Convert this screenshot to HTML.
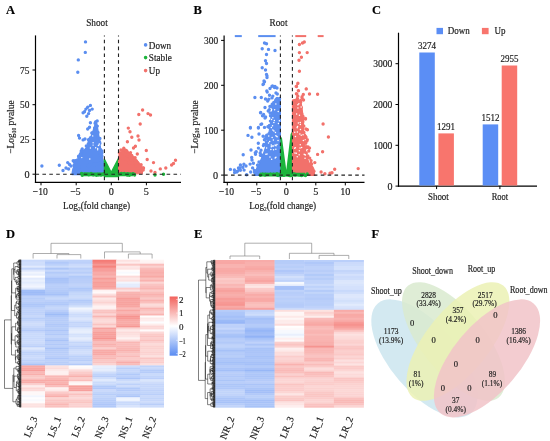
<!DOCTYPE html>
<html><head><meta charset="utf-8"><style>
html,body{margin:0;padding:0;background:#fff;width:550px;height:441px;overflow:hidden}
svg{display:block;font-family:"Liberation Serif",serif;will-change:transform}
text{stroke:#222;stroke-width:0.18px}
</style></head><body>
<svg width="550" height="441" viewBox="0 0 550 441">
<rect width="550" height="441" fill="#fff"/>
<text x="6" y="14" font-size="12.5" font-weight="bold" fill="#000">A</text>
<text x="193.5" y="14" font-size="12.5" font-weight="bold" fill="#000">B</text>
<text x="372" y="14" font-size="12.5" font-weight="bold" fill="#000">C</text>
<text x="6" y="237.8" font-size="12.5" font-weight="bold" fill="#000">D</text>
<text x="194" y="237.8" font-size="12.5" font-weight="bold" fill="#000">E</text>
<text x="371.5" y="237.8" font-size="12.5" font-weight="bold" fill="#000">F</text>
<line x1="35.5" y1="35.4" x2="35.5" y2="182.9" stroke="#000" stroke-width="1.2"/>
<line x1="34.9" y1="182.3" x2="181" y2="182.3" stroke="#000" stroke-width="1.2"/>
<line x1="32.5" y1="174.2" x2="35.5" y2="174.2" stroke="#000" stroke-width="1"/>
<text x="29.5" y="177.7" font-size="10.2" text-anchor="end" fill="#1a1a1a">0</text>
<line x1="32.5" y1="139.4" x2="35.5" y2="139.4" stroke="#000" stroke-width="1"/>
<text x="29.5" y="142.9" font-size="10.2" text-anchor="end" textLength="9.4" lengthAdjust="spacingAndGlyphs" fill="#1a1a1a">25</text>
<line x1="32.5" y1="104.7" x2="35.5" y2="104.7" stroke="#000" stroke-width="1"/>
<text x="29.5" y="108.2" font-size="10.2" text-anchor="end" textLength="9.4" lengthAdjust="spacingAndGlyphs" fill="#1a1a1a">50</text>
<line x1="32.5" y1="70" x2="35.5" y2="70" stroke="#000" stroke-width="1"/>
<text x="29.5" y="73.5" font-size="10.2" text-anchor="end" textLength="9.4" lengthAdjust="spacingAndGlyphs" fill="#1a1a1a">75</text>
<line x1="41" y1="182.3" x2="41" y2="185.3" stroke="#000" stroke-width="1"/>
<text x="40.3" y="195.3" font-size="10.2" text-anchor="middle" textLength="15" lengthAdjust="spacingAndGlyphs" fill="#1a1a1a">−10</text>
<line x1="76.2" y1="182.3" x2="76.2" y2="185.3" stroke="#000" stroke-width="1"/>
<text x="75.5" y="195.3" font-size="10.2" text-anchor="middle" textLength="10.2" lengthAdjust="spacingAndGlyphs" fill="#1a1a1a">−5</text>
<line x1="111.3" y1="182.3" x2="111.3" y2="185.3" stroke="#000" stroke-width="1"/>
<text x="111.3" y="195.3" font-size="10.2" text-anchor="middle" fill="#1a1a1a">0</text>
<line x1="146.4" y1="182.3" x2="146.4" y2="185.3" stroke="#000" stroke-width="1"/>
<text x="146.4" y="195.3" font-size="10.2" text-anchor="middle" fill="#1a1a1a">5</text>
<text x="86.2" y="26.1" font-size="10.5" textLength="21.6" lengthAdjust="spacingAndGlyphs" fill="#1a1a1a">Shoot</text>
<text x="96.6" y="208.7" font-size="9.6" text-anchor="middle" textLength="67" lengthAdjust="spacingAndGlyphs" fill="#1a1a1a">Log<tspan font-size="5.5" dy="1.8">2</tspan><tspan dy="-1.8">(fold change)</tspan></text>
<text transform="translate(13.9,127.1) rotate(-90)" font-size="9.6" text-anchor="middle" textLength="53.5" lengthAdjust="spacingAndGlyphs" fill="#1a1a1a">−Log<tspan font-size="5.5" dy="1.8">10</tspan><tspan dy="-1.8"> pvalue</tspan></text>
<path d="M72 174.5L73 169L76 161.7L82.2 152.6L86.8 147.2L92.5 133L96.3 121L98.3 133L100.6 149.7L103 160.8L104.4 163L104.4 174.5Z" fill="#5b8ef0" stroke="#5b8ef0" stroke-width="1.5" stroke-linejoin="round"/>
<path d="M90.1 133a1.7 1.7 0 1 0 3.4 0a1.7 1.7 0 1 0 -3.4 0M75.2 160.2a1.7 1.7 0 1 0 3.4 0a1.7 1.7 0 1 0 -3.4 0M74.2 161a1.7 1.7 0 1 0 3.4 0a1.7 1.7 0 1 0 -3.4 0M93.9 122a1.7 1.7 0 1 0 3.4 0a1.7 1.7 0 1 0 -3.4 0M95.5 120.9a1.7 1.7 0 1 0 3.4 0a1.7 1.7 0 1 0 -3.4 0M86.4 145.7a1.7 1.7 0 1 0 3.4 0a1.7 1.7 0 1 0 -3.4 0M97.5 142.4a1.7 1.7 0 1 0 3.4 0a1.7 1.7 0 1 0 -3.4 0M74.4 162.9a1.7 1.7 0 1 0 3.4 0a1.7 1.7 0 1 0 -3.4 0M79.4 152.4a1.7 1.7 0 1 0 3.4 0a1.7 1.7 0 1 0 -3.4 0M93.8 164.7a1.7 1.7 0 1 0 3.4 0a1.7 1.7 0 1 0 -3.4 0M98.5 149.2a1.7 1.7 0 1 0 3.4 0a1.7 1.7 0 1 0 -3.4 0M73.4 160.8a1.7 1.7 0 1 0 3.4 0a1.7 1.7 0 1 0 -3.4 0M99.7 153.9a1.7 1.7 0 1 0 3.4 0a1.7 1.7 0 1 0 -3.4 0M97.8 141.8a1.7 1.7 0 1 0 3.4 0a1.7 1.7 0 1 0 -3.4 0M97.8 163.4a1.7 1.7 0 1 0 3.4 0a1.7 1.7 0 1 0 -3.4 0M97.7 141.8a1.7 1.7 0 1 0 3.4 0a1.7 1.7 0 1 0 -3.4 0M100.7 161.7a1.7 1.7 0 1 0 3.4 0a1.7 1.7 0 1 0 -3.4 0M78.2 156.3a1.7 1.7 0 1 0 3.4 0a1.7 1.7 0 1 0 -3.4 0M80.9 151a1.7 1.7 0 1 0 3.4 0a1.7 1.7 0 1 0 -3.4 0M100.2 153a1.7 1.7 0 1 0 3.4 0a1.7 1.7 0 1 0 -3.4 0M86.6 166.5a1.7 1.7 0 1 0 3.4 0a1.7 1.7 0 1 0 -3.4 0M98.2 143.3a1.7 1.7 0 1 0 3.4 0a1.7 1.7 0 1 0 -3.4 0M92.6 165.1a1.7 1.7 0 1 0 3.4 0a1.7 1.7 0 1 0 -3.4 0M98.4 152.8a1.7 1.7 0 1 0 3.4 0a1.7 1.7 0 1 0 -3.4 0M100.2 150.9a1.7 1.7 0 1 0 3.4 0a1.7 1.7 0 1 0 -3.4 0M88.8 137.7a1.7 1.7 0 1 0 3.4 0a1.7 1.7 0 1 0 -3.4 0M72.3 165.5a1.7 1.7 0 1 0 3.4 0a1.7 1.7 0 1 0 -3.4 0M77.3 156.4a1.7 1.7 0 1 0 3.4 0a1.7 1.7 0 1 0 -3.4 0M78.6 154.2a1.7 1.7 0 1 0 3.4 0a1.7 1.7 0 1 0 -3.4 0M86.6 165.8a1.7 1.7 0 1 0 3.4 0a1.7 1.7 0 1 0 -3.4 0M98.2 138.5a1.7 1.7 0 1 0 3.4 0a1.7 1.7 0 1 0 -3.4 0M88 165.5a1.7 1.7 0 1 0 3.4 0a1.7 1.7 0 1 0 -3.4 0M93.2 129.4a1.7 1.7 0 1 0 3.4 0a1.7 1.7 0 1 0 -3.4 0M80.1 151.5a1.7 1.7 0 1 0 3.4 0a1.7 1.7 0 1 0 -3.4 0M86.6 143.6a1.7 1.7 0 1 0 3.4 0a1.7 1.7 0 1 0 -3.4 0M86.8 139.7a1.7 1.7 0 1 0 3.4 0a1.7 1.7 0 1 0 -3.4 0M92.9 128.1a1.7 1.7 0 1 0 3.4 0a1.7 1.7 0 1 0 -3.4 0M100.2 155.9a1.7 1.7 0 1 0 3.4 0a1.7 1.7 0 1 0 -3.4 0M98.7 154.8a1.7 1.7 0 1 0 3.4 0a1.7 1.7 0 1 0 -3.4 0M100 164.4a1.7 1.7 0 1 0 3.4 0a1.7 1.7 0 1 0 -3.4 0M93.4 123.2a1.7 1.7 0 1 0 3.4 0a1.7 1.7 0 1 0 -3.4 0M97.7 147.5a1.7 1.7 0 1 0 3.4 0a1.7 1.7 0 1 0 -3.4 0M84.6 146a1.7 1.7 0 1 0 3.4 0a1.7 1.7 0 1 0 -3.4 0M72.7 161.9a1.7 1.7 0 1 0 3.4 0a1.7 1.7 0 1 0 -3.4 0M76.9 156.3a1.7 1.7 0 1 0 3.4 0a1.7 1.7 0 1 0 -3.4 0M87.5 165.1a1.7 1.7 0 1 0 3.4 0a1.7 1.7 0 1 0 -3.4 0M87.2 140.8a1.7 1.7 0 1 0 3.4 0a1.7 1.7 0 1 0 -3.4 0M79.6 156.3a1.7 1.7 0 1 0 3.4 0a1.7 1.7 0 1 0 -3.4 0M95.6 126.1a1.7 1.7 0 1 0 3.4 0a1.7 1.7 0 1 0 -3.4 0M76.9 156.8a1.7 1.7 0 1 0 3.4 0a1.7 1.7 0 1 0 -3.4 0M92.1 163.7a1.7 1.7 0 1 0 3.4 0a1.7 1.7 0 1 0 -3.4 0M77.6 167a1.7 1.7 0 1 0 3.4 0a1.7 1.7 0 1 0 -3.4 0M96 137a1.7 1.7 0 1 0 3.4 0a1.7 1.7 0 1 0 -3.4 0M74.9 169a1.7 1.7 0 1 0 3.4 0a1.7 1.7 0 1 0 -3.4 0M87.6 139.3a1.7 1.7 0 1 0 3.4 0a1.7 1.7 0 1 0 -3.4 0M100.2 164.2a1.7 1.7 0 1 0 3.4 0a1.7 1.7 0 1 0 -3.4 0M90.5 132.6a1.7 1.7 0 1 0 3.4 0a1.7 1.7 0 1 0 -3.4 0M74.1 169.4a1.7 1.7 0 1 0 3.4 0a1.7 1.7 0 1 0 -3.4 0M94.9 164a1.7 1.7 0 1 0 3.4 0a1.7 1.7 0 1 0 -3.4 0M96.3 132.5a1.7 1.7 0 1 0 3.4 0a1.7 1.7 0 1 0 -3.4 0" fill="#5b8ef0"/>
<path d="M83.8 41.9a1.7 1.7 0 1 0 3.4 0a1.7 1.7 0 1 0 -3.4 0M83.6 52.4a1.7 1.7 0 1 0 3.4 0a1.7 1.7 0 1 0 -3.4 0M76.6 59.9a1.7 1.7 0 1 0 3.4 0a1.7 1.7 0 1 0 -3.4 0M76.1 72.3a1.7 1.7 0 1 0 3.4 0a1.7 1.7 0 1 0 -3.4 0M81.4 112.7a1.7 1.7 0 1 0 3.4 0a1.7 1.7 0 1 0 -3.4 0M84.2 109.1a1.7 1.7 0 1 0 3.4 0a1.7 1.7 0 1 0 -3.4 0M86 107.2a1.7 1.7 0 1 0 3.4 0a1.7 1.7 0 1 0 -3.4 0M88.7 105.4a1.7 1.7 0 1 0 3.4 0a1.7 1.7 0 1 0 -3.4 0M90.5 109.1a1.7 1.7 0 1 0 3.4 0a1.7 1.7 0 1 0 -3.4 0M85.1 116.3a1.7 1.7 0 1 0 3.4 0a1.7 1.7 0 1 0 -3.4 0M86.9 113.6a1.7 1.7 0 1 0 3.4 0a1.7 1.7 0 1 0 -3.4 0M82.8 111.8a1.7 1.7 0 1 0 3.4 0a1.7 1.7 0 1 0 -3.4 0M87.8 110.5a1.7 1.7 0 1 0 3.4 0a1.7 1.7 0 1 0 -3.4 0M76.9 135.4a1.7 1.7 0 1 0 3.4 0a1.7 1.7 0 1 0 -3.4 0M77.8 138.1a1.7 1.7 0 1 0 3.4 0a1.7 1.7 0 1 0 -3.4 0M81.4 139.9a1.7 1.7 0 1 0 3.4 0a1.7 1.7 0 1 0 -3.4 0M83.3 139a1.7 1.7 0 1 0 3.4 0a1.7 1.7 0 1 0 -3.4 0M86 129a1.7 1.7 0 1 0 3.4 0a1.7 1.7 0 1 0 -3.4 0M87.8 127.2a1.7 1.7 0 1 0 3.4 0a1.7 1.7 0 1 0 -3.4 0M88.7 122.7a1.7 1.7 0 1 0 3.4 0a1.7 1.7 0 1 0 -3.4 0M80.5 149a1.7 1.7 0 1 0 3.4 0a1.7 1.7 0 1 0 -3.4 0M79.6 150.8a1.7 1.7 0 1 0 3.4 0a1.7 1.7 0 1 0 -3.4 0M66 162.6a1.7 1.7 0 1 0 3.4 0a1.7 1.7 0 1 0 -3.4 0M67.8 164.4a1.7 1.7 0 1 0 3.4 0a1.7 1.7 0 1 0 -3.4 0M66.9 169a1.7 1.7 0 1 0 3.4 0a1.7 1.7 0 1 0 -3.4 0M71.5 160.8a1.7 1.7 0 1 0 3.4 0a1.7 1.7 0 1 0 -3.4 0M73.3 163.5a1.7 1.7 0 1 0 3.4 0a1.7 1.7 0 1 0 -3.4 0M40.2 166a1.7 1.7 0 1 0 3.4 0a1.7 1.7 0 1 0 -3.4 0M57.6 165.3a1.7 1.7 0 1 0 3.4 0a1.7 1.7 0 1 0 -3.4 0M64.3 168a1.7 1.7 0 1 0 3.4 0a1.7 1.7 0 1 0 -3.4 0M61.3 170.5a1.7 1.7 0 1 0 3.4 0a1.7 1.7 0 1 0 -3.4 0M69.3 166a1.7 1.7 0 1 0 3.4 0a1.7 1.7 0 1 0 -3.4 0" fill="#5b8ef0"/>
<path d="M95 147.7a0.7 0.7 0 1 0 1.4 0a0.7 0.7 0 1 0 -1.4 0M92.4 142.7a0.7 0.7 0 1 0 1.4 0a0.7 0.7 0 1 0 -1.4 0M97 148.5a0.7 0.7 0 1 0 1.4 0a0.7 0.7 0 1 0 -1.4 0M98.2 144.9a0.7 0.7 0 1 0 1.4 0a0.7 0.7 0 1 0 -1.4 0M97 149.7a0.7 0.7 0 1 0 1.4 0a0.7 0.7 0 1 0 -1.4 0M89.1 159a0.7 0.7 0 1 0 1.4 0a0.7 0.7 0 1 0 -1.4 0M97.7 145.5a0.7 0.7 0 1 0 1.4 0a0.7 0.7 0 1 0 -1.4 0M98.6 143.9a0.7 0.7 0 1 0 1.4 0a0.7 0.7 0 1 0 -1.4 0M92 135.9a0.7 0.7 0 1 0 1.4 0a0.7 0.7 0 1 0 -1.4 0M81.1 157.6a0.7 0.7 0 1 0 1.4 0a0.7 0.7 0 1 0 -1.4 0M92.4 145.1a0.7 0.7 0 1 0 1.4 0a0.7 0.7 0 1 0 -1.4 0M89.7 148a0.7 0.7 0 1 0 1.4 0a0.7 0.7 0 1 0 -1.4 0" fill="#fff"/>
<path d="M104.5 159.5L111.2 172.6L118.5 158.5L118.5 176.5L104.5 176.5Z" fill="#1db43c" stroke="#1db43c" stroke-width="1.5" stroke-linejoin="round"/>
<path d="M118.5 160.5L119 155L121.5 151L124.7 148.3L127 150.5L131 154L136 158.5L139.5 163L142.5 170L142.5 173.8L118.5 173.8Z" fill="#f2716b" stroke="#f2716b" stroke-width="1.0" stroke-linejoin="round"/>
<path d="M117.7 152.9a1.7 1.7 0 1 0 3.4 0a1.7 1.7 0 1 0 -3.4 0M135.3 165.7a1.7 1.7 0 1 0 3.4 0a1.7 1.7 0 1 0 -3.4 0M121.9 158.3a1.7 1.7 0 1 0 3.4 0a1.7 1.7 0 1 0 -3.4 0M133.4 157.6a1.7 1.7 0 1 0 3.4 0a1.7 1.7 0 1 0 -3.4 0M125.2 151.3a1.7 1.7 0 1 0 3.4 0a1.7 1.7 0 1 0 -3.4 0M123.6 158.5a1.7 1.7 0 1 0 3.4 0a1.7 1.7 0 1 0 -3.4 0M137.1 166.2a1.7 1.7 0 1 0 3.4 0a1.7 1.7 0 1 0 -3.4 0M137 167.6a1.7 1.7 0 1 0 3.4 0a1.7 1.7 0 1 0 -3.4 0M131 163a1.7 1.7 0 1 0 3.4 0a1.7 1.7 0 1 0 -3.4 0M128.5 163.1a1.7 1.7 0 1 0 3.4 0a1.7 1.7 0 1 0 -3.4 0M118.6 155.8a1.7 1.7 0 1 0 3.4 0a1.7 1.7 0 1 0 -3.4 0M120.8 156.1a1.7 1.7 0 1 0 3.4 0a1.7 1.7 0 1 0 -3.4 0M121.7 149.7a1.7 1.7 0 1 0 3.4 0a1.7 1.7 0 1 0 -3.4 0M127.1 162.6a1.7 1.7 0 1 0 3.4 0a1.7 1.7 0 1 0 -3.4 0M118.8 155.3a1.7 1.7 0 1 0 3.4 0a1.7 1.7 0 1 0 -3.4 0M139.3 167.4a1.7 1.7 0 1 0 3.4 0a1.7 1.7 0 1 0 -3.4 0M119.3 156.1a1.7 1.7 0 1 0 3.4 0a1.7 1.7 0 1 0 -3.4 0M120.8 158.2a1.7 1.7 0 1 0 3.4 0a1.7 1.7 0 1 0 -3.4 0M126.2 160.5a1.7 1.7 0 1 0 3.4 0a1.7 1.7 0 1 0 -3.4 0M130 155.4a1.7 1.7 0 1 0 3.4 0a1.7 1.7 0 1 0 -3.4 0M128.8 152.8a1.7 1.7 0 1 0 3.4 0a1.7 1.7 0 1 0 -3.4 0M121.9 158.1a1.7 1.7 0 1 0 3.4 0a1.7 1.7 0 1 0 -3.4 0M141.2 169.5a1.7 1.7 0 1 0 3.4 0a1.7 1.7 0 1 0 -3.4 0M121.8 158a1.7 1.7 0 1 0 3.4 0a1.7 1.7 0 1 0 -3.4 0M138.4 166.9a1.7 1.7 0 1 0 3.4 0a1.7 1.7 0 1 0 -3.4 0M124 151.1a1.7 1.7 0 1 0 3.4 0a1.7 1.7 0 1 0 -3.4 0M124.6 150.5a1.7 1.7 0 1 0 3.4 0a1.7 1.7 0 1 0 -3.4 0M140 169a1.7 1.7 0 1 0 3.4 0a1.7 1.7 0 1 0 -3.4 0M141 168a1.7 1.7 0 1 0 3.4 0a1.7 1.7 0 1 0 -3.4 0M139.9 168.7a1.7 1.7 0 1 0 3.4 0a1.7 1.7 0 1 0 -3.4 0M129.9 163.2a1.7 1.7 0 1 0 3.4 0a1.7 1.7 0 1 0 -3.4 0M131.5 163.3a1.7 1.7 0 1 0 3.4 0a1.7 1.7 0 1 0 -3.4 0M138.6 168.6a1.7 1.7 0 1 0 3.4 0a1.7 1.7 0 1 0 -3.4 0M134.1 165.9a1.7 1.7 0 1 0 3.4 0a1.7 1.7 0 1 0 -3.4 0M139.4 164.8a1.7 1.7 0 1 0 3.4 0a1.7 1.7 0 1 0 -3.4 0M125.2 158.8a1.7 1.7 0 1 0 3.4 0a1.7 1.7 0 1 0 -3.4 0M141.5 170a1.7 1.7 0 1 0 3.4 0a1.7 1.7 0 1 0 -3.4 0M122.1 148.2a1.7 1.7 0 1 0 3.4 0a1.7 1.7 0 1 0 -3.4 0M119.2 150a1.7 1.7 0 1 0 3.4 0a1.7 1.7 0 1 0 -3.4 0M136.2 167.6a1.7 1.7 0 1 0 3.4 0a1.7 1.7 0 1 0 -3.4 0" fill="#f2716b"/>
<path d="M140.9 110a1.7 1.7 0 1 0 3.4 0a1.7 1.7 0 1 0 -3.4 0M137.1 114.5a1.7 1.7 0 1 0 3.4 0a1.7 1.7 0 1 0 -3.4 0M146.3 113.6a1.7 1.7 0 1 0 3.4 0a1.7 1.7 0 1 0 -3.4 0M148.8 115a1.7 1.7 0 1 0 3.4 0a1.7 1.7 0 1 0 -3.4 0M138.5 124a1.7 1.7 0 1 0 3.4 0a1.7 1.7 0 1 0 -3.4 0M126.6 128.1a1.7 1.7 0 1 0 3.4 0a1.7 1.7 0 1 0 -3.4 0M128.3 131.7a1.7 1.7 0 1 0 3.4 0a1.7 1.7 0 1 0 -3.4 0M130.1 137.2a1.7 1.7 0 1 0 3.4 0a1.7 1.7 0 1 0 -3.4 0M136.3 136a1.7 1.7 0 1 0 3.4 0a1.7 1.7 0 1 0 -3.4 0M137.3 140a1.7 1.7 0 1 0 3.4 0a1.7 1.7 0 1 0 -3.4 0M125.7 141.7a1.7 1.7 0 1 0 3.4 0a1.7 1.7 0 1 0 -3.4 0M133.7 146.2a1.7 1.7 0 1 0 3.4 0a1.7 1.7 0 1 0 -3.4 0M131.8 148a1.7 1.7 0 1 0 3.4 0a1.7 1.7 0 1 0 -3.4 0M144.6 150.5a1.7 1.7 0 1 0 3.4 0a1.7 1.7 0 1 0 -3.4 0M126.8 153.6a1.7 1.7 0 1 0 3.4 0a1.7 1.7 0 1 0 -3.4 0M135.6 154a1.7 1.7 0 1 0 3.4 0a1.7 1.7 0 1 0 -3.4 0M145.5 159.5a1.7 1.7 0 1 0 3.4 0a1.7 1.7 0 1 0 -3.4 0M151.8 162.6a1.7 1.7 0 1 0 3.4 0a1.7 1.7 0 1 0 -3.4 0M164.1 168a1.7 1.7 0 1 0 3.4 0a1.7 1.7 0 1 0 -3.4 0M158.6 168.9a1.7 1.7 0 1 0 3.4 0a1.7 1.7 0 1 0 -3.4 0M171.8 163.5a1.7 1.7 0 1 0 3.4 0a1.7 1.7 0 1 0 -3.4 0M173.8 160.3a1.7 1.7 0 1 0 3.4 0a1.7 1.7 0 1 0 -3.4 0M169.9 165a1.7 1.7 0 1 0 3.4 0a1.7 1.7 0 1 0 -3.4 0M153.3 172.5a1.7 1.7 0 1 0 3.4 0a1.7 1.7 0 1 0 -3.4 0M149.3 171a1.7 1.7 0 1 0 3.4 0a1.7 1.7 0 1 0 -3.4 0M141.8 168a1.7 1.7 0 1 0 3.4 0a1.7 1.7 0 1 0 -3.4 0" fill="#f2716b"/>
<path d="M82 172.6L133 172.6L133 176.2L82 176.2Z" fill="#1db43c"/>
<path d="M95.7 174.7a1.7 1.7 0 1 0 3.4 0a1.7 1.7 0 1 0 -3.4 0M94.8 175.3a1.7 1.7 0 1 0 3.4 0a1.7 1.7 0 1 0 -3.4 0M103.4 174.2a1.7 1.7 0 1 0 3.4 0a1.7 1.7 0 1 0 -3.4 0M132.9 175.1a1.7 1.7 0 1 0 3.4 0a1.7 1.7 0 1 0 -3.4 0M95.9 174.4a1.7 1.7 0 1 0 3.4 0a1.7 1.7 0 1 0 -3.4 0M115 174a1.7 1.7 0 1 0 3.4 0a1.7 1.7 0 1 0 -3.4 0M107.9 174.5a1.7 1.7 0 1 0 3.4 0a1.7 1.7 0 1 0 -3.4 0M125.8 174.1a1.7 1.7 0 1 0 3.4 0a1.7 1.7 0 1 0 -3.4 0M119.7 173.5a1.7 1.7 0 1 0 3.4 0a1.7 1.7 0 1 0 -3.4 0M80.5 175.3a1.7 1.7 0 1 0 3.4 0a1.7 1.7 0 1 0 -3.4 0M89.4 173.5a1.7 1.7 0 1 0 3.4 0a1.7 1.7 0 1 0 -3.4 0M102.2 173.7a1.7 1.7 0 1 0 3.4 0a1.7 1.7 0 1 0 -3.4 0M125.6 175a1.7 1.7 0 1 0 3.4 0a1.7 1.7 0 1 0 -3.4 0M106 175.2a1.7 1.7 0 1 0 3.4 0a1.7 1.7 0 1 0 -3.4 0M125.9 173.6a1.7 1.7 0 1 0 3.4 0a1.7 1.7 0 1 0 -3.4 0M85 174.3a1.7 1.7 0 1 0 3.4 0a1.7 1.7 0 1 0 -3.4 0M87.1 174.7a1.7 1.7 0 1 0 3.4 0a1.7 1.7 0 1 0 -3.4 0M99.3 175.1a1.7 1.7 0 1 0 3.4 0a1.7 1.7 0 1 0 -3.4 0M86.4 174.3a1.7 1.7 0 1 0 3.4 0a1.7 1.7 0 1 0 -3.4 0M115.7 175.3a1.7 1.7 0 1 0 3.4 0a1.7 1.7 0 1 0 -3.4 0M107 174.5a1.7 1.7 0 1 0 3.4 0a1.7 1.7 0 1 0 -3.4 0M103.7 173.7a1.7 1.7 0 1 0 3.4 0a1.7 1.7 0 1 0 -3.4 0M83.2 174a1.7 1.7 0 1 0 3.4 0a1.7 1.7 0 1 0 -3.4 0M112.4 174a1.7 1.7 0 1 0 3.4 0a1.7 1.7 0 1 0 -3.4 0M132.6 174.1a1.7 1.7 0 1 0 3.4 0a1.7 1.7 0 1 0 -3.4 0M79.8 173.4a1.7 1.7 0 1 0 3.4 0a1.7 1.7 0 1 0 -3.4 0M107.8 173.8a1.7 1.7 0 1 0 3.4 0a1.7 1.7 0 1 0 -3.4 0M131.4 173.6a1.7 1.7 0 1 0 3.4 0a1.7 1.7 0 1 0 -3.4 0M98.1 174.4a1.7 1.7 0 1 0 3.4 0a1.7 1.7 0 1 0 -3.4 0M96.3 174.4a1.7 1.7 0 1 0 3.4 0a1.7 1.7 0 1 0 -3.4 0M113.6 174.1a1.7 1.7 0 1 0 3.4 0a1.7 1.7 0 1 0 -3.4 0M97.2 174.7a1.7 1.7 0 1 0 3.4 0a1.7 1.7 0 1 0 -3.4 0M122.5 173.5a1.7 1.7 0 1 0 3.4 0a1.7 1.7 0 1 0 -3.4 0M91.7 174.9a1.7 1.7 0 1 0 3.4 0a1.7 1.7 0 1 0 -3.4 0M105.7 173.6a1.7 1.7 0 1 0 3.4 0a1.7 1.7 0 1 0 -3.4 0M96.5 174.7a1.7 1.7 0 1 0 3.4 0a1.7 1.7 0 1 0 -3.4 0M108.8 174a1.7 1.7 0 1 0 3.4 0a1.7 1.7 0 1 0 -3.4 0M128.2 174.3a1.7 1.7 0 1 0 3.4 0a1.7 1.7 0 1 0 -3.4 0M108.2 175.3a1.7 1.7 0 1 0 3.4 0a1.7 1.7 0 1 0 -3.4 0M127.6 175.3a1.7 1.7 0 1 0 3.4 0a1.7 1.7 0 1 0 -3.4 0" fill="#1db43c"/>
<path d="M161.8 174.2a1.7 1.7 0 1 0 3.4 0a1.7 1.7 0 1 0 -3.4 0M153.3 175a1.7 1.7 0 1 0 3.4 0a1.7 1.7 0 1 0 -3.4 0" fill="#1db43c"/>
<path d="M143.8 44.9a1.8 1.8 0 1 0 3.6 0a1.8 1.8 0 1 0 -3.6 0" fill="#5b8ef0"/>
<path d="M143.8 57.6a1.8 1.8 0 1 0 3.6 0a1.8 1.8 0 1 0 -3.6 0" fill="#1db43c"/>
<path d="M143.8 70.6a1.8 1.8 0 1 0 3.6 0a1.8 1.8 0 1 0 -3.6 0" fill="#f2716b"/>
<line x1="104.4" y1="35.5" x2="104.4" y2="182.3" stroke="#222" stroke-width="1.1" stroke-dasharray="3.6 3.25" stroke-dashoffset="2.65"/>
<line x1="118.5" y1="35.5" x2="118.5" y2="182.3" stroke="#222" stroke-width="1.1" stroke-dasharray="3.6 3.25" stroke-dashoffset="2.65"/>
<line x1="35.5" y1="174.2" x2="181" y2="174.2" stroke="#222" stroke-width="1.1" stroke-dasharray="3.6 3.3"/>
<text x="148.8" y="48.5" font-size="9.5" textLength="22.3" lengthAdjust="spacingAndGlyphs" fill="#1a1a1a">Down</text>
<text x="148.8" y="61.2" font-size="9.5" textLength="23" lengthAdjust="spacingAndGlyphs" fill="#1a1a1a">Stable</text>
<text x="148.8" y="73.6" font-size="9.5" textLength="11.2" lengthAdjust="spacingAndGlyphs" fill="#1a1a1a">Up</text>
<line x1="224.1" y1="35.4" x2="224.1" y2="183" stroke="#000" stroke-width="1.2"/>
<line x1="223.5" y1="182.4" x2="364.5" y2="182.4" stroke="#000" stroke-width="1.2"/>
<line x1="221.1" y1="175.1" x2="224.1" y2="175.1" stroke="#000" stroke-width="1"/>
<text x="218.1" y="178.6" font-size="10.2" text-anchor="end" fill="#1a1a1a">0</text>
<line x1="221.1" y1="130.2" x2="224.1" y2="130.2" stroke="#000" stroke-width="1"/>
<text x="218.1" y="133.7" font-size="10.2" text-anchor="end" textLength="14.1" lengthAdjust="spacingAndGlyphs" fill="#1a1a1a">100</text>
<line x1="221.1" y1="85.3" x2="224.1" y2="85.3" stroke="#000" stroke-width="1"/>
<text x="218.1" y="88.8" font-size="10.2" text-anchor="end" textLength="14.1" lengthAdjust="spacingAndGlyphs" fill="#1a1a1a">200</text>
<line x1="221.1" y1="40.4" x2="224.1" y2="40.4" stroke="#000" stroke-width="1"/>
<text x="218.1" y="43.9" font-size="10.2" text-anchor="end" textLength="14.1" lengthAdjust="spacingAndGlyphs" fill="#1a1a1a">300</text>
<line x1="227.3" y1="182.4" x2="227.3" y2="185.4" stroke="#000" stroke-width="1"/>
<text x="226.6" y="195.4" font-size="10.2" text-anchor="middle" textLength="15" lengthAdjust="spacingAndGlyphs" fill="#1a1a1a">−10</text>
<line x1="256.8" y1="182.4" x2="256.8" y2="185.4" stroke="#000" stroke-width="1"/>
<text x="256.1" y="195.4" font-size="10.2" text-anchor="middle" textLength="10.2" lengthAdjust="spacingAndGlyphs" fill="#1a1a1a">−5</text>
<line x1="286.3" y1="182.4" x2="286.3" y2="185.4" stroke="#000" stroke-width="1"/>
<text x="286.3" y="195.4" font-size="10.2" text-anchor="middle" fill="#1a1a1a">0</text>
<line x1="315.8" y1="182.4" x2="315.8" y2="185.4" stroke="#000" stroke-width="1"/>
<text x="315.8" y="195.4" font-size="10.2" text-anchor="middle" fill="#1a1a1a">5</text>
<line x1="345.3" y1="182.4" x2="345.3" y2="185.4" stroke="#000" stroke-width="1"/>
<text x="345.3" y="195.4" font-size="10.2" text-anchor="middle" fill="#1a1a1a">10</text>
<text x="269.5" y="26" font-size="10.5" textLength="18" lengthAdjust="spacingAndGlyphs" fill="#1a1a1a">Root</text>
<text x="282.7" y="208.8" font-size="9.6" text-anchor="middle" textLength="67" lengthAdjust="spacingAndGlyphs" fill="#1a1a1a">Log<tspan font-size="5.5" dy="1.8">2</tspan><tspan dy="-1.8">(fold change)</tspan></text>
<text transform="translate(197.5,127.1) rotate(-90)" font-size="9.6" text-anchor="middle" textLength="53.5" lengthAdjust="spacingAndGlyphs" fill="#1a1a1a">−Log<tspan font-size="5.5" dy="1.8">10</tspan><tspan dy="-1.8"> pvalue</tspan></text>
<path d="M280.4 99L277 98.5L274.5 103L273 109L271.5 117L270 127L268 137L266 146L263 155L259.5 163L256.5 169L255 173.5L254 175.5L280.4 175.5Z" fill="#5b8ef0" stroke="#5b8ef0" stroke-width="1.2" stroke-linejoin="round"/>
<path d="M264.1 144.5a1.7 1.7 0 1 0 3.4 0a1.7 1.7 0 1 0 -3.4 0M260.7 156.3a1.7 1.7 0 1 0 3.4 0a1.7 1.7 0 1 0 -3.4 0M267.9 127.8a1.7 1.7 0 1 0 3.4 0a1.7 1.7 0 1 0 -3.4 0M265 138.4a1.7 1.7 0 1 0 3.4 0a1.7 1.7 0 1 0 -3.4 0M271.4 103.9a1.7 1.7 0 1 0 3.4 0a1.7 1.7 0 1 0 -3.4 0M267.1 133.9a1.7 1.7 0 1 0 3.4 0a1.7 1.7 0 1 0 -3.4 0M264.6 136.5a1.7 1.7 0 1 0 3.4 0a1.7 1.7 0 1 0 -3.4 0M269.7 116.3a1.7 1.7 0 1 0 3.4 0a1.7 1.7 0 1 0 -3.4 0M273.9 101.3a1.7 1.7 0 1 0 3.4 0a1.7 1.7 0 1 0 -3.4 0M258.5 152.9a1.7 1.7 0 1 0 3.4 0a1.7 1.7 0 1 0 -3.4 0M270.8 115.3a1.7 1.7 0 1 0 3.4 0a1.7 1.7 0 1 0 -3.4 0M266.2 126.8a1.7 1.7 0 1 0 3.4 0a1.7 1.7 0 1 0 -3.4 0M254.2 173.8a1.7 1.7 0 1 0 3.4 0a1.7 1.7 0 1 0 -3.4 0M267.8 125.5a1.7 1.7 0 1 0 3.4 0a1.7 1.7 0 1 0 -3.4 0M261.7 145.6a1.7 1.7 0 1 0 3.4 0a1.7 1.7 0 1 0 -3.4 0M272.1 102.5a1.7 1.7 0 1 0 3.4 0a1.7 1.7 0 1 0 -3.4 0M271.1 114.2a1.7 1.7 0 1 0 3.4 0a1.7 1.7 0 1 0 -3.4 0M259.1 154.9a1.7 1.7 0 1 0 3.4 0a1.7 1.7 0 1 0 -3.4 0M252.8 172.3a1.7 1.7 0 1 0 3.4 0a1.7 1.7 0 1 0 -3.4 0M264.2 136.5a1.7 1.7 0 1 0 3.4 0a1.7 1.7 0 1 0 -3.4 0M259.3 150.3a1.7 1.7 0 1 0 3.4 0a1.7 1.7 0 1 0 -3.4 0M265.4 136.3a1.7 1.7 0 1 0 3.4 0a1.7 1.7 0 1 0 -3.4 0M262.7 139.8a1.7 1.7 0 1 0 3.4 0a1.7 1.7 0 1 0 -3.4 0M274.2 101.9a1.7 1.7 0 1 0 3.4 0a1.7 1.7 0 1 0 -3.4 0M254.8 170.7a1.7 1.7 0 1 0 3.4 0a1.7 1.7 0 1 0 -3.4 0M258.7 155.2a1.7 1.7 0 1 0 3.4 0a1.7 1.7 0 1 0 -3.4 0M268.7 121.1a1.7 1.7 0 1 0 3.4 0a1.7 1.7 0 1 0 -3.4 0M264.7 143.7a1.7 1.7 0 1 0 3.4 0a1.7 1.7 0 1 0 -3.4 0M271.2 107.6a1.7 1.7 0 1 0 3.4 0a1.7 1.7 0 1 0 -3.4 0M262.1 144.4a1.7 1.7 0 1 0 3.4 0a1.7 1.7 0 1 0 -3.4 0M253.9 171.2a1.7 1.7 0 1 0 3.4 0a1.7 1.7 0 1 0 -3.4 0M270.8 115.5a1.7 1.7 0 1 0 3.4 0a1.7 1.7 0 1 0 -3.4 0M275.3 100.7a1.7 1.7 0 1 0 3.4 0a1.7 1.7 0 1 0 -3.4 0M256.4 168.3a1.7 1.7 0 1 0 3.4 0a1.7 1.7 0 1 0 -3.4 0M255.8 165.3a1.7 1.7 0 1 0 3.4 0a1.7 1.7 0 1 0 -3.4 0M272.3 106.9a1.7 1.7 0 1 0 3.4 0a1.7 1.7 0 1 0 -3.4 0M269.4 120.7a1.7 1.7 0 1 0 3.4 0a1.7 1.7 0 1 0 -3.4 0M270.3 118.3a1.7 1.7 0 1 0 3.4 0a1.7 1.7 0 1 0 -3.4 0M270.8 114.9a1.7 1.7 0 1 0 3.4 0a1.7 1.7 0 1 0 -3.4 0M270.8 112.8a1.7 1.7 0 1 0 3.4 0a1.7 1.7 0 1 0 -3.4 0M275 98.9a1.7 1.7 0 1 0 3.4 0a1.7 1.7 0 1 0 -3.4 0M263.9 144.1a1.7 1.7 0 1 0 3.4 0a1.7 1.7 0 1 0 -3.4 0M264.9 145.4a1.7 1.7 0 1 0 3.4 0a1.7 1.7 0 1 0 -3.4 0M265 135.2a1.7 1.7 0 1 0 3.4 0a1.7 1.7 0 1 0 -3.4 0M272.5 110.5a1.7 1.7 0 1 0 3.4 0a1.7 1.7 0 1 0 -3.4 0M264.8 142.3a1.7 1.7 0 1 0 3.4 0a1.7 1.7 0 1 0 -3.4 0M275.4 98.4a1.7 1.7 0 1 0 3.4 0a1.7 1.7 0 1 0 -3.4 0M257.3 161.9a1.7 1.7 0 1 0 3.4 0a1.7 1.7 0 1 0 -3.4 0M271.2 113.1a1.7 1.7 0 1 0 3.4 0a1.7 1.7 0 1 0 -3.4 0M271.9 107.7a1.7 1.7 0 1 0 3.4 0a1.7 1.7 0 1 0 -3.4 0M253 171.8a1.7 1.7 0 1 0 3.4 0a1.7 1.7 0 1 0 -3.4 0M274.2 105.8a1.7 1.7 0 1 0 3.4 0a1.7 1.7 0 1 0 -3.4 0M259.9 155a1.7 1.7 0 1 0 3.4 0a1.7 1.7 0 1 0 -3.4 0M255.9 165.3a1.7 1.7 0 1 0 3.4 0a1.7 1.7 0 1 0 -3.4 0M263.4 139.3a1.7 1.7 0 1 0 3.4 0a1.7 1.7 0 1 0 -3.4 0" fill="#5b8ef0"/>
<path d="M235.8 171.1a1.7 1.7 0 1 0 3.4 0a1.7 1.7 0 1 0 -3.4 0M260 124a1.7 1.7 0 1 0 3.4 0a1.7 1.7 0 1 0 -3.4 0M267.4 126.3a1.7 1.7 0 1 0 3.4 0a1.7 1.7 0 1 0 -3.4 0M261.4 136.2a1.7 1.7 0 1 0 3.4 0a1.7 1.7 0 1 0 -3.4 0M249 172a1.7 1.7 0 1 0 3.4 0a1.7 1.7 0 1 0 -3.4 0M265.8 136.4a1.7 1.7 0 1 0 3.4 0a1.7 1.7 0 1 0 -3.4 0M266 101a1.7 1.7 0 1 0 3.4 0a1.7 1.7 0 1 0 -3.4 0M250.2 137.3a1.7 1.7 0 1 0 3.4 0a1.7 1.7 0 1 0 -3.4 0M238.7 165a1.7 1.7 0 1 0 3.4 0a1.7 1.7 0 1 0 -3.4 0M253.6 152.8a1.7 1.7 0 1 0 3.4 0a1.7 1.7 0 1 0 -3.4 0M236.8 167.9a1.7 1.7 0 1 0 3.4 0a1.7 1.7 0 1 0 -3.4 0M271.1 96.1a1.7 1.7 0 1 0 3.4 0a1.7 1.7 0 1 0 -3.4 0M250 157.5a1.7 1.7 0 1 0 3.4 0a1.7 1.7 0 1 0 -3.4 0M268.2 106.4a1.7 1.7 0 1 0 3.4 0a1.7 1.7 0 1 0 -3.4 0M277.8 98.5a1.7 1.7 0 1 0 3.4 0a1.7 1.7 0 1 0 -3.4 0M237.9 169.4a1.7 1.7 0 1 0 3.4 0a1.7 1.7 0 1 0 -3.4 0M248.4 164.1a1.7 1.7 0 1 0 3.4 0a1.7 1.7 0 1 0 -3.4 0M270.5 104.3a1.7 1.7 0 1 0 3.4 0a1.7 1.7 0 1 0 -3.4 0M244.9 174.7a1.7 1.7 0 1 0 3.4 0a1.7 1.7 0 1 0 -3.4 0M276.4 175.6a1.7 1.7 0 1 0 3.4 0a1.7 1.7 0 1 0 -3.4 0M254.5 151.8a1.7 1.7 0 1 0 3.4 0a1.7 1.7 0 1 0 -3.4 0M253.8 154.3a1.7 1.7 0 1 0 3.4 0a1.7 1.7 0 1 0 -3.4 0M251.7 163.3a1.7 1.7 0 1 0 3.4 0a1.7 1.7 0 1 0 -3.4 0M232.9 172.6a1.7 1.7 0 1 0 3.4 0a1.7 1.7 0 1 0 -3.4 0M256.7 148.1a1.7 1.7 0 1 0 3.4 0a1.7 1.7 0 1 0 -3.4 0M256.6 143.3a1.7 1.7 0 1 0 3.4 0a1.7 1.7 0 1 0 -3.4 0M252.7 170.4a1.7 1.7 0 1 0 3.4 0a1.7 1.7 0 1 0 -3.4 0M260.8 115.8a1.7 1.7 0 1 0 3.4 0a1.7 1.7 0 1 0 -3.4 0M241.5 154.7a1.7 1.7 0 1 0 3.4 0a1.7 1.7 0 1 0 -3.4 0M278.6 175.7a1.7 1.7 0 1 0 3.4 0a1.7 1.7 0 1 0 -3.4 0M238.7 170.3a1.7 1.7 0 1 0 3.4 0a1.7 1.7 0 1 0 -3.4 0M268.8 115.7a1.7 1.7 0 1 0 3.4 0a1.7 1.7 0 1 0 -3.4 0M263.3 107.5a1.7 1.7 0 1 0 3.4 0a1.7 1.7 0 1 0 -3.4 0M258.8 112.7a1.7 1.7 0 1 0 3.4 0a1.7 1.7 0 1 0 -3.4 0M250.9 167.9a1.7 1.7 0 1 0 3.4 0a1.7 1.7 0 1 0 -3.4 0M270.3 97.9a1.7 1.7 0 1 0 3.4 0a1.7 1.7 0 1 0 -3.4 0M259 112.5a1.7 1.7 0 1 0 3.4 0a1.7 1.7 0 1 0 -3.4 0M264.6 137.4a1.7 1.7 0 1 0 3.4 0a1.7 1.7 0 1 0 -3.4 0M241.1 167.3a1.7 1.7 0 1 0 3.4 0a1.7 1.7 0 1 0 -3.4 0M232.7 170a1.7 1.7 0 1 0 3.4 0a1.7 1.7 0 1 0 -3.4 0M242.4 170.1a1.7 1.7 0 1 0 3.4 0a1.7 1.7 0 1 0 -3.4 0M268.4 112.9a1.7 1.7 0 1 0 3.4 0a1.7 1.7 0 1 0 -3.4 0M267.1 99.3a1.7 1.7 0 1 0 3.4 0a1.7 1.7 0 1 0 -3.4 0M267.6 109.6a1.7 1.7 0 1 0 3.4 0a1.7 1.7 0 1 0 -3.4 0M242.2 164.3a1.7 1.7 0 1 0 3.4 0a1.7 1.7 0 1 0 -3.4 0M259.2 124.4a1.7 1.7 0 1 0 3.4 0a1.7 1.7 0 1 0 -3.4 0M263.9 117a1.7 1.7 0 1 0 3.4 0a1.7 1.7 0 1 0 -3.4 0M257.3 134a1.7 1.7 0 1 0 3.4 0a1.7 1.7 0 1 0 -3.4 0" fill="#5b8ef0"/>
<path d="M267.8 143a0.75 0.75 0 1 0 1.5 0a0.75 0.75 0 1 0 -1.5 0M272.6 140.1a0.75 0.75 0 1 0 1.5 0a0.75 0.75 0 1 0 -1.5 0M270.8 119.5a0.75 0.75 0 1 0 1.5 0a0.75 0.75 0 1 0 -1.5 0M272.1 117.7a0.75 0.75 0 1 0 1.5 0a0.75 0.75 0 1 0 -1.5 0M277.3 140.5a0.75 0.75 0 1 0 1.5 0a0.75 0.75 0 1 0 -1.5 0M276.4 136.7a0.75 0.75 0 1 0 1.5 0a0.75 0.75 0 1 0 -1.5 0M270.6 127.6a0.75 0.75 0 1 0 1.5 0a0.75 0.75 0 1 0 -1.5 0M266.3 154a0.75 0.75 0 1 0 1.5 0a0.75 0.75 0 1 0 -1.5 0M273.9 109.8a0.75 0.75 0 1 0 1.5 0a0.75 0.75 0 1 0 -1.5 0M274.4 144.9a0.75 0.75 0 1 0 1.5 0a0.75 0.75 0 1 0 -1.5 0M275.1 103.9a0.75 0.75 0 1 0 1.5 0a0.75 0.75 0 1 0 -1.5 0M272.8 146.1a0.75 0.75 0 1 0 1.5 0a0.75 0.75 0 1 0 -1.5 0M265.9 148a0.75 0.75 0 1 0 1.5 0a0.75 0.75 0 1 0 -1.5 0M270.9 159.3a0.75 0.75 0 1 0 1.5 0a0.75 0.75 0 1 0 -1.5 0M269.2 157a0.75 0.75 0 1 0 1.5 0a0.75 0.75 0 1 0 -1.5 0M276.1 136.6a0.75 0.75 0 1 0 1.5 0a0.75 0.75 0 1 0 -1.5 0M272.1 130a0.75 0.75 0 1 0 1.5 0a0.75 0.75 0 1 0 -1.5 0M274.7 132.6a0.75 0.75 0 1 0 1.5 0a0.75 0.75 0 1 0 -1.5 0M276.2 144.5a0.75 0.75 0 1 0 1.5 0a0.75 0.75 0 1 0 -1.5 0M273.2 131a0.75 0.75 0 1 0 1.5 0a0.75 0.75 0 1 0 -1.5 0M265.1 154.2a0.75 0.75 0 1 0 1.5 0a0.75 0.75 0 1 0 -1.5 0M268.9 141.6a0.75 0.75 0 1 0 1.5 0a0.75 0.75 0 1 0 -1.5 0M275.3 145.8a0.75 0.75 0 1 0 1.5 0a0.75 0.75 0 1 0 -1.5 0M275.2 157.2a0.75 0.75 0 1 0 1.5 0a0.75 0.75 0 1 0 -1.5 0M268 136a0.75 0.75 0 1 0 1.5 0a0.75 0.75 0 1 0 -1.5 0M273.1 122.4a0.75 0.75 0 1 0 1.5 0a0.75 0.75 0 1 0 -1.5 0M272.8 149.8a0.75 0.75 0 1 0 1.5 0a0.75 0.75 0 1 0 -1.5 0M278.6 120.7a0.75 0.75 0 1 0 1.5 0a0.75 0.75 0 1 0 -1.5 0M270.5 146.8a0.75 0.75 0 1 0 1.5 0a0.75 0.75 0 1 0 -1.5 0M270.5 145.1a0.75 0.75 0 1 0 1.5 0a0.75 0.75 0 1 0 -1.5 0M277.5 111.6a0.75 0.75 0 1 0 1.5 0a0.75 0.75 0 1 0 -1.5 0M271.6 145.9a0.75 0.75 0 1 0 1.5 0a0.75 0.75 0 1 0 -1.5 0M274.4 157.9a0.75 0.75 0 1 0 1.5 0a0.75 0.75 0 1 0 -1.5 0M277.7 123.5a0.75 0.75 0 1 0 1.5 0a0.75 0.75 0 1 0 -1.5 0M271.4 137.4a0.75 0.75 0 1 0 1.5 0a0.75 0.75 0 1 0 -1.5 0M275.1 135.8a0.75 0.75 0 1 0 1.5 0a0.75 0.75 0 1 0 -1.5 0M273.6 120.5a0.75 0.75 0 1 0 1.5 0a0.75 0.75 0 1 0 -1.5 0M275.1 149.3a0.75 0.75 0 1 0 1.5 0a0.75 0.75 0 1 0 -1.5 0M270.1 149.6a0.75 0.75 0 1 0 1.5 0a0.75 0.75 0 1 0 -1.5 0M271.8 125.8a0.75 0.75 0 1 0 1.5 0a0.75 0.75 0 1 0 -1.5 0" fill="#fff"/>
<path d="M262.8 43a1.7 1.7 0 1 0 3.4 0a1.7 1.7 0 1 0 -3.4 0M264.8 43.8a1.7 1.7 0 1 0 3.4 0a1.7 1.7 0 1 0 -3.4 0M260.5 48.8a1.7 1.7 0 1 0 3.4 0a1.7 1.7 0 1 0 -3.4 0M266.8 49.4a1.7 1.7 0 1 0 3.4 0a1.7 1.7 0 1 0 -3.4 0M273.3 50.5a1.7 1.7 0 1 0 3.4 0a1.7 1.7 0 1 0 -3.4 0M264.8 54.5a1.7 1.7 0 1 0 3.4 0a1.7 1.7 0 1 0 -3.4 0M263.8 60.8a1.7 1.7 0 1 0 3.4 0a1.7 1.7 0 1 0 -3.4 0M264.8 63.5a1.7 1.7 0 1 0 3.4 0a1.7 1.7 0 1 0 -3.4 0M260.5 67.8a1.7 1.7 0 1 0 3.4 0a1.7 1.7 0 1 0 -3.4 0M263.8 70a1.7 1.7 0 1 0 3.4 0a1.7 1.7 0 1 0 -3.4 0M264.8 74.5a1.7 1.7 0 1 0 3.4 0a1.7 1.7 0 1 0 -3.4 0M265.3 77.5a1.7 1.7 0 1 0 3.4 0a1.7 1.7 0 1 0 -3.4 0M262.8 81.7a1.7 1.7 0 1 0 3.4 0a1.7 1.7 0 1 0 -3.4 0M261.8 84a1.7 1.7 0 1 0 3.4 0a1.7 1.7 0 1 0 -3.4 0M270.3 86.2a1.7 1.7 0 1 0 3.4 0a1.7 1.7 0 1 0 -3.4 0M273.3 86.5a1.7 1.7 0 1 0 3.4 0a1.7 1.7 0 1 0 -3.4 0M275.3 88a1.7 1.7 0 1 0 3.4 0a1.7 1.7 0 1 0 -3.4 0M268.3 88.5a1.7 1.7 0 1 0 3.4 0a1.7 1.7 0 1 0 -3.4 0M265.1 91a1.7 1.7 0 1 0 3.4 0a1.7 1.7 0 1 0 -3.4 0M275.6 94a1.7 1.7 0 1 0 3.4 0a1.7 1.7 0 1 0 -3.4 0M267.8 95.3a1.7 1.7 0 1 0 3.4 0a1.7 1.7 0 1 0 -3.4 0M253.2 97.5a1.7 1.7 0 1 0 3.4 0a1.7 1.7 0 1 0 -3.4 0M259.6 97.5a1.7 1.7 0 1 0 3.4 0a1.7 1.7 0 1 0 -3.4 0M263.8 99a1.7 1.7 0 1 0 3.4 0a1.7 1.7 0 1 0 -3.4 0M274.1 100a1.7 1.7 0 1 0 3.4 0a1.7 1.7 0 1 0 -3.4 0M265.3 76a1.7 1.7 0 1 0 3.4 0a1.7 1.7 0 1 0 -3.4 0M262.3 81a1.7 1.7 0 1 0 3.4 0a1.7 1.7 0 1 0 -3.4 0M261.3 84.5a1.7 1.7 0 1 0 3.4 0a1.7 1.7 0 1 0 -3.4 0M270.8 86a1.7 1.7 0 1 0 3.4 0a1.7 1.7 0 1 0 -3.4 0M272.8 87.5a1.7 1.7 0 1 0 3.4 0a1.7 1.7 0 1 0 -3.4 0M265.5 92a1.7 1.7 0 1 0 3.4 0a1.7 1.7 0 1 0 -3.4 0M274.3 93a1.7 1.7 0 1 0 3.4 0a1.7 1.7 0 1 0 -3.4 0M248.7 127.4a1.7 1.7 0 1 0 3.4 0a1.7 1.7 0 1 0 -3.4 0M256.7 127.4a1.7 1.7 0 1 0 3.4 0a1.7 1.7 0 1 0 -3.4 0M248.7 128a1.7 1.7 0 1 0 3.4 0a1.7 1.7 0 1 0 -3.4 0M246.3 135.4a1.7 1.7 0 1 0 3.4 0a1.7 1.7 0 1 0 -3.4 0M256.7 128a1.7 1.7 0 1 0 3.4 0a1.7 1.7 0 1 0 -3.4 0M249.3 150a1.7 1.7 0 1 0 3.4 0a1.7 1.7 0 1 0 -3.4 0M228.7 169.4a1.7 1.7 0 1 0 3.4 0a1.7 1.7 0 1 0 -3.4 0M235.1 172a1.7 1.7 0 1 0 3.4 0a1.7 1.7 0 1 0 -3.4 0M262.8 127.4a1.7 1.7 0 1 0 3.4 0a1.7 1.7 0 1 0 -3.4 0M269.7 106.3a1.7 1.7 0 1 0 3.4 0a1.7 1.7 0 1 0 -3.4 0M266.5 111a1.7 1.7 0 1 0 3.4 0a1.7 1.7 0 1 0 -3.4 0M261.9 114.5a1.7 1.7 0 1 0 3.4 0a1.7 1.7 0 1 0 -3.4 0M263.3 118a1.7 1.7 0 1 0 3.4 0a1.7 1.7 0 1 0 -3.4 0M238.3 168a1.7 1.7 0 1 0 3.4 0a1.7 1.7 0 1 0 -3.4 0M244.3 166a1.7 1.7 0 1 0 3.4 0a1.7 1.7 0 1 0 -3.4 0M250.3 160a1.7 1.7 0 1 0 3.4 0a1.7 1.7 0 1 0 -3.4 0" fill="#5b8ef0"/>
<line x1="234.8" y1="36.1" x2="241.8" y2="36.1" stroke="#5b8ef0" stroke-width="2"/>
<line x1="258.2" y1="36.1" x2="275.6" y2="36.1" stroke="#5b8ef0" stroke-width="2"/>
<path d="M280.3 136L282 138L286.3 170L290.6 134L292.4 131L292.4 176.3L280.3 176.3Z" fill="#1db43c"/>
<path d="M292.5 100L297 99L301 102L302 108L303.5 120L303.5 133.5L304.5 147L307.5 158.6L311 168.2L314 172.5L315 175.5L292.5 175.5Z" fill="#f2716b" stroke="#f2716b" stroke-width="1.2" stroke-linejoin="round"/>
<path d="M307.1 151a1.7 1.7 0 1 0 3.4 0a1.7 1.7 0 1 0 -3.4 0M297 109.9a1.7 1.7 0 1 0 3.4 0a1.7 1.7 0 1 0 -3.4 0M303 149.8a1.7 1.7 0 1 0 3.4 0a1.7 1.7 0 1 0 -3.4 0M295.6 102.9a1.7 1.7 0 1 0 3.4 0a1.7 1.7 0 1 0 -3.4 0M302.6 142.6a1.7 1.7 0 1 0 3.4 0a1.7 1.7 0 1 0 -3.4 0M301.1 121.8a1.7 1.7 0 1 0 3.4 0a1.7 1.7 0 1 0 -3.4 0M298.5 112.4a1.7 1.7 0 1 0 3.4 0a1.7 1.7 0 1 0 -3.4 0M299.6 112.9a1.7 1.7 0 1 0 3.4 0a1.7 1.7 0 1 0 -3.4 0M300.9 117.3a1.7 1.7 0 1 0 3.4 0a1.7 1.7 0 1 0 -3.4 0M302.4 148.5a1.7 1.7 0 1 0 3.4 0a1.7 1.7 0 1 0 -3.4 0M302.2 137.2a1.7 1.7 0 1 0 3.4 0a1.7 1.7 0 1 0 -3.4 0M303.7 136.2a1.7 1.7 0 1 0 3.4 0a1.7 1.7 0 1 0 -3.4 0M311.4 169.6a1.7 1.7 0 1 0 3.4 0a1.7 1.7 0 1 0 -3.4 0M299.6 107.5a1.7 1.7 0 1 0 3.4 0a1.7 1.7 0 1 0 -3.4 0M301.3 116.4a1.7 1.7 0 1 0 3.4 0a1.7 1.7 0 1 0 -3.4 0M299.4 119a1.7 1.7 0 1 0 3.4 0a1.7 1.7 0 1 0 -3.4 0M301.7 134.7a1.7 1.7 0 1 0 3.4 0a1.7 1.7 0 1 0 -3.4 0M297.7 106.7a1.7 1.7 0 1 0 3.4 0a1.7 1.7 0 1 0 -3.4 0M296.9 101.5a1.7 1.7 0 1 0 3.4 0a1.7 1.7 0 1 0 -3.4 0M298.8 114.7a1.7 1.7 0 1 0 3.4 0a1.7 1.7 0 1 0 -3.4 0M295.1 100a1.7 1.7 0 1 0 3.4 0a1.7 1.7 0 1 0 -3.4 0M302.1 126.1a1.7 1.7 0 1 0 3.4 0a1.7 1.7 0 1 0 -3.4 0M301 134.1a1.7 1.7 0 1 0 3.4 0a1.7 1.7 0 1 0 -3.4 0M312.2 171.2a1.7 1.7 0 1 0 3.4 0a1.7 1.7 0 1 0 -3.4 0M305.2 141.1a1.7 1.7 0 1 0 3.4 0a1.7 1.7 0 1 0 -3.4 0M308.6 164.9a1.7 1.7 0 1 0 3.4 0a1.7 1.7 0 1 0 -3.4 0M302.2 132.4a1.7 1.7 0 1 0 3.4 0a1.7 1.7 0 1 0 -3.4 0M307.1 151.1a1.7 1.7 0 1 0 3.4 0a1.7 1.7 0 1 0 -3.4 0M302.2 135.8a1.7 1.7 0 1 0 3.4 0a1.7 1.7 0 1 0 -3.4 0M300.1 114.1a1.7 1.7 0 1 0 3.4 0a1.7 1.7 0 1 0 -3.4 0M309.4 160.6a1.7 1.7 0 1 0 3.4 0a1.7 1.7 0 1 0 -3.4 0M308 158.1a1.7 1.7 0 1 0 3.4 0a1.7 1.7 0 1 0 -3.4 0M309.7 166.7a1.7 1.7 0 1 0 3.4 0a1.7 1.7 0 1 0 -3.4 0M299.3 115.8a1.7 1.7 0 1 0 3.4 0a1.7 1.7 0 1 0 -3.4 0M302.9 135.1a1.7 1.7 0 1 0 3.4 0a1.7 1.7 0 1 0 -3.4 0M301.5 143.9a1.7 1.7 0 1 0 3.4 0a1.7 1.7 0 1 0 -3.4 0M306.4 147a1.7 1.7 0 1 0 3.4 0a1.7 1.7 0 1 0 -3.4 0M307.7 148a1.7 1.7 0 1 0 3.4 0a1.7 1.7 0 1 0 -3.4 0M299 102a1.7 1.7 0 1 0 3.4 0a1.7 1.7 0 1 0 -3.4 0M305.6 147a1.7 1.7 0 1 0 3.4 0a1.7 1.7 0 1 0 -3.4 0M304.3 137.3a1.7 1.7 0 1 0 3.4 0a1.7 1.7 0 1 0 -3.4 0M295.9 104.2a1.7 1.7 0 1 0 3.4 0a1.7 1.7 0 1 0 -3.4 0M301.2 132.7a1.7 1.7 0 1 0 3.4 0a1.7 1.7 0 1 0 -3.4 0M303.4 141.9a1.7 1.7 0 1 0 3.4 0a1.7 1.7 0 1 0 -3.4 0M301.2 125.3a1.7 1.7 0 1 0 3.4 0a1.7 1.7 0 1 0 -3.4 0M307.8 148.1a1.7 1.7 0 1 0 3.4 0a1.7 1.7 0 1 0 -3.4 0M304.7 157.7a1.7 1.7 0 1 0 3.4 0a1.7 1.7 0 1 0 -3.4 0M300.6 117.6a1.7 1.7 0 1 0 3.4 0a1.7 1.7 0 1 0 -3.4 0M306.2 157.5a1.7 1.7 0 1 0 3.4 0a1.7 1.7 0 1 0 -3.4 0M305.6 139.8a1.7 1.7 0 1 0 3.4 0a1.7 1.7 0 1 0 -3.4 0" fill="#f2716b"/>
<path d="M304 143.3a1.7 1.7 0 1 0 3.4 0a1.7 1.7 0 1 0 -3.4 0M301.6 94.4a1.7 1.7 0 1 0 3.4 0a1.7 1.7 0 1 0 -3.4 0M306.1 156a1.7 1.7 0 1 0 3.4 0a1.7 1.7 0 1 0 -3.4 0M304.6 152.9a1.7 1.7 0 1 0 3.4 0a1.7 1.7 0 1 0 -3.4 0M298.9 100.4a1.7 1.7 0 1 0 3.4 0a1.7 1.7 0 1 0 -3.4 0M304.2 129a1.7 1.7 0 1 0 3.4 0a1.7 1.7 0 1 0 -3.4 0M296.1 96.3a1.7 1.7 0 1 0 3.4 0a1.7 1.7 0 1 0 -3.4 0M305.7 129.8a1.7 1.7 0 1 0 3.4 0a1.7 1.7 0 1 0 -3.4 0M311.9 171.6a1.7 1.7 0 1 0 3.4 0a1.7 1.7 0 1 0 -3.4 0M295.8 98.3a1.7 1.7 0 1 0 3.4 0a1.7 1.7 0 1 0 -3.4 0M310.4 169.6a1.7 1.7 0 1 0 3.4 0a1.7 1.7 0 1 0 -3.4 0M302.9 137.7a1.7 1.7 0 1 0 3.4 0a1.7 1.7 0 1 0 -3.4 0M304.2 146.7a1.7 1.7 0 1 0 3.4 0a1.7 1.7 0 1 0 -3.4 0M309.9 164a1.7 1.7 0 1 0 3.4 0a1.7 1.7 0 1 0 -3.4 0M303.8 118.4a1.7 1.7 0 1 0 3.4 0a1.7 1.7 0 1 0 -3.4 0M302.3 135.2a1.7 1.7 0 1 0 3.4 0a1.7 1.7 0 1 0 -3.4 0M303.8 119a1.7 1.7 0 1 0 3.4 0a1.7 1.7 0 1 0 -3.4 0M309.3 163.5a1.7 1.7 0 1 0 3.4 0a1.7 1.7 0 1 0 -3.4 0M301.6 118.6a1.7 1.7 0 1 0 3.4 0a1.7 1.7 0 1 0 -3.4 0M310.6 167.9a1.7 1.7 0 1 0 3.4 0a1.7 1.7 0 1 0 -3.4 0" fill="#f2716b"/>
<path d="M294.6 147.8a0.75 0.75 0 1 0 1.5 0a0.75 0.75 0 1 0 -1.5 0M299.5 122.5a0.75 0.75 0 1 0 1.5 0a0.75 0.75 0 1 0 -1.5 0M296.6 131.9a0.75 0.75 0 1 0 1.5 0a0.75 0.75 0 1 0 -1.5 0M297.1 104.7a0.75 0.75 0 1 0 1.5 0a0.75 0.75 0 1 0 -1.5 0M298.4 154.8a0.75 0.75 0 1 0 1.5 0a0.75 0.75 0 1 0 -1.5 0M296.5 127.7a0.75 0.75 0 1 0 1.5 0a0.75 0.75 0 1 0 -1.5 0M298.7 115.3a0.75 0.75 0 1 0 1.5 0a0.75 0.75 0 1 0 -1.5 0M293.9 148.3a0.75 0.75 0 1 0 1.5 0a0.75 0.75 0 1 0 -1.5 0M296.8 126.5a0.75 0.75 0 1 0 1.5 0a0.75 0.75 0 1 0 -1.5 0M300.5 135.3a0.75 0.75 0 1 0 1.5 0a0.75 0.75 0 1 0 -1.5 0M298.6 150.7a0.75 0.75 0 1 0 1.5 0a0.75 0.75 0 1 0 -1.5 0M297.6 123.1a0.75 0.75 0 1 0 1.5 0a0.75 0.75 0 1 0 -1.5 0M299.1 134a0.75 0.75 0 1 0 1.5 0a0.75 0.75 0 1 0 -1.5 0M294.7 136.4a0.75 0.75 0 1 0 1.5 0a0.75 0.75 0 1 0 -1.5 0M303.4 154.2a0.75 0.75 0 1 0 1.5 0a0.75 0.75 0 1 0 -1.5 0M299.3 147.9a0.75 0.75 0 1 0 1.5 0a0.75 0.75 0 1 0 -1.5 0M302.3 134.8a0.75 0.75 0 1 0 1.5 0a0.75 0.75 0 1 0 -1.5 0M299.5 144.8a0.75 0.75 0 1 0 1.5 0a0.75 0.75 0 1 0 -1.5 0M297.2 107.9a0.75 0.75 0 1 0 1.5 0a0.75 0.75 0 1 0 -1.5 0M304.3 158.3a0.75 0.75 0 1 0 1.5 0a0.75 0.75 0 1 0 -1.5 0M304.1 154.8a0.75 0.75 0 1 0 1.5 0a0.75 0.75 0 1 0 -1.5 0M300.4 106.9a0.75 0.75 0 1 0 1.5 0a0.75 0.75 0 1 0 -1.5 0M300.9 147.4a0.75 0.75 0 1 0 1.5 0a0.75 0.75 0 1 0 -1.5 0M294 132.2a0.75 0.75 0 1 0 1.5 0a0.75 0.75 0 1 0 -1.5 0M302.6 140.4a0.75 0.75 0 1 0 1.5 0a0.75 0.75 0 1 0 -1.5 0M295.9 114a0.75 0.75 0 1 0 1.5 0a0.75 0.75 0 1 0 -1.5 0M294.2 153.1a0.75 0.75 0 1 0 1.5 0a0.75 0.75 0 1 0 -1.5 0M304.7 154.9a0.75 0.75 0 1 0 1.5 0a0.75 0.75 0 1 0 -1.5 0M298.1 103.8a0.75 0.75 0 1 0 1.5 0a0.75 0.75 0 1 0 -1.5 0M299.6 124.5a0.75 0.75 0 1 0 1.5 0a0.75 0.75 0 1 0 -1.5 0M296.5 156.8a0.75 0.75 0 1 0 1.5 0a0.75 0.75 0 1 0 -1.5 0M299.7 129.6a0.75 0.75 0 1 0 1.5 0a0.75 0.75 0 1 0 -1.5 0M295.6 153.2a0.75 0.75 0 1 0 1.5 0a0.75 0.75 0 1 0 -1.5 0M296.4 127.2a0.75 0.75 0 1 0 1.5 0a0.75 0.75 0 1 0 -1.5 0" fill="#fff"/>
<path d="M297.7 44.5a1.7 1.7 0 1 0 3.4 0a1.7 1.7 0 1 0 -3.4 0M300.8 43a1.7 1.7 0 1 0 3.4 0a1.7 1.7 0 1 0 -3.4 0M302.6 42a1.7 1.7 0 1 0 3.4 0a1.7 1.7 0 1 0 -3.4 0M297.7 52.6a1.7 1.7 0 1 0 3.4 0a1.7 1.7 0 1 0 -3.4 0M305.5 52.6a1.7 1.7 0 1 0 3.4 0a1.7 1.7 0 1 0 -3.4 0M299.7 57.2a1.7 1.7 0 1 0 3.4 0a1.7 1.7 0 1 0 -3.4 0M297.3 60.3a1.7 1.7 0 1 0 3.4 0a1.7 1.7 0 1 0 -3.4 0M297.7 71.3a1.7 1.7 0 1 0 3.4 0a1.7 1.7 0 1 0 -3.4 0M296.1 83.5a1.7 1.7 0 1 0 3.4 0a1.7 1.7 0 1 0 -3.4 0M294.8 86.5a1.7 1.7 0 1 0 3.4 0a1.7 1.7 0 1 0 -3.4 0M304.6 88.9a1.7 1.7 0 1 0 3.4 0a1.7 1.7 0 1 0 -3.4 0M296.8 90.8a1.7 1.7 0 1 0 3.4 0a1.7 1.7 0 1 0 -3.4 0M295.1 94a1.7 1.7 0 1 0 3.4 0a1.7 1.7 0 1 0 -3.4 0M307.8 94a1.7 1.7 0 1 0 3.4 0a1.7 1.7 0 1 0 -3.4 0M315.9 94.3a1.7 1.7 0 1 0 3.4 0a1.7 1.7 0 1 0 -3.4 0M300.3 97.5a1.7 1.7 0 1 0 3.4 0a1.7 1.7 0 1 0 -3.4 0M301.8 100a1.7 1.7 0 1 0 3.4 0a1.7 1.7 0 1 0 -3.4 0M296.2 83.2a1.7 1.7 0 1 0 3.4 0a1.7 1.7 0 1 0 -3.4 0M294.5 86.4a1.7 1.7 0 1 0 3.4 0a1.7 1.7 0 1 0 -3.4 0M296.6 90.6a1.7 1.7 0 1 0 3.4 0a1.7 1.7 0 1 0 -3.4 0M294.7 93.8a1.7 1.7 0 1 0 3.4 0a1.7 1.7 0 1 0 -3.4 0M304.5 89a1.7 1.7 0 1 0 3.4 0a1.7 1.7 0 1 0 -3.4 0M300.4 96.8a1.7 1.7 0 1 0 3.4 0a1.7 1.7 0 1 0 -3.4 0M321.4 124a1.7 1.7 0 1 0 3.4 0a1.7 1.7 0 1 0 -3.4 0M326.7 137a1.7 1.7 0 1 0 3.4 0a1.7 1.7 0 1 0 -3.4 0M320.9 151.7a1.7 1.7 0 1 0 3.4 0a1.7 1.7 0 1 0 -3.4 0M315.9 154.4a1.7 1.7 0 1 0 3.4 0a1.7 1.7 0 1 0 -3.4 0M313.1 162.6a1.7 1.7 0 1 0 3.4 0a1.7 1.7 0 1 0 -3.4 0M333 169.3a1.7 1.7 0 1 0 3.4 0a1.7 1.7 0 1 0 -3.4 0M319.4 172a1.7 1.7 0 1 0 3.4 0a1.7 1.7 0 1 0 -3.4 0M323.2 173.7a1.7 1.7 0 1 0 3.4 0a1.7 1.7 0 1 0 -3.4 0M356.5 168.6a1.7 1.7 0 1 0 3.4 0a1.7 1.7 0 1 0 -3.4 0M328.3 173.3a1.7 1.7 0 1 0 3.4 0a1.7 1.7 0 1 0 -3.4 0M330.3 172.7a1.7 1.7 0 1 0 3.4 0a1.7 1.7 0 1 0 -3.4 0M305.1 147.5a1.7 1.7 0 1 0 3.4 0a1.7 1.7 0 1 0 -3.4 0" fill="#f2716b"/>
<path d="M262 172.8L305 172.8L305 176.6L262 176.6Z" fill="#1db43c"/>
<path d="M287.9 175.5a1.7 1.7 0 1 0 3.4 0a1.7 1.7 0 1 0 -3.4 0M280.2 174.9a1.7 1.7 0 1 0 3.4 0a1.7 1.7 0 1 0 -3.4 0M293.2 174.3a1.7 1.7 0 1 0 3.4 0a1.7 1.7 0 1 0 -3.4 0M271.9 174.2a1.7 1.7 0 1 0 3.4 0a1.7 1.7 0 1 0 -3.4 0M291.7 173.8a1.7 1.7 0 1 0 3.4 0a1.7 1.7 0 1 0 -3.4 0M259.2 174.3a1.7 1.7 0 1 0 3.4 0a1.7 1.7 0 1 0 -3.4 0M274.4 174.5a1.7 1.7 0 1 0 3.4 0a1.7 1.7 0 1 0 -3.4 0M261.1 174.3a1.7 1.7 0 1 0 3.4 0a1.7 1.7 0 1 0 -3.4 0M263.6 174.3a1.7 1.7 0 1 0 3.4 0a1.7 1.7 0 1 0 -3.4 0M265.5 174.4a1.7 1.7 0 1 0 3.4 0a1.7 1.7 0 1 0 -3.4 0M275.3 173.7a1.7 1.7 0 1 0 3.4 0a1.7 1.7 0 1 0 -3.4 0M258.8 175.4a1.7 1.7 0 1 0 3.4 0a1.7 1.7 0 1 0 -3.4 0M282 175.4a1.7 1.7 0 1 0 3.4 0a1.7 1.7 0 1 0 -3.4 0M289.1 175.5a1.7 1.7 0 1 0 3.4 0a1.7 1.7 0 1 0 -3.4 0M293.4 175a1.7 1.7 0 1 0 3.4 0a1.7 1.7 0 1 0 -3.4 0M286.9 173.6a1.7 1.7 0 1 0 3.4 0a1.7 1.7 0 1 0 -3.4 0M281.1 174.9a1.7 1.7 0 1 0 3.4 0a1.7 1.7 0 1 0 -3.4 0M260.9 174.1a1.7 1.7 0 1 0 3.4 0a1.7 1.7 0 1 0 -3.4 0M303.8 175.5a1.7 1.7 0 1 0 3.4 0a1.7 1.7 0 1 0 -3.4 0M293.7 174.5a1.7 1.7 0 1 0 3.4 0a1.7 1.7 0 1 0 -3.4 0M305.5 174a1.7 1.7 0 1 0 3.4 0a1.7 1.7 0 1 0 -3.4 0M276.1 175.2a1.7 1.7 0 1 0 3.4 0a1.7 1.7 0 1 0 -3.4 0M278.8 174.3a1.7 1.7 0 1 0 3.4 0a1.7 1.7 0 1 0 -3.4 0M287.3 175.2a1.7 1.7 0 1 0 3.4 0a1.7 1.7 0 1 0 -3.4 0M263.4 175.1a1.7 1.7 0 1 0 3.4 0a1.7 1.7 0 1 0 -3.4 0M279.7 173.7a1.7 1.7 0 1 0 3.4 0a1.7 1.7 0 1 0 -3.4 0M299.8 175.6a1.7 1.7 0 1 0 3.4 0a1.7 1.7 0 1 0 -3.4 0M268.7 174.1a1.7 1.7 0 1 0 3.4 0a1.7 1.7 0 1 0 -3.4 0M263.7 174.6a1.7 1.7 0 1 0 3.4 0a1.7 1.7 0 1 0 -3.4 0M284.6 174.1a1.7 1.7 0 1 0 3.4 0a1.7 1.7 0 1 0 -3.4 0M297.4 174.9a1.7 1.7 0 1 0 3.4 0a1.7 1.7 0 1 0 -3.4 0M281.7 174.9a1.7 1.7 0 1 0 3.4 0a1.7 1.7 0 1 0 -3.4 0M268.9 174.2a1.7 1.7 0 1 0 3.4 0a1.7 1.7 0 1 0 -3.4 0M298.5 175.1a1.7 1.7 0 1 0 3.4 0a1.7 1.7 0 1 0 -3.4 0" fill="#1db43c"/>
<line x1="295.3" y1="36.1" x2="306.2" y2="36.1" stroke="#f2716b" stroke-width="2"/>
<line x1="317.7" y1="36.1" x2="323.6" y2="36.1" stroke="#f2716b" stroke-width="2"/>
<line x1="280.4" y1="35.5" x2="280.4" y2="182.4" stroke="#222" stroke-width="1.1" stroke-dasharray="3.6 3.25" stroke-dashoffset="2.65"/>
<line x1="292.4" y1="35.5" x2="292.4" y2="182.4" stroke="#222" stroke-width="1.1" stroke-dasharray="3.6 3.25" stroke-dashoffset="2.65"/>
<line x1="224.1" y1="175.1" x2="364.5" y2="175.1" stroke="#222" stroke-width="1.1" stroke-dasharray="3.6 3.3"/>
<line x1="398.5" y1="32.7" x2="398.5" y2="186.7" stroke="#000" stroke-width="1.2"/>
<line x1="397.9" y1="186.1" x2="537" y2="186.1" stroke="#000" stroke-width="1.2"/>
<line x1="395.5" y1="186.1" x2="398.5" y2="186.1" stroke="#000" stroke-width="1"/>
<text x="392.4" y="189.6" font-size="10" text-anchor="end" fill="#1a1a1a">0</text>
<line x1="395.5" y1="145.3" x2="398.5" y2="145.3" stroke="#000" stroke-width="1"/>
<text x="392.4" y="148.8" font-size="10" text-anchor="end" textLength="19.2" lengthAdjust="spacingAndGlyphs" fill="#1a1a1a">1000</text>
<line x1="395.5" y1="104.5" x2="398.5" y2="104.5" stroke="#000" stroke-width="1"/>
<text x="392.4" y="108" font-size="10" text-anchor="end" textLength="19.2" lengthAdjust="spacingAndGlyphs" fill="#1a1a1a">2000</text>
<line x1="395.5" y1="63.7" x2="398.5" y2="63.7" stroke="#000" stroke-width="1"/>
<text x="392.4" y="67.2" font-size="10" text-anchor="end" textLength="19.2" lengthAdjust="spacingAndGlyphs" fill="#1a1a1a">3000</text>
<line x1="436.6" y1="186.1" x2="436.6" y2="189.1" stroke="#000" stroke-width="1"/>
<text x="438.4" y="199.9" font-size="10" text-anchor="middle" textLength="20.8" lengthAdjust="spacingAndGlyphs" fill="#1a1a1a">Shoot</text>
<line x1="499.9" y1="186.1" x2="499.9" y2="189.1" stroke="#000" stroke-width="1"/>
<text x="499.9" y="199.9" font-size="10" text-anchor="middle" textLength="16.5" lengthAdjust="spacingAndGlyphs" fill="#1a1a1a">Root</text>
<rect x="419.3" y="52.5" width="15.5" height="133" fill="#5b8ef5"/>
<text x="427.1" y="48.9" font-size="10" text-anchor="middle" textLength="18" lengthAdjust="spacingAndGlyphs" fill="#1a1a1a">3274</text>
<rect x="438.4" y="133.4" width="15.5" height="52.1" fill="#f8756d"/>
<text x="446.1" y="129.8" font-size="10" text-anchor="middle" textLength="18" lengthAdjust="spacingAndGlyphs" fill="#1a1a1a">1291</text>
<rect x="482.7" y="124.4" width="15.5" height="61.1" fill="#5b8ef5"/>
<text x="490.4" y="120.8" font-size="10" text-anchor="middle" textLength="18" lengthAdjust="spacingAndGlyphs" fill="#1a1a1a">1512</text>
<rect x="501.7" y="65.5" width="15.5" height="120" fill="#f8756d"/>
<text x="509.5" y="61.9" font-size="10" text-anchor="middle" textLength="18" lengthAdjust="spacingAndGlyphs" fill="#1a1a1a">2955</text>
<rect x="436.5" y="27.9" width="6.5" height="6.3" fill="#5b8ef5"/>
<rect x="481.9" y="27.9" width="6.7" height="6.3" fill="#f8756d"/>
<text x="447.8" y="34" font-size="9.5" textLength="22" lengthAdjust="spacingAndGlyphs" fill="#1a1a1a">Down</text>
<text x="494.6" y="34" font-size="9.5" textLength="11" lengthAdjust="spacingAndGlyphs" fill="#1a1a1a">Up</text>
<rect x="21.2" y="259.70" width="24.1" height="2.29" fill="#cadafb"/>
<rect x="21.2" y="261.69" width="24.1" height="2.29" fill="#d0defb"/>
<rect x="21.2" y="263.69" width="24.1" height="2.29" fill="#ceddfb"/>
<rect x="21.2" y="265.68" width="24.1" height="2.29" fill="#e1eafd"/>
<rect x="21.2" y="267.68" width="24.1" height="2.29" fill="#c2d4fa"/>
<rect x="21.2" y="269.67" width="24.1" height="2.29" fill="#dde7fc"/>
<rect x="21.2" y="271.67" width="24.1" height="2.29" fill="#f1f5fe"/>
<rect x="21.2" y="273.66" width="24.1" height="2.29" fill="#e8effd"/>
<rect x="21.2" y="275.66" width="24.1" height="2.29" fill="#fefeff"/>
<rect x="21.2" y="277.65" width="24.1" height="2.29" fill="#e3ebfd"/>
<rect x="21.2" y="279.65" width="24.1" height="2.29" fill="#eaf1fd"/>
<rect x="21.2" y="281.64" width="24.1" height="2.29" fill="#e2ebfd"/>
<rect x="21.2" y="283.64" width="24.1" height="2.29" fill="#ebf1fd"/>
<rect x="21.2" y="285.63" width="24.1" height="2.29" fill="#f1f5fe"/>
<rect x="21.2" y="287.62" width="24.1" height="2.29" fill="#dee8fc"/>
<rect x="21.2" y="289.62" width="24.1" height="2.29" fill="#a1bef8"/>
<rect x="21.2" y="291.61" width="24.1" height="2.29" fill="#9dbbf7"/>
<rect x="21.2" y="293.61" width="24.1" height="2.29" fill="#a1bdf8"/>
<rect x="21.2" y="295.60" width="24.1" height="2.29" fill="#bed1fa"/>
<rect x="21.2" y="297.60" width="24.1" height="2.29" fill="#b7cdf9"/>
<rect x="21.2" y="299.59" width="24.1" height="2.29" fill="#bbd0fa"/>
<rect x="21.2" y="301.59" width="24.1" height="2.29" fill="#b6ccf9"/>
<rect x="21.2" y="303.58" width="24.1" height="2.29" fill="#adc6f9"/>
<rect x="21.2" y="305.58" width="24.1" height="2.29" fill="#b1c9f9"/>
<rect x="21.2" y="307.57" width="24.1" height="2.29" fill="#bed2fa"/>
<rect x="21.2" y="309.56" width="24.1" height="2.29" fill="#c0d3fa"/>
<rect x="21.2" y="311.56" width="24.1" height="2.29" fill="#bdd1fa"/>
<rect x="21.2" y="313.55" width="24.1" height="2.29" fill="#c0d3fa"/>
<rect x="21.2" y="315.55" width="24.1" height="2.29" fill="#c7d8fb"/>
<rect x="21.2" y="317.54" width="24.1" height="2.29" fill="#b8cef9"/>
<rect x="21.2" y="319.54" width="24.1" height="2.29" fill="#c0d3fa"/>
<rect x="21.2" y="321.53" width="24.1" height="2.29" fill="#ccdbfb"/>
<rect x="21.2" y="323.53" width="24.1" height="2.29" fill="#ceddfb"/>
<rect x="21.2" y="325.52" width="24.1" height="2.29" fill="#c7d8fb"/>
<rect x="21.2" y="327.52" width="24.1" height="2.29" fill="#bed2fa"/>
<rect x="21.2" y="329.51" width="24.1" height="2.29" fill="#b4caf9"/>
<rect x="21.2" y="331.51" width="24.1" height="2.29" fill="#c6d7fb"/>
<rect x="21.2" y="333.50" width="24.1" height="2.29" fill="#c9dafb"/>
<rect x="21.2" y="335.49" width="24.1" height="2.29" fill="#c9dafb"/>
<rect x="21.2" y="337.49" width="24.1" height="2.29" fill="#c7d8fb"/>
<rect x="21.2" y="339.48" width="24.1" height="2.29" fill="#cadafb"/>
<rect x="21.2" y="341.48" width="24.1" height="2.29" fill="#ccdbfb"/>
<rect x="21.2" y="343.47" width="24.1" height="2.29" fill="#c5d6fa"/>
<rect x="21.2" y="345.47" width="24.1" height="2.29" fill="#bcd0fa"/>
<rect x="21.2" y="347.46" width="24.1" height="2.29" fill="#dee8fc"/>
<rect x="21.2" y="349.46" width="24.1" height="2.29" fill="#ceddfb"/>
<rect x="21.2" y="351.45" width="24.1" height="2.29" fill="#bed2fa"/>
<rect x="21.2" y="353.45" width="24.1" height="2.29" fill="#c1d4fa"/>
<rect x="21.2" y="355.44" width="24.1" height="2.29" fill="#cadafb"/>
<rect x="21.2" y="357.44" width="24.1" height="2.29" fill="#cadafb"/>
<rect x="21.2" y="359.43" width="24.1" height="2.29" fill="#bdd1fa"/>
<rect x="21.2" y="361.42" width="24.1" height="2.29" fill="#bfd2fa"/>
<rect x="21.2" y="363.42" width="24.1" height="2.29" fill="#aac3f8"/>
<rect x="21.2" y="365.41" width="24.1" height="2.29" fill="#f8a9a6"/>
<rect x="21.2" y="367.41" width="24.1" height="2.29" fill="#f8a5a1"/>
<rect x="21.2" y="369.40" width="24.1" height="2.29" fill="#f79c99"/>
<rect x="21.2" y="371.40" width="24.1" height="2.29" fill="#f9b8b6"/>
<rect x="21.2" y="373.39" width="24.1" height="2.29" fill="#f8afac"/>
<rect x="21.2" y="375.39" width="24.1" height="2.29" fill="#fac7c4"/>
<rect x="21.2" y="377.38" width="24.1" height="2.29" fill="#fac8c6"/>
<rect x="21.2" y="379.38" width="24.1" height="2.29" fill="#f8aaa7"/>
<rect x="21.2" y="381.37" width="24.1" height="2.29" fill="#f8adaa"/>
<rect x="21.2" y="383.36" width="24.1" height="2.29" fill="#fbcfce"/>
<rect x="21.2" y="385.36" width="24.1" height="2.29" fill="#fdeceb"/>
<rect x="21.2" y="387.35" width="24.1" height="2.29" fill="#fcd6d4"/>
<rect x="21.2" y="389.35" width="24.1" height="2.29" fill="#fcdbda"/>
<rect x="21.2" y="391.34" width="24.1" height="2.29" fill="#fef8f8"/>
<rect x="21.2" y="393.34" width="24.1" height="2.29" fill="#fef8f8"/>
<rect x="21.2" y="395.33" width="24.1" height="2.29" fill="#f2f6fe"/>
<rect x="21.2" y="397.33" width="24.1" height="2.29" fill="#fefeff"/>
<rect x="21.2" y="399.32" width="24.1" height="2.29" fill="#f8fafe"/>
<rect x="21.2" y="401.32" width="24.1" height="2.29" fill="#fffcfc"/>
<rect x="21.2" y="403.31" width="24.1" height="2.29" fill="#fde3e1"/>
<rect x="21.2" y="405.31" width="24.1" height="2.29" fill="#fce1e0"/>
<rect x="45" y="259.70" width="24.1" height="2.29" fill="#c1d4fa"/>
<rect x="45" y="261.69" width="24.1" height="2.29" fill="#b1c9f9"/>
<rect x="45" y="263.69" width="24.1" height="2.29" fill="#bbd0fa"/>
<rect x="45" y="265.68" width="24.1" height="2.29" fill="#cbdbfb"/>
<rect x="45" y="267.68" width="24.1" height="2.29" fill="#acc5f8"/>
<rect x="45" y="269.67" width="24.1" height="2.29" fill="#c6d7fb"/>
<rect x="45" y="271.67" width="24.1" height="2.29" fill="#b3caf9"/>
<rect x="45" y="273.66" width="24.1" height="2.29" fill="#bed2fa"/>
<rect x="45" y="275.66" width="24.1" height="2.29" fill="#bacffa"/>
<rect x="45" y="277.65" width="24.1" height="2.29" fill="#a7c1f8"/>
<rect x="45" y="279.65" width="24.1" height="2.29" fill="#aac4f8"/>
<rect x="45" y="281.64" width="24.1" height="2.29" fill="#acc5f8"/>
<rect x="45" y="283.64" width="24.1" height="2.29" fill="#b9cefa"/>
<rect x="45" y="285.63" width="24.1" height="2.29" fill="#b9cef9"/>
<rect x="45" y="287.62" width="24.1" height="2.29" fill="#b6ccf9"/>
<rect x="45" y="289.62" width="24.1" height="2.29" fill="#b3caf9"/>
<rect x="45" y="291.61" width="24.1" height="2.29" fill="#aec7f9"/>
<rect x="45" y="293.61" width="24.1" height="2.29" fill="#a6c1f8"/>
<rect x="45" y="295.60" width="24.1" height="2.29" fill="#bed2fa"/>
<rect x="45" y="297.60" width="24.1" height="2.29" fill="#c8d9fb"/>
<rect x="45" y="299.59" width="24.1" height="2.29" fill="#bacffa"/>
<rect x="45" y="301.59" width="24.1" height="2.29" fill="#b3caf9"/>
<rect x="45" y="303.58" width="24.1" height="2.29" fill="#b0c8f9"/>
<rect x="45" y="305.58" width="24.1" height="2.29" fill="#c1d4fa"/>
<rect x="45" y="307.57" width="24.1" height="2.29" fill="#c5d7fa"/>
<rect x="45" y="309.56" width="24.1" height="2.29" fill="#b9cefa"/>
<rect x="45" y="311.56" width="24.1" height="2.29" fill="#aec6f9"/>
<rect x="45" y="313.55" width="24.1" height="2.29" fill="#9ebcf7"/>
<rect x="45" y="315.55" width="24.1" height="2.29" fill="#afc7f9"/>
<rect x="45" y="317.54" width="24.1" height="2.29" fill="#b7cdf9"/>
<rect x="45" y="319.54" width="24.1" height="2.29" fill="#b6ccf9"/>
<rect x="45" y="321.53" width="24.1" height="2.29" fill="#b8cef9"/>
<rect x="45" y="323.53" width="24.1" height="2.29" fill="#b0c8f9"/>
<rect x="45" y="325.52" width="24.1" height="2.29" fill="#b3caf9"/>
<rect x="45" y="327.52" width="24.1" height="2.29" fill="#b8cef9"/>
<rect x="45" y="329.51" width="24.1" height="2.29" fill="#acc5f8"/>
<rect x="45" y="331.51" width="24.1" height="2.29" fill="#bacffa"/>
<rect x="45" y="333.50" width="24.1" height="2.29" fill="#b2c9f9"/>
<rect x="45" y="335.49" width="24.1" height="2.29" fill="#c1d4fa"/>
<rect x="45" y="337.49" width="24.1" height="2.29" fill="#b7cdf9"/>
<rect x="45" y="339.48" width="24.1" height="2.29" fill="#a9c3f8"/>
<rect x="45" y="341.48" width="24.1" height="2.29" fill="#bbcffa"/>
<rect x="45" y="343.47" width="24.1" height="2.29" fill="#b2c9f9"/>
<rect x="45" y="345.47" width="24.1" height="2.29" fill="#bbd0fa"/>
<rect x="45" y="347.46" width="24.1" height="2.29" fill="#a9c3f8"/>
<rect x="45" y="349.46" width="24.1" height="2.29" fill="#b7cdf9"/>
<rect x="45" y="351.45" width="24.1" height="2.29" fill="#b8cdf9"/>
<rect x="45" y="353.45" width="24.1" height="2.29" fill="#bacffa"/>
<rect x="45" y="355.44" width="24.1" height="2.29" fill="#b9cef9"/>
<rect x="45" y="357.44" width="24.1" height="2.29" fill="#aec6f9"/>
<rect x="45" y="359.43" width="24.1" height="2.29" fill="#bcd0fa"/>
<rect x="45" y="361.42" width="24.1" height="2.29" fill="#b8cdf9"/>
<rect x="45" y="363.42" width="24.1" height="2.29" fill="#b6ccf9"/>
<rect x="45" y="365.41" width="24.1" height="2.29" fill="#fde2e0"/>
<rect x="45" y="367.41" width="24.1" height="2.29" fill="#fcdbda"/>
<rect x="45" y="369.40" width="24.1" height="2.29" fill="#fde9e8"/>
<rect x="45" y="371.40" width="24.1" height="2.29" fill="#fef0f0"/>
<rect x="45" y="373.39" width="24.1" height="2.29" fill="#feeeed"/>
<rect x="45" y="375.39" width="24.1" height="2.29" fill="#f9b7b5"/>
<rect x="45" y="377.38" width="24.1" height="2.29" fill="#f9b7b4"/>
<rect x="45" y="379.38" width="24.1" height="2.29" fill="#f8a9a6"/>
<rect x="45" y="381.37" width="24.1" height="2.29" fill="#f9b3b0"/>
<rect x="45" y="383.36" width="24.1" height="2.29" fill="#f8a9a6"/>
<rect x="45" y="385.36" width="24.1" height="2.29" fill="#fabdbb"/>
<rect x="45" y="387.35" width="24.1" height="2.29" fill="#fef2f1"/>
<rect x="45" y="389.35" width="24.1" height="2.29" fill="#fdeae9"/>
<rect x="45" y="391.34" width="24.1" height="2.29" fill="#fbccca"/>
<rect x="45" y="393.34" width="24.1" height="2.29" fill="#fabdbb"/>
<rect x="45" y="395.33" width="24.1" height="2.29" fill="#f8aeab"/>
<rect x="45" y="397.33" width="24.1" height="2.29" fill="#fbd4d2"/>
<rect x="45" y="399.32" width="24.1" height="2.29" fill="#fac6c4"/>
<rect x="45" y="401.32" width="24.1" height="2.29" fill="#fac6c3"/>
<rect x="45" y="403.31" width="24.1" height="2.29" fill="#f9b7b4"/>
<rect x="45" y="405.31" width="24.1" height="2.29" fill="#fac1be"/>
<rect x="68.7" y="259.70" width="24.1" height="2.29" fill="#bfd2fa"/>
<rect x="68.7" y="261.69" width="24.1" height="2.29" fill="#bcd0fa"/>
<rect x="68.7" y="263.69" width="24.1" height="2.29" fill="#c9d9fb"/>
<rect x="68.7" y="265.68" width="24.1" height="2.29" fill="#cfdefb"/>
<rect x="68.7" y="267.68" width="24.1" height="2.29" fill="#b9cef9"/>
<rect x="68.7" y="269.67" width="24.1" height="2.29" fill="#c2d4fa"/>
<rect x="68.7" y="271.67" width="24.1" height="2.29" fill="#b8cdf9"/>
<rect x="68.7" y="273.66" width="24.1" height="2.29" fill="#c8d8fb"/>
<rect x="68.7" y="275.66" width="24.1" height="2.29" fill="#b1c9f9"/>
<rect x="68.7" y="277.65" width="24.1" height="2.29" fill="#b6ccf9"/>
<rect x="68.7" y="279.65" width="24.1" height="2.29" fill="#b8cdf9"/>
<rect x="68.7" y="281.64" width="24.1" height="2.29" fill="#b9cef9"/>
<rect x="68.7" y="283.64" width="24.1" height="2.29" fill="#c0d3fa"/>
<rect x="68.7" y="285.63" width="24.1" height="2.29" fill="#bed2fa"/>
<rect x="68.7" y="287.62" width="24.1" height="2.29" fill="#aec7f9"/>
<rect x="68.7" y="289.62" width="24.1" height="2.29" fill="#b3caf9"/>
<rect x="68.7" y="291.61" width="24.1" height="2.29" fill="#c2d5fa"/>
<rect x="68.7" y="293.61" width="24.1" height="2.29" fill="#c4d6fa"/>
<rect x="68.7" y="295.60" width="24.1" height="2.29" fill="#cbdbfb"/>
<rect x="68.7" y="297.60" width="24.1" height="2.29" fill="#c8d9fb"/>
<rect x="68.7" y="299.59" width="24.1" height="2.29" fill="#b1c9f9"/>
<rect x="68.7" y="301.59" width="24.1" height="2.29" fill="#b8cef9"/>
<rect x="68.7" y="303.58" width="24.1" height="2.29" fill="#c1d4fa"/>
<rect x="68.7" y="305.58" width="24.1" height="2.29" fill="#d2e0fb"/>
<rect x="68.7" y="307.57" width="24.1" height="2.29" fill="#f1f5fe"/>
<rect x="68.7" y="309.56" width="24.1" height="2.29" fill="#e6eefd"/>
<rect x="68.7" y="311.56" width="24.1" height="2.29" fill="#d9e4fc"/>
<rect x="68.7" y="313.55" width="24.1" height="2.29" fill="#cbdbfb"/>
<rect x="68.7" y="315.55" width="24.1" height="2.29" fill="#ceddfb"/>
<rect x="68.7" y="317.54" width="24.1" height="2.29" fill="#dbe6fc"/>
<rect x="68.7" y="319.54" width="24.1" height="2.29" fill="#d5e1fc"/>
<rect x="68.7" y="321.53" width="24.1" height="2.29" fill="#c2d4fa"/>
<rect x="68.7" y="323.53" width="24.1" height="2.29" fill="#c8d8fb"/>
<rect x="68.7" y="325.52" width="24.1" height="2.29" fill="#c3d5fa"/>
<rect x="68.7" y="327.52" width="24.1" height="2.29" fill="#dce7fc"/>
<rect x="68.7" y="329.51" width="24.1" height="2.29" fill="#e5edfd"/>
<rect x="68.7" y="331.51" width="24.1" height="2.29" fill="#e7eefd"/>
<rect x="68.7" y="333.50" width="24.1" height="2.29" fill="#d4e1fc"/>
<rect x="68.7" y="335.49" width="24.1" height="2.29" fill="#d7e3fc"/>
<rect x="68.7" y="337.49" width="24.1" height="2.29" fill="#e6edfd"/>
<rect x="68.7" y="339.48" width="24.1" height="2.29" fill="#dce6fc"/>
<rect x="68.7" y="341.48" width="24.1" height="2.29" fill="#c4d6fa"/>
<rect x="68.7" y="343.47" width="24.1" height="2.29" fill="#cadafb"/>
<rect x="68.7" y="345.47" width="24.1" height="2.29" fill="#bcd0fa"/>
<rect x="68.7" y="347.46" width="24.1" height="2.29" fill="#c2d4fa"/>
<rect x="68.7" y="349.46" width="24.1" height="2.29" fill="#ceddfb"/>
<rect x="68.7" y="351.45" width="24.1" height="2.29" fill="#d1dffb"/>
<rect x="68.7" y="353.45" width="24.1" height="2.29" fill="#ccdbfb"/>
<rect x="68.7" y="355.44" width="24.1" height="2.29" fill="#bbd0fa"/>
<rect x="68.7" y="357.44" width="24.1" height="2.29" fill="#bdd1fa"/>
<rect x="68.7" y="359.43" width="24.1" height="2.29" fill="#b7cdf9"/>
<rect x="68.7" y="361.42" width="24.1" height="2.29" fill="#c7d8fb"/>
<rect x="68.7" y="363.42" width="24.1" height="2.29" fill="#b3caf9"/>
<rect x="68.7" y="365.41" width="24.1" height="2.29" fill="#fffcfc"/>
<rect x="68.7" y="367.41" width="24.1" height="2.29" fill="#fef6f6"/>
<rect x="68.7" y="369.40" width="24.1" height="2.29" fill="#fcdcdb"/>
<rect x="68.7" y="371.40" width="24.1" height="2.29" fill="#fbccca"/>
<rect x="68.7" y="373.39" width="24.1" height="2.29" fill="#fac3c1"/>
<rect x="68.7" y="375.39" width="24.1" height="2.29" fill="#f8b0ad"/>
<rect x="68.7" y="377.38" width="24.1" height="2.29" fill="#fbccca"/>
<rect x="68.7" y="379.38" width="24.1" height="2.29" fill="#fabebc"/>
<rect x="68.7" y="381.37" width="24.1" height="2.29" fill="#fef2f2"/>
<rect x="68.7" y="383.36" width="24.1" height="2.29" fill="#fef8f7"/>
<rect x="68.7" y="385.36" width="24.1" height="2.29" fill="#f7a09c"/>
<rect x="68.7" y="387.35" width="24.1" height="2.29" fill="#f7a29f"/>
<rect x="68.7" y="389.35" width="24.1" height="2.29" fill="#f79f9c"/>
<rect x="68.7" y="391.34" width="24.1" height="2.29" fill="#fcd8d6"/>
<rect x="68.7" y="393.34" width="24.1" height="2.29" fill="#fac1bf"/>
<rect x="68.7" y="395.33" width="24.1" height="2.29" fill="#fbd1cf"/>
<rect x="68.7" y="397.33" width="24.1" height="2.29" fill="#fcd8d7"/>
<rect x="68.7" y="399.32" width="24.1" height="2.29" fill="#fbcac8"/>
<rect x="68.7" y="401.32" width="24.1" height="2.29" fill="#fac5c2"/>
<rect x="68.7" y="403.31" width="24.1" height="2.29" fill="#fbd1d0"/>
<rect x="68.7" y="405.31" width="24.1" height="2.29" fill="#fbcfce"/>
<rect x="92.5" y="259.70" width="24.1" height="2.29" fill="#f47b76"/>
<rect x="92.5" y="261.69" width="24.1" height="2.29" fill="#f5847f"/>
<rect x="92.5" y="263.69" width="24.1" height="2.29" fill="#f69793"/>
<rect x="92.5" y="265.68" width="24.1" height="2.29" fill="#f5837e"/>
<rect x="92.5" y="267.68" width="24.1" height="2.29" fill="#f79c99"/>
<rect x="92.5" y="269.67" width="24.1" height="2.29" fill="#f79d9a"/>
<rect x="92.5" y="271.67" width="24.1" height="2.29" fill="#f8aba8"/>
<rect x="92.5" y="273.66" width="24.1" height="2.29" fill="#f8a8a5"/>
<rect x="92.5" y="275.66" width="24.1" height="2.29" fill="#f9b5b2"/>
<rect x="92.5" y="277.65" width="24.1" height="2.29" fill="#f79c98"/>
<rect x="92.5" y="279.65" width="24.1" height="2.29" fill="#f8a9a5"/>
<rect x="92.5" y="281.64" width="24.1" height="2.29" fill="#f79d99"/>
<rect x="92.5" y="283.64" width="24.1" height="2.29" fill="#f7a29e"/>
<rect x="92.5" y="285.63" width="24.1" height="2.29" fill="#f79e9a"/>
<rect x="92.5" y="287.62" width="24.1" height="2.29" fill="#f8aba8"/>
<rect x="92.5" y="289.62" width="24.1" height="2.29" fill="#fef2f2"/>
<rect x="92.5" y="291.61" width="24.1" height="2.29" fill="#fff9f9"/>
<rect x="92.5" y="293.61" width="24.1" height="2.29" fill="#fcdfde"/>
<rect x="92.5" y="295.60" width="24.1" height="2.29" fill="#fac6c4"/>
<rect x="92.5" y="297.60" width="24.1" height="2.29" fill="#fde7e6"/>
<rect x="92.5" y="299.59" width="24.1" height="2.29" fill="#fcdedd"/>
<rect x="92.5" y="301.59" width="24.1" height="2.29" fill="#fbd3d1"/>
<rect x="92.5" y="303.58" width="24.1" height="2.29" fill="#fde3e2"/>
<rect x="92.5" y="305.58" width="24.1" height="2.29" fill="#fef2f2"/>
<rect x="92.5" y="307.57" width="24.1" height="2.29" fill="#fef0f0"/>
<rect x="92.5" y="309.56" width="24.1" height="2.29" fill="#fac5c3"/>
<rect x="92.5" y="311.56" width="24.1" height="2.29" fill="#fac2bf"/>
<rect x="92.5" y="313.55" width="24.1" height="2.29" fill="#fcd5d4"/>
<rect x="92.5" y="315.55" width="24.1" height="2.29" fill="#f9b6b3"/>
<rect x="92.5" y="317.54" width="24.1" height="2.29" fill="#fbd3d1"/>
<rect x="92.5" y="319.54" width="24.1" height="2.29" fill="#fcdad9"/>
<rect x="92.5" y="321.53" width="24.1" height="2.29" fill="#fcd8d7"/>
<rect x="92.5" y="323.53" width="24.1" height="2.29" fill="#fac3c1"/>
<rect x="92.5" y="325.52" width="24.1" height="2.29" fill="#fcd7d5"/>
<rect x="92.5" y="327.52" width="24.1" height="2.29" fill="#f7a09d"/>
<rect x="92.5" y="329.51" width="24.1" height="2.29" fill="#f8b0ad"/>
<rect x="92.5" y="331.51" width="24.1" height="2.29" fill="#f7a09c"/>
<rect x="92.5" y="333.50" width="24.1" height="2.29" fill="#f79e9a"/>
<rect x="92.5" y="335.49" width="24.1" height="2.29" fill="#f7a09d"/>
<rect x="92.5" y="337.49" width="24.1" height="2.29" fill="#f69490"/>
<rect x="92.5" y="339.48" width="24.1" height="2.29" fill="#f8aca9"/>
<rect x="92.5" y="341.48" width="24.1" height="2.29" fill="#fabdbb"/>
<rect x="92.5" y="343.47" width="24.1" height="2.29" fill="#f8b0ad"/>
<rect x="92.5" y="345.47" width="24.1" height="2.29" fill="#f9b8b5"/>
<rect x="92.5" y="347.46" width="24.1" height="2.29" fill="#fbcecc"/>
<rect x="92.5" y="349.46" width="24.1" height="2.29" fill="#f8aaa7"/>
<rect x="92.5" y="351.45" width="24.1" height="2.29" fill="#f8a9a5"/>
<rect x="92.5" y="353.45" width="24.1" height="2.29" fill="#f8a9a6"/>
<rect x="92.5" y="355.44" width="24.1" height="2.29" fill="#f9bbb9"/>
<rect x="92.5" y="357.44" width="24.1" height="2.29" fill="#f9b6b3"/>
<rect x="92.5" y="359.43" width="24.1" height="2.29" fill="#fac7c4"/>
<rect x="92.5" y="361.42" width="24.1" height="2.29" fill="#fac3c1"/>
<rect x="92.5" y="363.42" width="24.1" height="2.29" fill="#fbd4d2"/>
<rect x="92.5" y="365.41" width="24.1" height="2.29" fill="#e8effd"/>
<rect x="92.5" y="367.41" width="24.1" height="2.29" fill="#e2ebfd"/>
<rect x="92.5" y="369.40" width="24.1" height="2.29" fill="#e5edfd"/>
<rect x="92.5" y="371.40" width="24.1" height="2.29" fill="#d0defb"/>
<rect x="92.5" y="373.39" width="24.1" height="2.29" fill="#c0d3fa"/>
<rect x="92.5" y="375.39" width="24.1" height="2.29" fill="#b9cef9"/>
<rect x="92.5" y="377.38" width="24.1" height="2.29" fill="#cfdefb"/>
<rect x="92.5" y="379.38" width="24.1" height="2.29" fill="#e0eafd"/>
<rect x="92.5" y="381.37" width="24.1" height="2.29" fill="#cbdbfb"/>
<rect x="92.5" y="383.36" width="24.1" height="2.29" fill="#cadafb"/>
<rect x="92.5" y="385.36" width="24.1" height="2.29" fill="#b2caf9"/>
<rect x="92.5" y="387.35" width="24.1" height="2.29" fill="#b1c8f9"/>
<rect x="92.5" y="389.35" width="24.1" height="2.29" fill="#c9d9fb"/>
<rect x="92.5" y="391.34" width="24.1" height="2.29" fill="#c1d4fa"/>
<rect x="92.5" y="393.34" width="24.1" height="2.29" fill="#b7cdf9"/>
<rect x="92.5" y="395.33" width="24.1" height="2.29" fill="#c1d4fa"/>
<rect x="92.5" y="397.33" width="24.1" height="2.29" fill="#bbd0fa"/>
<rect x="92.5" y="399.32" width="24.1" height="2.29" fill="#b6ccf9"/>
<rect x="92.5" y="401.32" width="24.1" height="2.29" fill="#b4cbf9"/>
<rect x="92.5" y="403.31" width="24.1" height="2.29" fill="#aec6f9"/>
<rect x="92.5" y="405.31" width="24.1" height="2.29" fill="#b1c9f9"/>
<rect x="116.2" y="259.70" width="24.1" height="2.29" fill="#fde1e0"/>
<rect x="116.2" y="261.69" width="24.1" height="2.29" fill="#feeded"/>
<rect x="116.2" y="263.69" width="24.1" height="2.29" fill="#fac7c5"/>
<rect x="116.2" y="265.68" width="24.1" height="2.29" fill="#fde8e7"/>
<rect x="116.2" y="267.68" width="24.1" height="2.29" fill="#fde3e2"/>
<rect x="116.2" y="269.67" width="24.1" height="2.29" fill="#fffcfc"/>
<rect x="116.2" y="271.67" width="24.1" height="2.29" fill="#f8fafe"/>
<rect x="116.2" y="273.66" width="24.1" height="2.29" fill="#fffefe"/>
<rect x="116.2" y="275.66" width="24.1" height="2.29" fill="#fcdad9"/>
<rect x="116.2" y="277.65" width="24.1" height="2.29" fill="#fde8e7"/>
<rect x="116.2" y="279.65" width="24.1" height="2.29" fill="#fce0df"/>
<rect x="116.2" y="281.64" width="24.1" height="2.29" fill="#f2f6fe"/>
<rect x="116.2" y="283.64" width="24.1" height="2.29" fill="#e4ecfd"/>
<rect x="116.2" y="285.63" width="24.1" height="2.29" fill="#e3ebfd"/>
<rect x="116.2" y="287.62" width="24.1" height="2.29" fill="#fbcbc9"/>
<rect x="116.2" y="289.62" width="24.1" height="2.29" fill="#fce0df"/>
<rect x="116.2" y="291.61" width="24.1" height="2.29" fill="#f9b5b2"/>
<rect x="116.2" y="293.61" width="24.1" height="2.29" fill="#f8afac"/>
<rect x="116.2" y="295.60" width="24.1" height="2.29" fill="#f8b0ad"/>
<rect x="116.2" y="297.60" width="24.1" height="2.29" fill="#f79e9a"/>
<rect x="116.2" y="299.59" width="24.1" height="2.29" fill="#f7a4a1"/>
<rect x="116.2" y="301.59" width="24.1" height="2.29" fill="#f7a29e"/>
<rect x="116.2" y="303.58" width="24.1" height="2.29" fill="#f7a29e"/>
<rect x="116.2" y="305.58" width="24.1" height="2.29" fill="#f8a6a2"/>
<rect x="116.2" y="307.57" width="24.1" height="2.29" fill="#fabdba"/>
<rect x="116.2" y="309.56" width="24.1" height="2.29" fill="#f8a6a2"/>
<rect x="116.2" y="311.56" width="24.1" height="2.29" fill="#f9b6b4"/>
<rect x="116.2" y="313.55" width="24.1" height="2.29" fill="#f8a9a6"/>
<rect x="116.2" y="315.55" width="24.1" height="2.29" fill="#f6938f"/>
<rect x="116.2" y="317.54" width="24.1" height="2.29" fill="#f79995"/>
<rect x="116.2" y="319.54" width="24.1" height="2.29" fill="#f8a8a4"/>
<rect x="116.2" y="321.53" width="24.1" height="2.29" fill="#f8aba7"/>
<rect x="116.2" y="323.53" width="24.1" height="2.29" fill="#f8a6a2"/>
<rect x="116.2" y="325.52" width="24.1" height="2.29" fill="#f69793"/>
<rect x="116.2" y="327.52" width="24.1" height="2.29" fill="#fbd5d3"/>
<rect x="116.2" y="329.51" width="24.1" height="2.29" fill="#fde9e8"/>
<rect x="116.2" y="331.51" width="24.1" height="2.29" fill="#fcdbda"/>
<rect x="116.2" y="333.50" width="24.1" height="2.29" fill="#fcdfde"/>
<rect x="116.2" y="335.49" width="24.1" height="2.29" fill="#fde5e4"/>
<rect x="116.2" y="337.49" width="24.1" height="2.29" fill="#fef2f1"/>
<rect x="116.2" y="339.48" width="24.1" height="2.29" fill="#fcdad9"/>
<rect x="116.2" y="341.48" width="24.1" height="2.29" fill="#f9b7b4"/>
<rect x="116.2" y="343.47" width="24.1" height="2.29" fill="#fabdbb"/>
<rect x="116.2" y="345.47" width="24.1" height="2.29" fill="#f9b9b6"/>
<rect x="116.2" y="347.46" width="24.1" height="2.29" fill="#f9b6b3"/>
<rect x="116.2" y="349.46" width="24.1" height="2.29" fill="#f8b0ad"/>
<rect x="116.2" y="351.45" width="24.1" height="2.29" fill="#fabdba"/>
<rect x="116.2" y="353.45" width="24.1" height="2.29" fill="#fac6c4"/>
<rect x="116.2" y="355.44" width="24.1" height="2.29" fill="#f9bab8"/>
<rect x="116.2" y="357.44" width="24.1" height="2.29" fill="#fbcac8"/>
<rect x="116.2" y="359.43" width="24.1" height="2.29" fill="#fac4c2"/>
<rect x="116.2" y="361.42" width="24.1" height="2.29" fill="#f8aca9"/>
<rect x="116.2" y="363.42" width="24.1" height="2.29" fill="#f9bcb9"/>
<rect x="116.2" y="365.41" width="24.1" height="2.29" fill="#ceddfb"/>
<rect x="116.2" y="367.41" width="24.1" height="2.29" fill="#bacffa"/>
<rect x="116.2" y="369.40" width="24.1" height="2.29" fill="#c6d7fb"/>
<rect x="116.2" y="371.40" width="24.1" height="2.29" fill="#c2d5fa"/>
<rect x="116.2" y="373.39" width="24.1" height="2.29" fill="#b1c9f9"/>
<rect x="116.2" y="375.39" width="24.1" height="2.29" fill="#bcd0fa"/>
<rect x="116.2" y="377.38" width="24.1" height="2.29" fill="#acc5f8"/>
<rect x="116.2" y="379.38" width="24.1" height="2.29" fill="#cadafb"/>
<rect x="116.2" y="381.37" width="24.1" height="2.29" fill="#d2e0fb"/>
<rect x="116.2" y="383.36" width="24.1" height="2.29" fill="#bdd1fa"/>
<rect x="116.2" y="385.36" width="24.1" height="2.29" fill="#cddcfb"/>
<rect x="116.2" y="387.35" width="24.1" height="2.29" fill="#b1c9f9"/>
<rect x="116.2" y="389.35" width="24.1" height="2.29" fill="#b5cbf9"/>
<rect x="116.2" y="391.34" width="24.1" height="2.29" fill="#c0d3fa"/>
<rect x="116.2" y="393.34" width="24.1" height="2.29" fill="#b6ccf9"/>
<rect x="116.2" y="395.33" width="24.1" height="2.29" fill="#acc5f8"/>
<rect x="116.2" y="397.33" width="24.1" height="2.29" fill="#eef3fe"/>
<rect x="116.2" y="399.32" width="24.1" height="2.29" fill="#edf3fe"/>
<rect x="116.2" y="401.32" width="24.1" height="2.29" fill="#c9d9fb"/>
<rect x="116.2" y="403.31" width="24.1" height="2.29" fill="#c9dafb"/>
<rect x="116.2" y="405.31" width="24.1" height="2.29" fill="#d7e3fc"/>
<rect x="139.9" y="259.70" width="24.1" height="2.29" fill="#fef5f4"/>
<rect x="139.9" y="261.69" width="24.1" height="2.29" fill="#fef2f2"/>
<rect x="139.9" y="263.69" width="24.1" height="2.29" fill="#fabdbb"/>
<rect x="139.9" y="265.68" width="24.1" height="2.29" fill="#fbd1cf"/>
<rect x="139.9" y="267.68" width="24.1" height="2.29" fill="#f9bcb9"/>
<rect x="139.9" y="269.67" width="24.1" height="2.29" fill="#f9b4b1"/>
<rect x="139.9" y="271.67" width="24.1" height="2.29" fill="#f8aeab"/>
<rect x="139.9" y="273.66" width="24.1" height="2.29" fill="#f9b4b1"/>
<rect x="139.9" y="275.66" width="24.1" height="2.29" fill="#f8a9a5"/>
<rect x="139.9" y="277.65" width="24.1" height="2.29" fill="#fac1be"/>
<rect x="139.9" y="279.65" width="24.1" height="2.29" fill="#f9b2af"/>
<rect x="139.9" y="281.64" width="24.1" height="2.29" fill="#fcd6d4"/>
<rect x="139.9" y="283.64" width="24.1" height="2.29" fill="#fac4c2"/>
<rect x="139.9" y="285.63" width="24.1" height="2.29" fill="#fabdbb"/>
<rect x="139.9" y="287.62" width="24.1" height="2.29" fill="#f9b5b2"/>
<rect x="139.9" y="289.62" width="24.1" height="2.29" fill="#fbcbc9"/>
<rect x="139.9" y="291.61" width="24.1" height="2.29" fill="#fabebb"/>
<rect x="139.9" y="293.61" width="24.1" height="2.29" fill="#f9b1ae"/>
<rect x="139.9" y="295.60" width="24.1" height="2.29" fill="#f9bbb8"/>
<rect x="139.9" y="297.60" width="24.1" height="2.29" fill="#fac8c6"/>
<rect x="139.9" y="299.59" width="24.1" height="2.29" fill="#f9b2af"/>
<rect x="139.9" y="301.59" width="24.1" height="2.29" fill="#fac0bd"/>
<rect x="139.9" y="303.58" width="24.1" height="2.29" fill="#fcdcda"/>
<rect x="139.9" y="305.58" width="24.1" height="2.29" fill="#fbd5d3"/>
<rect x="139.9" y="307.57" width="24.1" height="2.29" fill="#f9b3b0"/>
<rect x="139.9" y="309.56" width="24.1" height="2.29" fill="#fac2bf"/>
<rect x="139.9" y="311.56" width="24.1" height="2.29" fill="#fbcbc9"/>
<rect x="139.9" y="313.55" width="24.1" height="2.29" fill="#f9b4b1"/>
<rect x="139.9" y="315.55" width="24.1" height="2.29" fill="#fffcfc"/>
<rect x="139.9" y="317.54" width="24.1" height="2.29" fill="#fde9e8"/>
<rect x="139.9" y="319.54" width="24.1" height="2.29" fill="#feeded"/>
<rect x="139.9" y="321.53" width="24.1" height="2.29" fill="#fcfdff"/>
<rect x="139.9" y="323.53" width="24.1" height="2.29" fill="#feedec"/>
<rect x="139.9" y="325.52" width="24.1" height="2.29" fill="#fcd6d5"/>
<rect x="139.9" y="327.52" width="24.1" height="2.29" fill="#fcd9d8"/>
<rect x="139.9" y="329.51" width="24.1" height="2.29" fill="#fffbfb"/>
<rect x="139.9" y="331.51" width="24.1" height="2.29" fill="#fcd9d8"/>
<rect x="139.9" y="333.50" width="24.1" height="2.29" fill="#fbcac8"/>
<rect x="139.9" y="335.49" width="24.1" height="2.29" fill="#fac4c2"/>
<rect x="139.9" y="337.49" width="24.1" height="2.29" fill="#fbcecc"/>
<rect x="139.9" y="339.48" width="24.1" height="2.29" fill="#fac1bf"/>
<rect x="139.9" y="341.48" width="24.1" height="2.29" fill="#fbd0cf"/>
<rect x="139.9" y="343.47" width="24.1" height="2.29" fill="#fcdbd9"/>
<rect x="139.9" y="345.47" width="24.1" height="2.29" fill="#fbd1cf"/>
<rect x="139.9" y="347.46" width="24.1" height="2.29" fill="#fbd2d0"/>
<rect x="139.9" y="349.46" width="24.1" height="2.29" fill="#fcd7d5"/>
<rect x="139.9" y="351.45" width="24.1" height="2.29" fill="#fbd1cf"/>
<rect x="139.9" y="353.45" width="24.1" height="2.29" fill="#fbd4d3"/>
<rect x="139.9" y="355.44" width="24.1" height="2.29" fill="#fce0df"/>
<rect x="139.9" y="357.44" width="24.1" height="2.29" fill="#fac5c3"/>
<rect x="139.9" y="359.43" width="24.1" height="2.29" fill="#fbd1cf"/>
<rect x="139.9" y="361.42" width="24.1" height="2.29" fill="#fbcdcb"/>
<rect x="139.9" y="363.42" width="24.1" height="2.29" fill="#fcdfde"/>
<rect x="139.9" y="365.41" width="24.1" height="2.29" fill="#c0d3fa"/>
<rect x="139.9" y="367.41" width="24.1" height="2.29" fill="#c8d9fb"/>
<rect x="139.9" y="369.40" width="24.1" height="2.29" fill="#b4cbf9"/>
<rect x="139.9" y="371.40" width="24.1" height="2.29" fill="#b6ccf9"/>
<rect x="139.9" y="373.39" width="24.1" height="2.29" fill="#c9dafb"/>
<rect x="139.9" y="375.39" width="24.1" height="2.29" fill="#c1d4fa"/>
<rect x="139.9" y="377.38" width="24.1" height="2.29" fill="#bbcffa"/>
<rect x="139.9" y="379.38" width="24.1" height="2.29" fill="#dae6fc"/>
<rect x="139.9" y="381.37" width="24.1" height="2.29" fill="#cfddfb"/>
<rect x="139.9" y="383.36" width="24.1" height="2.29" fill="#c5d6fa"/>
<rect x="139.9" y="385.36" width="24.1" height="2.29" fill="#c6d7fb"/>
<rect x="139.9" y="387.35" width="24.1" height="2.29" fill="#c6d7fa"/>
<rect x="139.9" y="389.35" width="24.1" height="2.29" fill="#bfd2fa"/>
<rect x="139.9" y="391.34" width="24.1" height="2.29" fill="#c2d5fa"/>
<rect x="139.9" y="393.34" width="24.1" height="2.29" fill="#bacffa"/>
<rect x="139.9" y="395.33" width="24.1" height="2.29" fill="#c9d9fb"/>
<rect x="139.9" y="397.33" width="24.1" height="2.29" fill="#c2d5fa"/>
<rect x="139.9" y="399.32" width="24.1" height="2.29" fill="#c6d7fb"/>
<rect x="139.9" y="401.32" width="24.1" height="2.29" fill="#ccdbfb"/>
<rect x="139.9" y="403.31" width="24.1" height="2.29" fill="#b9cef9"/>
<rect x="139.9" y="405.31" width="24.1" height="2.29" fill="#cddcfb"/>
<path d="M21.2 260.3H19.7V260.7H21.2M21.2 259.9H19.1V260.5H19.7M21.2 261.8H19.7V262.2H21.2M21.2 261.4H19.4V262.0H19.7M21.2 261.1H18.6V261.7H19.4M19.1 260.2H18.6V261.4H18.6M21.2 263.0H19.5V263.4H21.2M21.2 262.6H19.4V263.2H19.5M18.6 260.8H18.3V262.9H19.4M21.2 264.2H19.3V264.6H21.2M19.3 264.4H19.2V264.9H21.2M21.2 263.8H19.1V264.7H19.2M18.3 261.8H17.0V264.2H19.1M21.2 265.3H19.7V265.7H21.2M21.2 266.1H19.8V266.5H21.2M19.7 265.5H19.1V266.3H19.8M21.2 267.7H19.6V268.1H21.2M21.2 267.3H19.0V267.9H19.6M21.2 266.9H18.8V267.6H19.0M19.1 265.9H17.4V267.2H18.8M21.2 268.4H19.6V268.8H21.2M19.6 268.6H19.5V269.2H21.2M21.2 269.6H19.2V270.0H21.2M19.5 268.9H19.1V269.8H19.2M21.2 270.8H19.6V271.2H21.2M21.2 270.4H19.5V271.0H19.6M21.2 272.3H19.3V272.7H21.2M21.2 271.9H19.3V272.5H19.3M19.3 272.2H18.4V273.1H21.2M21.2 271.5H18.3V272.7H18.4M19.5 270.7H18.0V272.1H18.3M19.1 269.4H17.4V271.4H18.0M21.2 274.3H19.6V274.7H21.2M21.2 273.9H18.7V274.5H19.6M21.2 275.0H19.1V275.4H21.2M18.7 274.2H18.2V275.2H19.1M21.2 273.5H18.1V274.7H18.2M17.4 270.4H16.7V274.1H18.1M17.4 266.6H15.0V272.2H16.7M21.2 277.0H19.8V277.4H21.2M21.2 276.6H19.3V277.2H19.8M21.2 276.2H19.2V276.9H19.3M21.2 275.8H19.0V276.5H19.2M21.2 278.1H19.4V278.5H21.2M21.2 277.8H19.4V278.3H19.4M21.2 278.9H19.5V279.3H21.2M19.4 278.1H18.6V279.1H19.5M19.0 276.2H18.0V278.6H18.6M21.2 280.1H19.7V280.5H21.2M21.2 279.7H19.1V280.3H19.7M21.2 281.6H19.5V282.0H21.2M21.2 281.3H19.0V281.8H19.5M21.2 280.9H18.9V281.5H19.0M21.2 282.4H19.3V282.8H21.2M19.3 282.6H19.2V283.2H21.2M19.2 282.9H18.5V283.6H21.2M18.9 281.2H17.7V283.2H18.5M21.2 284.0H19.7V284.4H21.2M21.2 285.1H19.4V285.5H21.2M21.2 284.8H18.9V285.3H19.4M19.7 284.2H18.9V285.0H18.9M17.7 282.2H16.6V284.6H18.9M19.1 280.0H16.3V283.4H16.6M18.0 277.4H15.1V281.7H16.3M15.0 269.4H13.9V279.5H15.1M17.0 263.0H13.7V274.5H13.9M21.2 285.9H19.2V286.3H21.2M21.2 286.7H19.3V287.1H21.2M19.2 286.1H18.5V286.9H19.3M21.2 287.9H19.3V288.2H21.2M21.2 287.5H19.1V288.1H19.3M21.2 289.0H19.4V289.4H21.2M21.2 289.8H19.3V290.2H21.2M19.4 289.2H18.8V290.0H19.3M21.2 288.6H18.1V289.6H18.8M19.1 287.8H17.8V289.1H18.1M21.2 290.6H19.2V291.0H21.2M21.2 292.1H19.2V292.5H21.2M21.2 291.7H18.8V292.3H19.2M21.2 291.4H18.7V292.0H18.8M19.2 290.8H18.1V291.7H18.7M17.8 288.4H17.3V291.2H18.1M18.5 286.5H17.2V289.8H17.3M21.2 293.7H19.7V294.1H21.2M21.2 293.3H18.9V293.9H19.7M18.9 293.6H18.9V294.5H21.2M21.2 292.9H18.3V294.0H18.9M21.2 295.2H19.3V295.6H21.2M21.2 294.9H19.2V295.4H19.3M21.2 296.0H19.3V296.4H21.2M19.2 295.1H18.5V296.2H19.3M18.3 293.5H17.7V295.7H18.5M21.2 297.6H19.3V298.0H21.2M21.2 297.2H19.3V297.8H19.3M21.2 296.8H19.2V297.5H19.3M17.7 294.6H16.5V297.1H19.2M21.2 298.7H19.7V299.1H21.2M21.2 298.3H19.4V298.9H19.7M21.2 299.9H19.8V300.3H21.2M21.2 299.5H19.4V300.1H19.8M19.4 298.6H19.0V299.8H19.4M16.5 295.9H16.2V299.2H19.0M17.2 288.2H15.6V297.5H16.2M13.7 268.8H11.8V292.9H15.6M21.2 301.5H19.3V301.8H21.2M21.2 301.1H19.2V301.6H19.3M21.2 300.7H19.0V301.4H19.2M21.2 302.6H19.6V303.0H21.2M21.2 302.2H19.5V302.8H19.6M21.2 303.4H19.3V303.8H21.2M19.3 303.6H19.2V304.2H21.2M21.2 305.0H19.5V305.3H21.2M21.2 304.6H19.4V305.1H19.5M19.2 303.9H18.6V304.9H19.4M19.5 302.5H18.5V304.4H18.6M19.0 301.0H16.7V303.4H18.5M21.2 305.7H19.4V306.1H21.2M21.2 306.5H19.7V306.9H21.2M19.4 305.9H19.3V306.7H19.7M21.2 307.3H19.5V307.7H21.2M21.2 308.1H19.6V308.4H21.2M19.5 307.5H18.5V308.3H19.6M19.3 306.3H18.3V307.9H18.5M21.2 308.8H19.3V309.2H21.2M19.3 309.0H19.2V309.6H21.2M18.3 307.1H16.9V309.3H19.2M16.7 302.2H16.0V308.2H16.9M21.2 310.4H19.4V310.8H21.2M21.2 310.0H19.1V310.6H19.4M19.1 310.3H18.9V311.2H21.2M21.2 311.6H19.4V311.9H21.2M19.4 311.7H18.8V312.3H21.2M21.2 313.1H19.7V313.5H21.2M19.7 313.3H19.3V313.9H21.2M21.2 312.7H18.6V313.6H19.3M18.8 312.0H18.5V313.2H18.6M18.9 310.7H17.9V312.6H18.5M21.2 314.7H19.4V315.1H21.2M21.2 314.3H19.1V314.9H19.4M19.1 314.6H19.1V315.4H21.2M17.9 311.7H17.1V315.0H19.1M21.2 315.8H19.4V316.2H21.2M21.2 316.6H19.6V317.0H21.2M19.4 316.0H19.0V316.8H19.6M21.2 317.8H19.6V318.2H21.2M21.2 317.4H19.0V318.0H19.6M19.0 316.4H18.5V317.7H19.0M21.2 318.5H19.4V318.9H21.2M21.2 319.7H19.4V320.1H21.2M21.2 319.3H18.9V319.9H19.4M19.4 318.7H18.2V319.6H18.9M18.5 317.0H18.1V319.2H18.2M17.1 313.3H16.5V318.1H18.1M16.0 305.2H14.7V315.7H16.5M11.8 280.8H11.5V310.5H14.7M21.2 320.9H19.5V321.3H21.2M21.2 320.5H18.8V321.1H19.5M21.2 321.7H19.7V322.0H21.2M21.2 322.4H19.6V322.8H21.2M21.2 323.6H19.8V324.0H21.2M21.2 323.2H19.0V323.8H19.8M19.6 322.6H18.6V323.5H19.0M19.7 321.8H17.9V323.1H18.6M18.8 320.8H17.7V322.5H17.9M21.2 324.8H19.3V325.1H21.2M21.2 325.5H19.1V325.9H21.2M19.3 325.0H18.7V325.7H19.1M21.2 324.4H18.3V325.3H18.7M17.7 321.6H17.6V324.9H18.3M21.2 326.3H19.3V326.7H21.2M21.2 327.1H19.4V327.5H21.2M19.3 326.5H19.2V327.3H19.4M21.2 328.6H19.6V329.0H21.2M21.2 328.3H19.5V328.8H19.6M21.2 327.9H19.2V328.5H19.5M19.2 326.9H18.0V328.2H19.2M21.2 330.2H19.7V330.6H21.2M21.2 329.8H19.4V330.4H19.7M21.2 329.4H19.3V330.1H19.4M18.0 327.6H17.9V329.8H19.3M21.2 331.4H19.5V331.8H21.2M21.2 331.0H19.1V331.6H19.5M21.2 333.3H19.4V333.7H21.2M21.2 332.9H18.8V333.5H19.4M21.2 332.5H18.7V333.2H18.8M21.2 332.1H18.4V332.9H18.7M19.1 331.3H18.3V332.5H18.4M17.9 328.7H17.5V331.9H18.3M17.6 323.2H15.6V330.3H17.5M21.2 334.1H19.5V334.5H21.2M21.2 334.9H19.7V335.2H21.2M19.5 334.3H19.2V335.1H19.7M21.2 336.8H19.5V337.2H21.2M21.2 336.4H19.4V337.0H19.5M21.2 336.0H19.2V336.7H19.4M21.2 335.6H18.4V336.4H19.2M21.2 338.4H19.7V338.7H21.2M21.2 338.0H18.9V338.5H19.7M21.2 337.6H18.6V338.3H18.9M18.4 336.0H17.7V337.9H18.6M19.2 334.7H17.0V337.0H17.7M21.2 339.1H19.6V339.5H21.2M21.2 339.9H19.6V340.3H21.2M19.6 339.3H19.2V340.1H19.6M21.2 340.7H19.6V341.1H21.2M19.2 339.7H18.2V340.9H19.6M21.2 341.5H19.4V341.9H21.2M19.4 341.7H19.2V342.2H21.2M21.2 342.6H19.4V343.0H21.2M19.2 341.9H18.5V342.8H19.4M21.2 344.2H19.6V344.6H21.2M21.2 343.8H19.5V344.4H19.6M21.2 343.4H19.3V344.1H19.5M21.2 345.3H19.6V345.7H21.2M21.2 345.0H19.6V345.5H19.6M19.3 343.7H18.4V345.2H19.6M18.5 342.4H18.1V344.5H18.4M18.2 340.3H17.5V343.4H18.1M21.2 346.5H19.7V346.9H21.2M21.2 346.1H19.5V346.7H19.7M21.2 347.7H19.7V348.1H21.2M21.2 347.3H19.2V347.9H19.7M19.5 346.4H18.5V347.6H19.2M17.5 341.9H15.8V347.0H18.5M17.0 335.8H15.1V344.4H15.8M15.6 326.8H11.9V340.1H15.1M21.2 349.2H19.1V349.6H21.2M21.2 348.8H18.9V349.4H19.1M21.2 348.5H18.9V349.1H18.9M21.2 350.0H19.3V350.4H21.2M21.2 351.6H19.8V351.9H21.2M21.2 351.2H19.4V351.8H19.8M21.2 350.8H18.7V351.5H19.4M19.3 350.2H17.9V351.1H18.7M21.2 353.5H19.6V353.9H21.2M21.2 353.1H19.3V353.7H19.6M21.2 352.7H19.1V353.4H19.3M21.2 352.3H19.1V353.1H19.1M17.9 350.7H17.6V352.7H19.1M18.9 348.8H17.5V351.7H17.6M21.2 354.7H19.8V355.1H21.2M21.2 354.3H19.2V354.9H19.8M21.2 355.4H19.2V355.8H21.2M19.2 354.6H18.1V355.6H19.2M21.2 356.2H19.6V356.6H21.2M21.2 357.4H19.5V357.8H21.2M21.2 357.0H19.5V357.6H19.5M19.6 356.4H18.2V357.3H19.5M21.2 358.2H19.8V358.6H21.2M21.2 359.7H19.6V360.1H21.2M21.2 359.3H19.5V359.9H19.6M21.2 358.9H19.0V359.6H19.5M19.8 358.4H18.9V359.3H19.0M21.2 360.5H19.4V360.9H21.2M18.9 358.8H18.7V360.7H19.4M18.2 356.9H18.1V359.8H18.7M18.1 355.1H17.3V358.3H18.1M21.2 362.0H19.4V362.4H21.2M21.2 361.7H19.1V362.2H19.4M21.2 361.3H19.0V362.0H19.1M21.2 363.6H19.4V364.0H21.2M21.2 363.2H19.1V363.8H19.4M21.2 362.8H18.8V363.5H19.1M21.2 364.8H19.5V365.2H21.2M21.2 364.4H18.8V365.0H19.5M18.8 363.2H18.6V364.7H18.8M19.0 361.6H17.6V363.9H18.6M17.3 356.7H15.6V362.8H17.6M17.5 350.2H15.4V359.7H15.6M11.9 333.4H11.5V355.0H15.4M11.5 295.6H11.2V344.2H11.5M21.2 365.9H19.8V366.3H21.2M21.2 365.5H19.5V366.1H19.8M21.2 366.7H19.4V367.1H21.2M19.5 365.8H18.8V366.9H19.4M21.2 367.9H19.7V368.3H21.2M21.2 367.5H19.3V368.1H19.7M21.2 368.7H19.6V369.0H21.2M19.3 367.8H19.1V368.8H19.6M21.2 369.4H19.2V369.8H21.2M21.2 370.2H19.1V370.6H21.2M19.2 369.6H18.8V370.4H19.1M21.2 371.0H19.3V371.4H21.2M18.8 370.0H18.2V371.2H19.3M21.2 372.5H19.7V372.9H21.2M21.2 372.1H19.4V372.7H19.7M21.2 371.8H18.5V372.4H19.4M18.2 370.6H18.0V372.1H18.5M19.1 368.3H17.9V371.3H18.0M18.8 366.4H16.1V369.8H17.9M21.2 374.1H19.4V374.5H21.2M21.2 373.7H19.4V374.3H19.4M21.2 373.3H19.3V374.0H19.4M21.2 375.3H19.6V375.6H21.2M21.2 374.9H19.4V375.4H19.6M19.3 373.7H18.2V375.2H19.4M21.2 376.0H19.7V376.4H21.2M21.2 376.8H19.7V377.2H21.2M19.7 376.2H18.5V377.0H19.7M21.2 378.0H19.5V378.4H21.2M21.2 377.6H19.3V378.2H19.5M21.2 378.8H19.5V379.1H21.2M19.3 377.9H18.4V378.9H19.5M21.2 379.9H19.1V380.3H21.2M21.2 379.5H18.7V380.1H19.1M18.4 378.4H18.3V379.8H18.7M18.5 376.6H18.2V379.1H18.3M18.2 374.4H17.5V377.9H18.2M21.2 381.1H19.2V381.5H21.2M21.2 380.7H19.1V381.3H19.2M21.2 382.6H19.6V383.0H21.2M21.2 382.2H19.2V382.8H19.6M21.2 381.9H19.2V382.5H19.2M21.2 383.4H19.2V383.8H21.2M21.2 384.2H19.7V384.6H21.2M21.2 385.0H19.5V385.4H21.2M19.7 384.4H18.8V385.2H19.5M19.2 383.6H18.7V384.8H18.8M19.2 382.2H18.2V384.2H18.7M19.1 381.0H16.9V383.2H18.2M21.2 386.5H19.3V386.9H21.2M19.3 386.7H19.3V387.3H21.2M21.2 387.7H19.2V388.1H21.2M19.3 387.0H19.0V387.9H19.2M21.2 386.1H18.7V387.4H19.0M21.2 385.7H18.6V386.8H18.7M16.9 382.1H16.7V386.3H18.6M21.2 388.9H19.8V389.2H21.2M21.2 388.5H19.2V389.0H19.8M21.2 390.0H19.3V390.4H21.2M21.2 389.6H19.2V390.2H19.3M19.2 388.8H18.3V389.9H19.2M21.2 390.8H19.3V391.2H21.2M21.2 391.6H19.2V392.0H21.2M19.3 391.0H18.4V391.8H19.2M21.2 392.3H19.4V392.7H21.2M21.2 393.9H19.4V394.3H21.2M21.2 393.5H19.3V394.1H19.4M21.2 393.1H19.3V393.8H19.3M19.4 392.5H18.3V393.5H19.3M18.4 391.4H18.0V393.0H18.3M18.3 389.3H17.9V392.2H18.0M16.7 384.2H16.3V390.8H17.9M17.5 376.1H14.0V387.5H16.3M16.1 368.1H13.8V381.8H14.0M21.2 395.1H19.4V395.5H21.2M21.2 394.7H18.8V395.3H19.4M21.2 395.8H19.4V396.2H21.2M18.8 395.0H18.2V396.0H19.4M21.2 396.6H19.4V397.0H21.2M21.2 397.4H19.8V397.8H21.2M19.4 396.8H19.1V397.6H19.8M18.2 395.5H18.0V397.2H19.1M21.2 398.2H19.2V398.6H21.2M21.2 398.9H19.7V399.3H21.2M21.2 399.7H19.4V400.1H21.2M19.7 399.1H18.9V399.9H19.4M19.2 398.4H18.8V399.5H18.9M18.0 396.4H17.9V398.9H18.8M21.2 400.5H19.6V400.9H21.2M19.6 400.7H19.4V401.3H21.2M21.2 401.7H19.2V402.1H21.2M19.4 401.0H18.8V401.9H19.2M17.9 397.7H17.0V401.4H18.8M21.2 402.8H19.4V403.2H21.2M21.2 402.4H19.4V403.0H19.4M21.2 404.0H19.6V404.4H21.2M21.2 403.6H19.1V404.2H19.6M21.2 405.2H19.7V405.6H21.2M21.2 404.8H19.0V405.4H19.7M19.1 403.9H18.5V405.1H19.0M21.2 406.7H19.7V407.1H21.2M21.2 406.3H19.3V406.9H19.7M21.2 405.9H19.2V406.6H19.3M18.5 404.5H17.3V406.3H19.2M19.4 402.7H17.1V405.4H17.3M17.0 399.5H16.0V404.1H17.1M13.8 375.0H12.9V401.8H16.0M11.2 319.9H4.5V388.4H12.9" fill="none" stroke="#000" stroke-width="0.5"/>
<path d="M33.1 258.5V253.5H68.9V254.6M57 258.5V254.6H80.8V258.5M104.5 258.5V251.9H140.2V254M128.4 258.5V254H152.1V258.5M51 253.5V243.3H122.3V251.9" fill="none" stroke="#777" stroke-width="0.6"/>
<defs><linearGradient id="cb" x1="0" y1="0" x2="0" y2="1"><stop offset="0" stop-color="#f2625c"/><stop offset="0.5" stop-color="#ffffff"/><stop offset="1" stop-color="#5a8cf2"/></linearGradient></defs>
<rect x="169.6" y="296.5" width="8.1" height="59.2" fill="url(#cb)"/>
<line x1="176.3" y1="299.5" x2="177.7" y2="299.5" stroke="#fff" stroke-width="0.6"/>
<text x="179" y="302.7" font-size="9" fill="#1a1a1a">2</text>
<line x1="176.3" y1="313.1" x2="177.7" y2="313.1" stroke="#fff" stroke-width="0.6"/>
<text x="179" y="316.3" font-size="9" fill="#1a1a1a">1</text>
<line x1="176.3" y1="326.7" x2="177.7" y2="326.7" stroke="#fff" stroke-width="0.6"/>
<text x="179" y="329.9" font-size="9" fill="#1a1a1a">0</text>
<line x1="176.3" y1="340.3" x2="177.7" y2="340.3" stroke="#fff" stroke-width="0.6"/>
<text x="179" y="343.5" font-size="9" textLength="6.8" lengthAdjust="spacingAndGlyphs" fill="#1a1a1a">−1</text>
<line x1="176.3" y1="353.6" x2="177.7" y2="353.6" stroke="#fff" stroke-width="0.6"/>
<text x="179" y="356.8" font-size="9" textLength="6.8" lengthAdjust="spacingAndGlyphs" fill="#1a1a1a">−2</text>
<text transform="translate(37.7,418.2) rotate(-68)" font-size="9.8" text-anchor="end" fill="#1a1a1a">LS_3</text>
<text transform="translate(61.4,418.2) rotate(-68)" font-size="9.8" text-anchor="end" fill="#1a1a1a">LS_1</text>
<text transform="translate(85.2,418.2) rotate(-68)" font-size="9.8" text-anchor="end" fill="#1a1a1a">LS_2</text>
<text transform="translate(108.9,418.2) rotate(-68)" font-size="9.8" text-anchor="end" fill="#1a1a1a">NS_3</text>
<text transform="translate(132.7,418.2) rotate(-68)" font-size="9.8" text-anchor="end" fill="#1a1a1a">NS_1</text>
<text transform="translate(156.4,418.2) rotate(-68)" font-size="9.8" text-anchor="end" fill="#1a1a1a">NS_2</text>
<rect x="215.2" y="260.00" width="30" height="2.29" fill="#f8a8a5"/>
<rect x="215.2" y="261.99" width="30" height="2.29" fill="#f8a7a4"/>
<rect x="215.2" y="263.98" width="30" height="2.29" fill="#f9b3b0"/>
<rect x="215.2" y="265.98" width="30" height="2.29" fill="#f9b4b1"/>
<rect x="215.2" y="267.97" width="30" height="2.29" fill="#f8aaa7"/>
<rect x="215.2" y="269.96" width="30" height="2.29" fill="#f8a9a5"/>
<rect x="215.2" y="271.95" width="30" height="2.29" fill="#f8aca9"/>
<rect x="215.2" y="273.94" width="30" height="2.29" fill="#f9b6b3"/>
<rect x="215.2" y="275.94" width="30" height="2.29" fill="#f9bcb9"/>
<rect x="215.2" y="277.93" width="30" height="2.29" fill="#fbcbc9"/>
<rect x="215.2" y="279.92" width="30" height="2.29" fill="#fac4c1"/>
<rect x="215.2" y="281.91" width="30" height="2.29" fill="#fac7c5"/>
<rect x="215.2" y="283.90" width="30" height="2.29" fill="#f9b7b4"/>
<rect x="215.2" y="285.89" width="30" height="2.29" fill="#f9bcba"/>
<rect x="215.2" y="287.89" width="30" height="2.29" fill="#f8a8a5"/>
<rect x="215.2" y="289.88" width="30" height="2.29" fill="#f7a19d"/>
<rect x="215.2" y="291.87" width="30" height="2.29" fill="#f8aaa6"/>
<rect x="215.2" y="293.86" width="30" height="2.29" fill="#f8afac"/>
<rect x="215.2" y="295.85" width="30" height="2.29" fill="#f8aba8"/>
<rect x="215.2" y="297.85" width="30" height="2.29" fill="#f79d99"/>
<rect x="215.2" y="299.84" width="30" height="2.29" fill="#f7a19d"/>
<rect x="215.2" y="301.83" width="30" height="2.29" fill="#f79995"/>
<rect x="215.2" y="303.82" width="30" height="2.29" fill="#f69591"/>
<rect x="215.2" y="305.81" width="30" height="2.29" fill="#f8a9a6"/>
<rect x="215.2" y="307.81" width="30" height="2.29" fill="#f7a09c"/>
<rect x="215.2" y="309.80" width="30" height="2.29" fill="#b7cdf9"/>
<rect x="215.2" y="311.79" width="30" height="2.29" fill="#aec7f9"/>
<rect x="215.2" y="313.78" width="30" height="2.29" fill="#aec6f9"/>
<rect x="215.2" y="315.77" width="30" height="2.29" fill="#a5c0f8"/>
<rect x="215.2" y="317.76" width="30" height="2.29" fill="#acc5f8"/>
<rect x="215.2" y="319.76" width="30" height="2.29" fill="#9bbaf7"/>
<rect x="215.2" y="321.75" width="30" height="2.29" fill="#97b6f7"/>
<rect x="215.2" y="323.74" width="30" height="2.29" fill="#bfd2fa"/>
<rect x="215.2" y="325.73" width="30" height="2.29" fill="#bcd0fa"/>
<rect x="215.2" y="327.72" width="30" height="2.29" fill="#c6d7fb"/>
<rect x="215.2" y="329.72" width="30" height="2.29" fill="#b3caf9"/>
<rect x="215.2" y="331.71" width="30" height="2.29" fill="#bacffa"/>
<rect x="215.2" y="333.70" width="30" height="2.29" fill="#aac4f8"/>
<rect x="215.2" y="335.69" width="30" height="2.29" fill="#a5c1f8"/>
<rect x="215.2" y="337.68" width="30" height="2.29" fill="#b5cbf9"/>
<rect x="215.2" y="339.68" width="30" height="2.29" fill="#b9cef9"/>
<rect x="215.2" y="341.67" width="30" height="2.29" fill="#b2c9f9"/>
<rect x="215.2" y="343.66" width="30" height="2.29" fill="#bdd1fa"/>
<rect x="215.2" y="345.65" width="30" height="2.29" fill="#c0d3fa"/>
<rect x="215.2" y="347.64" width="30" height="2.29" fill="#b5ccf9"/>
<rect x="215.2" y="349.64" width="30" height="2.29" fill="#a6c1f8"/>
<rect x="215.2" y="351.63" width="30" height="2.29" fill="#b4cbf9"/>
<rect x="215.2" y="353.62" width="30" height="2.29" fill="#b3caf9"/>
<rect x="215.2" y="355.61" width="30" height="2.29" fill="#b8cef9"/>
<rect x="215.2" y="357.60" width="30" height="2.29" fill="#abc4f8"/>
<rect x="215.2" y="359.59" width="30" height="2.29" fill="#adc6f9"/>
<rect x="215.2" y="361.59" width="30" height="2.29" fill="#a4c0f8"/>
<rect x="215.2" y="363.58" width="30" height="2.29" fill="#abc4f8"/>
<rect x="215.2" y="365.57" width="30" height="2.29" fill="#b4cbf9"/>
<rect x="215.2" y="367.56" width="30" height="2.29" fill="#abc4f8"/>
<rect x="215.2" y="369.55" width="30" height="2.29" fill="#a3bff8"/>
<rect x="215.2" y="371.55" width="30" height="2.29" fill="#b9cefa"/>
<rect x="215.2" y="373.54" width="30" height="2.29" fill="#b6ccf9"/>
<rect x="215.2" y="375.53" width="30" height="2.29" fill="#b1c8f9"/>
<rect x="215.2" y="377.52" width="30" height="2.29" fill="#b7cdf9"/>
<rect x="215.2" y="379.51" width="30" height="2.29" fill="#abc5f8"/>
<rect x="215.2" y="381.51" width="30" height="2.29" fill="#b9cefa"/>
<rect x="215.2" y="383.50" width="30" height="2.29" fill="#acc5f8"/>
<rect x="215.2" y="385.49" width="30" height="2.29" fill="#aec7f9"/>
<rect x="215.2" y="387.48" width="30" height="2.29" fill="#b0c8f9"/>
<rect x="215.2" y="389.47" width="30" height="2.29" fill="#c0d3fa"/>
<rect x="215.2" y="391.46" width="30" height="2.29" fill="#c1d4fa"/>
<rect x="215.2" y="393.46" width="30" height="2.29" fill="#c1d3fa"/>
<rect x="215.2" y="395.45" width="30" height="2.29" fill="#b7cdf9"/>
<rect x="215.2" y="397.44" width="30" height="2.29" fill="#acc5f8"/>
<rect x="215.2" y="399.43" width="30" height="2.29" fill="#a9c3f8"/>
<rect x="215.2" y="401.42" width="30" height="2.29" fill="#a7c2f8"/>
<rect x="215.2" y="403.42" width="30" height="2.29" fill="#b6ccf9"/>
<rect x="215.2" y="405.41" width="30" height="2.29" fill="#c1d4fa"/>
<rect x="244.9" y="260.00" width="30" height="2.29" fill="#f8aca9"/>
<rect x="244.9" y="261.99" width="30" height="2.29" fill="#f8b0ad"/>
<rect x="244.9" y="263.98" width="30" height="2.29" fill="#f9b1ae"/>
<rect x="244.9" y="265.98" width="30" height="2.29" fill="#f8aba8"/>
<rect x="244.9" y="267.97" width="30" height="2.29" fill="#f8a7a3"/>
<rect x="244.9" y="269.96" width="30" height="2.29" fill="#f8b0ad"/>
<rect x="244.9" y="271.95" width="30" height="2.29" fill="#f9b7b5"/>
<rect x="244.9" y="273.94" width="30" height="2.29" fill="#fabebb"/>
<rect x="244.9" y="275.94" width="30" height="2.29" fill="#f9b3b0"/>
<rect x="244.9" y="277.93" width="30" height="2.29" fill="#f8adaa"/>
<rect x="244.9" y="279.92" width="30" height="2.29" fill="#f7a4a1"/>
<rect x="244.9" y="281.91" width="30" height="2.29" fill="#f9b2af"/>
<rect x="244.9" y="283.90" width="30" height="2.29" fill="#fcdedd"/>
<rect x="244.9" y="285.89" width="30" height="2.29" fill="#fde6e5"/>
<rect x="244.9" y="287.89" width="30" height="2.29" fill="#fbccca"/>
<rect x="244.9" y="289.88" width="30" height="2.29" fill="#fac7c5"/>
<rect x="244.9" y="291.87" width="30" height="2.29" fill="#f9b9b6"/>
<rect x="244.9" y="293.86" width="30" height="2.29" fill="#f8aba8"/>
<rect x="244.9" y="295.85" width="30" height="2.29" fill="#f9b2af"/>
<rect x="244.9" y="297.85" width="30" height="2.29" fill="#f8a9a6"/>
<rect x="244.9" y="299.84" width="30" height="2.29" fill="#f8a9a5"/>
<rect x="244.9" y="301.83" width="30" height="2.29" fill="#f9bbb8"/>
<rect x="244.9" y="303.82" width="30" height="2.29" fill="#fac1be"/>
<rect x="244.9" y="305.81" width="30" height="2.29" fill="#fabebc"/>
<rect x="244.9" y="307.81" width="30" height="2.29" fill="#f7a29f"/>
<rect x="244.9" y="309.80" width="30" height="2.29" fill="#c0d3fa"/>
<rect x="244.9" y="311.79" width="30" height="2.29" fill="#c7d8fb"/>
<rect x="244.9" y="313.78" width="30" height="2.29" fill="#ceddfb"/>
<rect x="244.9" y="315.77" width="30" height="2.29" fill="#b6ccf9"/>
<rect x="244.9" y="317.76" width="30" height="2.29" fill="#a5c0f8"/>
<rect x="244.9" y="319.76" width="30" height="2.29" fill="#abc4f8"/>
<rect x="244.9" y="321.75" width="30" height="2.29" fill="#abc4f8"/>
<rect x="244.9" y="323.74" width="30" height="2.29" fill="#b5cbf9"/>
<rect x="244.9" y="325.73" width="30" height="2.29" fill="#b3caf9"/>
<rect x="244.9" y="327.72" width="30" height="2.29" fill="#a2bef8"/>
<rect x="244.9" y="329.72" width="30" height="2.29" fill="#96b6f7"/>
<rect x="244.9" y="331.71" width="30" height="2.29" fill="#9fbcf7"/>
<rect x="244.9" y="333.70" width="30" height="2.29" fill="#a4bff8"/>
<rect x="244.9" y="335.69" width="30" height="2.29" fill="#92b3f6"/>
<rect x="244.9" y="337.68" width="30" height="2.29" fill="#a7c2f8"/>
<rect x="244.9" y="339.68" width="30" height="2.29" fill="#b1c9f9"/>
<rect x="244.9" y="341.67" width="30" height="2.29" fill="#bfd2fa"/>
<rect x="244.9" y="343.66" width="30" height="2.29" fill="#acc5f8"/>
<rect x="244.9" y="345.65" width="30" height="2.29" fill="#bbd0fa"/>
<rect x="244.9" y="347.64" width="30" height="2.29" fill="#a9c3f8"/>
<rect x="244.9" y="349.64" width="30" height="2.29" fill="#aac4f8"/>
<rect x="244.9" y="351.63" width="30" height="2.29" fill="#abc4f8"/>
<rect x="244.9" y="353.62" width="30" height="2.29" fill="#aec6f9"/>
<rect x="244.9" y="355.61" width="30" height="2.29" fill="#a7c2f8"/>
<rect x="244.9" y="357.60" width="30" height="2.29" fill="#abc4f8"/>
<rect x="244.9" y="359.59" width="30" height="2.29" fill="#aec7f9"/>
<rect x="244.9" y="361.59" width="30" height="2.29" fill="#a6c1f8"/>
<rect x="244.9" y="363.58" width="30" height="2.29" fill="#a5c0f8"/>
<rect x="244.9" y="365.57" width="30" height="2.29" fill="#b3caf9"/>
<rect x="244.9" y="367.56" width="30" height="2.29" fill="#a8c2f8"/>
<rect x="244.9" y="369.55" width="30" height="2.29" fill="#97b7f7"/>
<rect x="244.9" y="371.55" width="30" height="2.29" fill="#aec7f9"/>
<rect x="244.9" y="373.54" width="30" height="2.29" fill="#adc6f9"/>
<rect x="244.9" y="375.53" width="30" height="2.29" fill="#abc4f8"/>
<rect x="244.9" y="377.52" width="30" height="2.29" fill="#aec7f9"/>
<rect x="244.9" y="379.51" width="30" height="2.29" fill="#b5cbf9"/>
<rect x="244.9" y="381.51" width="30" height="2.29" fill="#bbcffa"/>
<rect x="244.9" y="383.50" width="30" height="2.29" fill="#abc4f8"/>
<rect x="244.9" y="385.49" width="30" height="2.29" fill="#b4caf9"/>
<rect x="244.9" y="387.48" width="30" height="2.29" fill="#abc5f8"/>
<rect x="244.9" y="389.47" width="30" height="2.29" fill="#a1bef8"/>
<rect x="244.9" y="391.46" width="30" height="2.29" fill="#a4bff8"/>
<rect x="244.9" y="393.46" width="30" height="2.29" fill="#b2c9f9"/>
<rect x="244.9" y="395.45" width="30" height="2.29" fill="#bbd0fa"/>
<rect x="244.9" y="397.44" width="30" height="2.29" fill="#b5ccf9"/>
<rect x="244.9" y="399.43" width="30" height="2.29" fill="#a5c0f8"/>
<rect x="244.9" y="401.42" width="30" height="2.29" fill="#a7c2f8"/>
<rect x="244.9" y="403.42" width="30" height="2.29" fill="#acc5f8"/>
<rect x="244.9" y="405.41" width="30" height="2.29" fill="#a8c3f8"/>
<rect x="274.6" y="260.00" width="30" height="2.29" fill="#b6ccf9"/>
<rect x="274.6" y="261.99" width="30" height="2.29" fill="#b6ccf9"/>
<rect x="274.6" y="263.98" width="30" height="2.29" fill="#bcd0fa"/>
<rect x="274.6" y="265.98" width="30" height="2.29" fill="#b8cef9"/>
<rect x="274.6" y="267.97" width="30" height="2.29" fill="#bfd2fa"/>
<rect x="274.6" y="269.96" width="30" height="2.29" fill="#afc7f9"/>
<rect x="274.6" y="271.95" width="30" height="2.29" fill="#b8cdf9"/>
<rect x="274.6" y="273.94" width="30" height="2.29" fill="#c3d5fa"/>
<rect x="274.6" y="275.94" width="30" height="2.29" fill="#d3e0fb"/>
<rect x="274.6" y="277.93" width="30" height="2.29" fill="#c9dafb"/>
<rect x="274.6" y="279.92" width="30" height="2.29" fill="#bfd2fa"/>
<rect x="274.6" y="281.91" width="30" height="2.29" fill="#f6f9fe"/>
<rect x="274.6" y="283.90" width="30" height="2.29" fill="#ebf1fd"/>
<rect x="274.6" y="285.89" width="30" height="2.29" fill="#a8c2f8"/>
<rect x="274.6" y="287.89" width="30" height="2.29" fill="#a5c0f8"/>
<rect x="274.6" y="289.88" width="30" height="2.29" fill="#bed2fa"/>
<rect x="274.6" y="291.87" width="30" height="2.29" fill="#b7cdf9"/>
<rect x="274.6" y="293.86" width="30" height="2.29" fill="#b9cefa"/>
<rect x="274.6" y="295.85" width="30" height="2.29" fill="#bfd2fa"/>
<rect x="274.6" y="297.85" width="30" height="2.29" fill="#b9cef9"/>
<rect x="274.6" y="299.84" width="30" height="2.29" fill="#bcd0fa"/>
<rect x="274.6" y="301.83" width="30" height="2.29" fill="#b8cef9"/>
<rect x="274.6" y="303.82" width="30" height="2.29" fill="#b5cbf9"/>
<rect x="274.6" y="305.81" width="30" height="2.29" fill="#b6ccf9"/>
<rect x="274.6" y="307.81" width="30" height="2.29" fill="#cadafb"/>
<rect x="274.6" y="309.80" width="30" height="2.29" fill="#fcdedc"/>
<rect x="274.6" y="311.79" width="30" height="2.29" fill="#fef7f7"/>
<rect x="274.6" y="313.78" width="30" height="2.29" fill="#fef6f5"/>
<rect x="274.6" y="315.77" width="30" height="2.29" fill="#fde9e8"/>
<rect x="274.6" y="317.76" width="30" height="2.29" fill="#fef7f6"/>
<rect x="274.6" y="319.76" width="30" height="2.29" fill="#fdebea"/>
<rect x="274.6" y="321.75" width="30" height="2.29" fill="#fdecec"/>
<rect x="274.6" y="323.74" width="30" height="2.29" fill="#fcdcdb"/>
<rect x="274.6" y="325.73" width="30" height="2.29" fill="#fffefe"/>
<rect x="274.6" y="327.72" width="30" height="2.29" fill="#fff9f9"/>
<rect x="274.6" y="329.72" width="30" height="2.29" fill="#f7f9fe"/>
<rect x="274.6" y="331.71" width="30" height="2.29" fill="#f6f9fe"/>
<rect x="274.6" y="333.70" width="30" height="2.29" fill="#e9f0fd"/>
<rect x="274.6" y="335.69" width="30" height="2.29" fill="#f6f9fe"/>
<rect x="274.6" y="337.68" width="30" height="2.29" fill="#feefef"/>
<rect x="274.6" y="339.68" width="30" height="2.29" fill="#fef8f8"/>
<rect x="274.6" y="341.67" width="30" height="2.29" fill="#fbcfcd"/>
<rect x="274.6" y="343.66" width="30" height="2.29" fill="#fac4c2"/>
<rect x="274.6" y="345.65" width="30" height="2.29" fill="#fbd1cf"/>
<rect x="274.6" y="347.64" width="30" height="2.29" fill="#feefef"/>
<rect x="274.6" y="349.64" width="30" height="2.29" fill="#fdeae9"/>
<rect x="274.6" y="351.63" width="30" height="2.29" fill="#fcdcda"/>
<rect x="274.6" y="353.62" width="30" height="2.29" fill="#fcdedd"/>
<rect x="274.6" y="355.61" width="30" height="2.29" fill="#fbcdcb"/>
<rect x="274.6" y="357.60" width="30" height="2.29" fill="#fcd5d4"/>
<rect x="274.6" y="359.59" width="30" height="2.29" fill="#fbd1cf"/>
<rect x="274.6" y="361.59" width="30" height="2.29" fill="#fbc9c7"/>
<rect x="274.6" y="363.58" width="30" height="2.29" fill="#f9b2af"/>
<rect x="274.6" y="365.57" width="30" height="2.29" fill="#fac7c5"/>
<rect x="274.6" y="367.56" width="30" height="2.29" fill="#fabebc"/>
<rect x="274.6" y="369.55" width="30" height="2.29" fill="#f9b9b7"/>
<rect x="274.6" y="371.55" width="30" height="2.29" fill="#fabfbc"/>
<rect x="274.6" y="373.54" width="30" height="2.29" fill="#fbd0cf"/>
<rect x="274.6" y="375.53" width="30" height="2.29" fill="#fac1bf"/>
<rect x="274.6" y="377.52" width="30" height="2.29" fill="#fbd3d2"/>
<rect x="274.6" y="379.51" width="30" height="2.29" fill="#fcd5d4"/>
<rect x="274.6" y="381.51" width="30" height="2.29" fill="#fcd6d5"/>
<rect x="274.6" y="383.50" width="30" height="2.29" fill="#fac4c2"/>
<rect x="274.6" y="385.49" width="30" height="2.29" fill="#fbcdcb"/>
<rect x="274.6" y="387.48" width="30" height="2.29" fill="#fbcccb"/>
<rect x="274.6" y="389.47" width="30" height="2.29" fill="#fbcbc9"/>
<rect x="274.6" y="391.46" width="30" height="2.29" fill="#fcd6d4"/>
<rect x="274.6" y="393.46" width="30" height="2.29" fill="#fde5e4"/>
<rect x="274.6" y="395.45" width="30" height="2.29" fill="#fbcdcb"/>
<rect x="274.6" y="397.44" width="30" height="2.29" fill="#fac9c6"/>
<rect x="274.6" y="399.43" width="30" height="2.29" fill="#fac4c2"/>
<rect x="274.6" y="401.42" width="30" height="2.29" fill="#fce0df"/>
<rect x="274.6" y="403.42" width="30" height="2.29" fill="#fde4e3"/>
<rect x="274.6" y="405.41" width="30" height="2.29" fill="#feeeee"/>
<rect x="304.2" y="260.00" width="30" height="2.29" fill="#bacffa"/>
<rect x="304.2" y="261.99" width="30" height="2.29" fill="#b0c8f9"/>
<rect x="304.2" y="263.98" width="30" height="2.29" fill="#b8cdf9"/>
<rect x="304.2" y="265.98" width="30" height="2.29" fill="#bed2fa"/>
<rect x="304.2" y="267.97" width="30" height="2.29" fill="#bfd2fa"/>
<rect x="304.2" y="269.96" width="30" height="2.29" fill="#b8cdf9"/>
<rect x="304.2" y="271.95" width="30" height="2.29" fill="#bfd2fa"/>
<rect x="304.2" y="273.94" width="30" height="2.29" fill="#b2caf9"/>
<rect x="304.2" y="275.94" width="30" height="2.29" fill="#bed1fa"/>
<rect x="304.2" y="277.93" width="30" height="2.29" fill="#b6ccf9"/>
<rect x="304.2" y="279.92" width="30" height="2.29" fill="#c0d3fa"/>
<rect x="304.2" y="281.91" width="30" height="2.29" fill="#c0d3fa"/>
<rect x="304.2" y="283.90" width="30" height="2.29" fill="#cbdbfb"/>
<rect x="304.2" y="285.89" width="30" height="2.29" fill="#bed2fa"/>
<rect x="304.2" y="287.89" width="30" height="2.29" fill="#c8d9fb"/>
<rect x="304.2" y="289.88" width="30" height="2.29" fill="#b4cbf9"/>
<rect x="304.2" y="291.87" width="30" height="2.29" fill="#c2d5fa"/>
<rect x="304.2" y="293.86" width="30" height="2.29" fill="#b7cdf9"/>
<rect x="304.2" y="295.85" width="30" height="2.29" fill="#b9cefa"/>
<rect x="304.2" y="297.85" width="30" height="2.29" fill="#b4cbf9"/>
<rect x="304.2" y="299.84" width="30" height="2.29" fill="#b9cef9"/>
<rect x="304.2" y="301.83" width="30" height="2.29" fill="#bacffa"/>
<rect x="304.2" y="303.82" width="30" height="2.29" fill="#b8cef9"/>
<rect x="304.2" y="305.81" width="30" height="2.29" fill="#bfd2fa"/>
<rect x="304.2" y="307.81" width="30" height="2.29" fill="#c6d7fb"/>
<rect x="304.2" y="309.80" width="30" height="2.29" fill="#fde3e1"/>
<rect x="304.2" y="311.79" width="30" height="2.29" fill="#fbd2d0"/>
<rect x="304.2" y="313.78" width="30" height="2.29" fill="#fcdcda"/>
<rect x="304.2" y="315.77" width="30" height="2.29" fill="#fdedec"/>
<rect x="304.2" y="317.76" width="30" height="2.29" fill="#f9bcba"/>
<rect x="304.2" y="319.76" width="30" height="2.29" fill="#f9b5b2"/>
<rect x="304.2" y="321.75" width="30" height="2.29" fill="#f8ada9"/>
<rect x="304.2" y="323.74" width="30" height="2.29" fill="#f8a7a4"/>
<rect x="304.2" y="325.73" width="30" height="2.29" fill="#f9b9b6"/>
<rect x="304.2" y="327.72" width="30" height="2.29" fill="#fabebb"/>
<rect x="304.2" y="329.72" width="30" height="2.29" fill="#f9b6b3"/>
<rect x="304.2" y="331.71" width="30" height="2.29" fill="#f9b4b1"/>
<rect x="304.2" y="333.70" width="30" height="2.29" fill="#fabdba"/>
<rect x="304.2" y="335.69" width="30" height="2.29" fill="#f9b5b2"/>
<rect x="304.2" y="337.68" width="30" height="2.29" fill="#f9b4b1"/>
<rect x="304.2" y="339.68" width="30" height="2.29" fill="#f9b3b0"/>
<rect x="304.2" y="341.67" width="30" height="2.29" fill="#f8aeab"/>
<rect x="304.2" y="343.66" width="30" height="2.29" fill="#f8b0ad"/>
<rect x="304.2" y="345.65" width="30" height="2.29" fill="#f69490"/>
<rect x="304.2" y="347.64" width="30" height="2.29" fill="#f9b6b4"/>
<rect x="304.2" y="349.64" width="30" height="2.29" fill="#f9b5b2"/>
<rect x="304.2" y="351.63" width="30" height="2.29" fill="#f9b7b4"/>
<rect x="304.2" y="353.62" width="30" height="2.29" fill="#fabfbd"/>
<rect x="304.2" y="355.61" width="30" height="2.29" fill="#fac3c1"/>
<rect x="304.2" y="357.60" width="30" height="2.29" fill="#f9b6b4"/>
<rect x="304.2" y="359.59" width="30" height="2.29" fill="#f9b5b2"/>
<rect x="304.2" y="361.59" width="30" height="2.29" fill="#fbcac8"/>
<rect x="304.2" y="363.58" width="30" height="2.29" fill="#f9bcba"/>
<rect x="304.2" y="365.57" width="30" height="2.29" fill="#fbcac8"/>
<rect x="304.2" y="367.56" width="30" height="2.29" fill="#fcdddc"/>
<rect x="304.2" y="369.55" width="30" height="2.29" fill="#fcd6d4"/>
<rect x="304.2" y="371.55" width="30" height="2.29" fill="#f9b9b7"/>
<rect x="304.2" y="373.54" width="30" height="2.29" fill="#fabdbb"/>
<rect x="304.2" y="375.53" width="30" height="2.29" fill="#fac3c1"/>
<rect x="304.2" y="377.52" width="30" height="2.29" fill="#fbd2d1"/>
<rect x="304.2" y="379.51" width="30" height="2.29" fill="#fbd2d0"/>
<rect x="304.2" y="381.51" width="30" height="2.29" fill="#fbcdcb"/>
<rect x="304.2" y="383.50" width="30" height="2.29" fill="#fbccca"/>
<rect x="304.2" y="385.49" width="30" height="2.29" fill="#fcd6d5"/>
<rect x="304.2" y="387.48" width="30" height="2.29" fill="#fbd2d0"/>
<rect x="304.2" y="389.47" width="30" height="2.29" fill="#fbd2d0"/>
<rect x="304.2" y="391.46" width="30" height="2.29" fill="#fac8c6"/>
<rect x="304.2" y="393.46" width="30" height="2.29" fill="#fac5c2"/>
<rect x="304.2" y="395.45" width="30" height="2.29" fill="#fac6c4"/>
<rect x="304.2" y="397.44" width="30" height="2.29" fill="#fbccca"/>
<rect x="304.2" y="399.43" width="30" height="2.29" fill="#fbd3d2"/>
<rect x="304.2" y="401.42" width="30" height="2.29" fill="#fbd3d1"/>
<rect x="304.2" y="403.42" width="30" height="2.29" fill="#fac2c0"/>
<rect x="304.2" y="405.41" width="30" height="2.29" fill="#fabfbd"/>
<rect x="333.9" y="260.00" width="30" height="2.29" fill="#bacffa"/>
<rect x="333.9" y="261.99" width="30" height="2.29" fill="#cbdafb"/>
<rect x="333.9" y="263.98" width="30" height="2.29" fill="#cddcfb"/>
<rect x="333.9" y="265.98" width="30" height="2.29" fill="#d3e1fc"/>
<rect x="333.9" y="267.97" width="30" height="2.29" fill="#d4e1fc"/>
<rect x="333.9" y="269.96" width="30" height="2.29" fill="#c3d5fa"/>
<rect x="333.9" y="271.95" width="30" height="2.29" fill="#c9d9fb"/>
<rect x="333.9" y="273.94" width="30" height="2.29" fill="#d4e1fc"/>
<rect x="333.9" y="275.94" width="30" height="2.29" fill="#ccdbfb"/>
<rect x="333.9" y="277.93" width="30" height="2.29" fill="#ceddfb"/>
<rect x="333.9" y="279.92" width="30" height="2.29" fill="#dbe6fc"/>
<rect x="333.9" y="281.91" width="30" height="2.29" fill="#dde7fc"/>
<rect x="333.9" y="283.90" width="30" height="2.29" fill="#d8e4fc"/>
<rect x="333.9" y="285.89" width="30" height="2.29" fill="#d4e1fc"/>
<rect x="333.9" y="287.89" width="30" height="2.29" fill="#d4e1fc"/>
<rect x="333.9" y="289.88" width="30" height="2.29" fill="#c8d9fb"/>
<rect x="333.9" y="291.87" width="30" height="2.29" fill="#d0defb"/>
<rect x="333.9" y="293.86" width="30" height="2.29" fill="#dde7fc"/>
<rect x="333.9" y="295.85" width="30" height="2.29" fill="#dee8fc"/>
<rect x="333.9" y="297.85" width="30" height="2.29" fill="#d9e5fc"/>
<rect x="333.9" y="299.84" width="30" height="2.29" fill="#d2e0fb"/>
<rect x="333.9" y="301.83" width="30" height="2.29" fill="#d8e4fc"/>
<rect x="333.9" y="303.82" width="30" height="2.29" fill="#e2ebfd"/>
<rect x="333.9" y="305.81" width="30" height="2.29" fill="#d9e4fc"/>
<rect x="333.9" y="307.81" width="30" height="2.29" fill="#d4e1fc"/>
<rect x="333.9" y="309.80" width="30" height="2.29" fill="#f8aba8"/>
<rect x="333.9" y="311.79" width="30" height="2.29" fill="#f9b8b5"/>
<rect x="333.9" y="313.78" width="30" height="2.29" fill="#f8a9a5"/>
<rect x="333.9" y="315.77" width="30" height="2.29" fill="#f8aaa7"/>
<rect x="333.9" y="317.76" width="30" height="2.29" fill="#f9b3b0"/>
<rect x="333.9" y="319.76" width="30" height="2.29" fill="#f8aba8"/>
<rect x="333.9" y="321.75" width="30" height="2.29" fill="#f79b97"/>
<rect x="333.9" y="323.74" width="30" height="2.29" fill="#f6928e"/>
<rect x="333.9" y="325.73" width="30" height="2.29" fill="#f79c98"/>
<rect x="333.9" y="327.72" width="30" height="2.29" fill="#f8a9a6"/>
<rect x="333.9" y="329.72" width="30" height="2.29" fill="#fac1be"/>
<rect x="333.9" y="331.71" width="30" height="2.29" fill="#fcd7d6"/>
<rect x="333.9" y="333.70" width="30" height="2.29" fill="#fde2e1"/>
<rect x="333.9" y="335.69" width="30" height="2.29" fill="#fcdcdb"/>
<rect x="333.9" y="337.68" width="30" height="2.29" fill="#fcdad8"/>
<rect x="333.9" y="339.68" width="30" height="2.29" fill="#fbd1cf"/>
<rect x="333.9" y="341.67" width="30" height="2.29" fill="#fbcfcd"/>
<rect x="333.9" y="343.66" width="30" height="2.29" fill="#fcd6d5"/>
<rect x="333.9" y="345.65" width="30" height="2.29" fill="#fac7c5"/>
<rect x="333.9" y="347.64" width="30" height="2.29" fill="#fac4c2"/>
<rect x="333.9" y="349.64" width="30" height="2.29" fill="#fbcecc"/>
<rect x="333.9" y="351.63" width="30" height="2.29" fill="#fbcecc"/>
<rect x="333.9" y="353.62" width="30" height="2.29" fill="#fbc9c7"/>
<rect x="333.9" y="355.61" width="30" height="2.29" fill="#fcd5d4"/>
<rect x="333.9" y="357.60" width="30" height="2.29" fill="#fbcecc"/>
<rect x="333.9" y="359.59" width="30" height="2.29" fill="#fce0df"/>
<rect x="333.9" y="361.59" width="30" height="2.29" fill="#fcd6d5"/>
<rect x="333.9" y="363.58" width="30" height="2.29" fill="#fde3e2"/>
<rect x="333.9" y="365.57" width="30" height="2.29" fill="#fbcac8"/>
<rect x="333.9" y="367.56" width="30" height="2.29" fill="#fbcbc9"/>
<rect x="333.9" y="369.55" width="30" height="2.29" fill="#fcd6d4"/>
<rect x="333.9" y="371.55" width="30" height="2.29" fill="#fde2e1"/>
<rect x="333.9" y="373.54" width="30" height="2.29" fill="#fcdad9"/>
<rect x="333.9" y="375.53" width="30" height="2.29" fill="#fcdcdb"/>
<rect x="333.9" y="377.52" width="30" height="2.29" fill="#fac5c3"/>
<rect x="333.9" y="379.51" width="30" height="2.29" fill="#fac6c4"/>
<rect x="333.9" y="381.51" width="30" height="2.29" fill="#fbccca"/>
<rect x="333.9" y="383.50" width="30" height="2.29" fill="#fbd1cf"/>
<rect x="333.9" y="385.49" width="30" height="2.29" fill="#fbd4d3"/>
<rect x="333.9" y="387.48" width="30" height="2.29" fill="#fbd4d2"/>
<rect x="333.9" y="389.47" width="30" height="2.29" fill="#fcd8d6"/>
<rect x="333.9" y="391.46" width="30" height="2.29" fill="#fcd5d3"/>
<rect x="333.9" y="393.46" width="30" height="2.29" fill="#fbd3d2"/>
<rect x="333.9" y="395.45" width="30" height="2.29" fill="#fbd3d2"/>
<rect x="333.9" y="397.44" width="30" height="2.29" fill="#fac0be"/>
<rect x="333.9" y="399.43" width="30" height="2.29" fill="#f9b8b5"/>
<rect x="333.9" y="401.42" width="30" height="2.29" fill="#f9b9b7"/>
<rect x="333.9" y="403.42" width="30" height="2.29" fill="#fac3c1"/>
<rect x="333.9" y="405.41" width="30" height="2.29" fill="#fcd5d3"/>
<path d="M215.2 260.2H213.5V260.6H215.2M213.5 260.4H213.5V261.0H215.2M215.2 261.4H213.5V261.7H215.2M215.2 262.1H213.1V262.5H215.2M215.2 262.9H213.3V263.3H215.2M215.2 263.7H213.6V264.1H215.2M213.3 263.1H212.9V263.9H213.6M213.1 262.3H212.9V263.5H212.9M215.2 264.8H213.7V265.2H215.2M215.2 264.5H213.5V265.0H213.7M215.2 265.6H213.2V266.0H215.2M213.5 264.8H212.4V265.8H213.2M212.9 262.9H212.1V265.3H212.4M213.5 261.6H211.6V264.1H212.1M213.5 260.7H211.0V262.8H211.6M215.2 266.8H213.7V267.2H215.2M213.7 267.0H213.5V267.6H215.2M215.2 266.4H212.9V267.3H213.5M215.2 268.3H213.6V268.7H215.2M215.2 268.0H213.6V268.5H213.6M215.2 269.5H213.5V269.9H215.2M215.2 269.1H213.5V269.7H213.5M213.6 268.2H212.2V269.4H213.5M212.9 266.8H212.1V268.8H212.2M215.2 271.1H213.7V271.4H215.2M215.2 270.7H213.5V271.2H213.7M215.2 270.3H213.0V271.0H213.5M212.1 267.8H212.0V270.6H213.0M215.2 272.2H213.5V272.6H215.2M215.2 271.8H213.4V272.4H213.5M215.2 273.0H213.5V273.4H215.2M215.2 273.8H213.8V274.2H215.2M215.2 274.5H213.2V274.9H215.2M213.8 274.0H212.8V274.7H213.2M213.5 273.2H212.3V274.4H212.8M215.2 275.3H213.1V275.7H215.2M215.2 276.1H213.8V276.5H215.2M213.1 275.5H212.9V276.3H213.8M212.3 273.8H212.1V275.9H212.9M215.2 276.9H213.7V277.3H215.2M213.7 277.1H213.3V277.6H215.2M212.1 274.8H212.0V277.4H213.3M213.4 272.1H210.9V276.1H212.0M215.2 279.2H213.6V279.6H215.2M213.6 279.4H213.1V280.0H215.2M215.2 278.8H212.6V279.7H213.1M215.2 278.4H212.4V279.2H212.6M215.2 278.0H212.3V278.8H212.4M215.2 281.1H213.7V281.5H215.2M213.7 281.3H213.2V281.9H215.2M215.2 280.8H213.0V281.6H213.2M215.2 280.4H212.3V281.2H213.0M215.2 282.3H213.4V282.7H215.2M213.4 282.5H213.3V283.1H215.2M212.3 280.8H212.2V282.8H213.3M212.3 278.4H211.5V281.8H212.2M210.9 274.1H208.7V280.1H211.5M212.0 269.2H207.7V277.1H208.7M211.0 261.8H206.8V273.2H207.7M215.2 283.9H213.3V284.2H215.2M215.2 283.5H213.2V284.0H213.3M215.2 284.6H213.4V285.0H215.2M215.2 285.4H213.8V285.8H215.2M213.4 284.8H213.2V285.6H213.8M215.2 286.6H213.7V287.0H215.2M215.2 286.2H213.2V286.8H213.7M215.2 287.3H213.8V287.7H215.2M213.8 287.5H213.1V288.1H215.2M215.2 288.5H213.7V288.9H215.2M213.1 287.8H212.3V288.7H213.7M213.2 286.5H212.1V288.3H212.3M213.2 285.2H212.0V287.4H212.1M213.2 283.8H211.9V286.3H212.0M215.2 289.3H213.7V289.7H215.2M215.2 290.4H213.5V290.8H215.2M215.2 290.1H213.4V290.6H213.5M213.7 289.5H213.1V290.4H213.4M211.9 285.0H210.4V289.9H213.1M215.2 291.6H213.4V292.0H215.2M213.4 291.8H213.1V292.4H215.2M215.2 291.2H212.4V292.1H213.1M215.2 293.2H213.3V293.6H215.2M215.2 292.8H213.2V293.4H213.3M215.2 293.9H213.7V294.3H215.2M213.2 293.1H213.1V294.1H213.7M212.4 291.7H211.3V293.6H213.1M215.2 294.7H213.4V295.1H215.2M215.2 296.3H213.4V296.7H215.2M215.2 295.9H212.8V296.5H213.4M215.2 295.5H212.5V296.2H212.8M213.4 294.9H212.3V295.8H212.5M215.2 297.0H213.4V297.4H215.2M215.2 297.8H213.5V298.2H215.2M213.4 297.2H213.3V298.0H213.5M212.3 295.4H211.8V297.6H213.3M211.3 292.6H209.8V296.5H211.8M215.2 299.0H213.4V299.4H215.2M215.2 298.6H213.3V299.2H213.4M215.2 300.1H213.2V300.5H215.2M215.2 299.8H212.9V300.3H213.2M213.3 298.9H212.8V300.1H212.9M215.2 300.9H213.2V301.3H215.2M215.2 301.7H213.6V302.1H215.2M213.2 301.1H212.4V301.9H213.6M215.2 303.3H213.3V303.6H215.2M213.3 303.4H213.3V304.0H215.2M215.2 302.9H213.2V303.7H213.3M215.2 302.5H212.9V303.3H213.2M215.2 304.4H213.6V304.8H215.2M215.2 305.6H213.4V306.0H215.2M215.2 305.2H213.4V305.8H213.4M213.6 304.6H212.5V305.5H213.4M215.2 307.5H213.6V307.9H215.2M215.2 307.1H213.4V307.7H213.6M215.2 306.7H213.0V307.4H213.4M215.2 308.3H213.2V308.7H215.2M213.0 307.1H212.9V308.5H213.2M215.2 306.4H212.7V307.8H212.9M212.5 305.0H211.4V307.1H212.7M212.9 302.9H210.9V306.1H211.4M212.4 301.5H210.8V304.5H210.9M212.8 299.5H210.7V303.0H210.8M209.8 294.6H209.6V301.2H210.7M210.4 287.5H206.2V297.9H209.6M206.8 267.5H205.8V292.7H206.2M215.2 309.5H213.4V309.8H215.2M215.2 309.1H213.2V309.7H213.4M215.2 311.0H213.4V311.4H215.2M215.2 310.6H213.3V311.2H213.4M215.2 310.2H213.2V310.9H213.3M213.2 309.4H212.6V310.6H213.2M215.2 312.2H213.6V312.6H215.2M215.2 311.8H213.4V312.4H213.6M215.2 313.3H213.7V313.7H215.2M215.2 312.9H212.8V313.5H213.7M215.2 314.1H213.4V314.5H215.2M215.2 315.3H213.2V315.7H215.2M215.2 314.9H212.9V315.5H213.2M213.4 314.3H212.8V315.2H212.9M212.8 313.2H211.9V314.7H212.8M213.4 312.1H211.3V314.0H211.9M212.6 310.0H210.2V313.0H211.3M215.2 316.1H213.3V316.4H215.2M215.2 316.8H213.7V317.2H215.2M213.3 316.2H213.3V317.0H213.7M215.2 318.0H213.5V318.4H215.2M215.2 317.6H213.5V318.2H213.5M213.3 316.6H212.5V317.9H213.5M215.2 318.8H213.3V319.2H215.2M215.2 319.5H213.6V319.9H215.2M213.3 319.0H212.9V319.7H213.6M215.2 320.7H213.4V321.1H215.2M215.2 320.3H213.2V320.9H213.4M212.9 319.3H212.4V320.6H213.2M212.5 317.3H211.9V320.0H212.4M210.2 311.5H209.6V318.6H211.9M215.2 321.9H213.7V322.3H215.2M215.2 322.6H213.3V323.0H215.2M213.7 322.1H212.6V322.8H213.3M215.2 323.4H213.6V323.8H215.2M212.6 322.5H212.4V323.6H213.6M215.2 321.5H212.3V323.0H212.4M215.2 324.2H213.7V324.6H215.2M215.2 325.4H213.7V325.7H215.2M215.2 326.1H213.5V326.5H215.2M213.7 325.6H213.0V326.3H213.5M215.2 325.0H212.9V325.9H213.0M213.7 324.4H212.5V325.5H212.9M215.2 326.9H213.3V327.3H215.2M213.3 327.1H212.7V327.7H215.2M212.5 324.9H212.4V327.4H212.7M215.2 328.1H213.4V328.5H215.2M213.4 328.3H213.2V328.9H215.2M215.2 329.2H213.6V329.6H215.2M213.6 329.4H212.8V330.0H215.2M215.2 330.4H213.3V330.8H215.2M212.8 329.7H212.7V330.6H213.3M213.2 328.6H212.6V330.2H212.7M212.4 326.2H210.7V329.4H212.6M215.2 331.2H213.7V331.6H215.2M215.2 332.0H213.2V332.3H215.2M213.7 331.4H212.7V332.1H213.2M215.2 332.7H213.6V333.1H215.2M215.2 333.5H213.6V333.9H215.2M213.6 332.9H213.2V333.7H213.6M212.7 331.8H212.2V333.3H213.2M215.2 334.7H213.5V335.1H215.2M215.2 334.3H213.2V334.9H213.5M212.2 332.5H212.1V334.6H213.2M210.7 327.8H210.2V333.6H212.1M212.3 322.3H208.8V330.7H210.2M215.2 335.8H213.4V336.2H215.2M215.2 335.4H213.4V336.0H213.4M215.2 336.6H213.5V337.0H215.2M213.5 336.8H212.8V337.4H215.2M215.2 338.2H213.2V338.5H215.2M215.2 337.8H213.1V338.4H213.2M213.1 338.1H213.0V338.9H215.2M212.8 337.1H212.4V338.5H213.0M213.4 335.7H212.3V337.8H212.4M215.2 339.3H213.4V339.7H215.2M215.2 340.1H213.4V340.5H215.2M213.4 339.5H213.3V340.3H213.4M212.3 336.8H212.0V339.9H213.3M208.8 326.5H208.2V338.3H212.0M209.6 315.1H207.8V332.4H208.2M215.2 341.3H213.2V341.7H215.2M215.2 340.9H213.1V341.5H213.2M215.2 342.8H213.4V343.2H215.2M215.2 342.4H213.4V343.0H213.4M215.2 342.0H213.2V342.7H213.4M215.2 343.6H213.3V344.0H215.2M215.2 344.4H213.8V344.8H215.2M213.3 343.8H212.8V344.6H213.8M215.2 345.9H213.3V346.3H215.2M215.2 345.5H213.2V346.1H213.3M215.2 345.1H212.5V345.8H213.2M212.8 344.2H212.3V345.5H212.5M215.2 347.1H213.1V347.5H215.2M215.2 346.7H212.9V347.3H213.1M212.3 344.8H212.0V347.0H212.9M213.2 342.4H212.0V345.9H212.0M213.1 341.2H211.4V344.1H212.0M215.2 348.2H213.3V348.6H215.2M215.2 349.0H213.3V349.4H215.2M213.3 349.2H213.3V349.8H215.2M213.3 348.4H212.4V349.5H213.3M215.2 347.9H212.3V349.0H212.4M211.4 342.7H210.5V348.4H212.3M207.8 323.7H207.5V345.5H210.5M215.2 350.6H213.3V351.0H215.2M215.2 350.2H212.9V350.8H213.3M215.2 352.1H213.8V352.5H215.2M215.2 351.7H213.3V352.3H213.8M215.2 352.9H213.5V353.3H215.2M213.3 352.0H212.4V353.1H213.5M215.2 351.3H212.1V352.6H212.4M212.9 350.5H212.0V352.0H212.1M215.2 354.1H213.7V354.5H215.2M213.7 354.3H212.7V354.8H215.2M215.2 356.0H213.7V356.4H215.2M215.2 355.6H213.5V356.2H213.7M215.2 355.2H213.1V355.9H213.5M212.7 354.5H212.2V355.6H213.1M215.2 353.7H212.2V355.1H212.2M215.2 357.2H213.2V357.6H215.2M215.2 356.8H212.7V357.4H213.2M215.2 358.3H213.3V358.7H215.2M215.2 357.9H213.0V358.5H213.3M212.7 357.1H212.6V358.2H213.0M212.2 354.4H211.4V357.7H212.6M215.2 359.5H213.6V359.9H215.2M215.2 359.1H212.9V359.7H213.6M215.2 360.3H213.4V360.7H215.2M215.2 361.0H213.5V361.4H215.2M213.4 360.5H212.6V361.2H213.5M212.9 359.4H212.3V360.9H212.6M215.2 362.2H213.3V362.6H215.2M215.2 361.8H213.2V362.4H213.3M212.3 360.1H212.2V362.1H213.2M211.4 356.0H210.5V361.1H212.2M215.2 363.8H213.4V364.1H215.2M215.2 363.4H213.0V364.0H213.4M215.2 364.9H213.8V365.3H215.2M215.2 364.5H213.3V365.1H213.8M213.3 364.8H212.8V365.7H215.2M213.0 363.7H212.2V365.3H212.8M215.2 363.0H212.1V364.5H212.2M210.5 358.6H210.3V363.7H212.1M212.0 351.2H207.7V361.1H210.3M207.5 334.6H205.8V356.2H207.7M215.2 366.1H213.3V366.5H215.2M215.2 367.3H213.1V367.6H215.2M215.2 366.9H212.9V367.4H213.1M213.3 366.3H212.7V367.2H212.9M215.2 368.4H213.2V368.8H215.2M215.2 369.2H213.2V369.6H215.2M213.2 368.6H212.5V369.4H213.2M215.2 368.0H212.4V369.0H212.5M215.2 370.4H213.8V370.7H215.2M215.2 371.5H213.2V371.9H215.2M213.2 371.7H213.1V372.3H215.2M215.2 371.1H212.5V372.0H213.1M213.8 370.5H212.4V371.6H212.5M215.2 370.0H212.3V371.1H212.4M212.4 368.5H211.0V370.5H212.3M215.2 372.7H213.3V373.1H215.2M215.2 373.8H213.5V374.2H215.2M213.5 374.0H213.5V374.6H215.2M215.2 373.5H213.3V374.3H213.5M213.3 372.9H212.7V373.9H213.3M215.2 375.4H213.3V375.8H215.2M215.2 375.0H213.2V375.6H213.3M212.7 373.4H212.2V375.3H213.2M211.0 369.5H210.9V374.3H212.2M212.7 366.7H210.1V371.9H210.9M215.2 377.0H213.6V377.3H215.2M215.2 376.6H213.3V377.1H213.6M215.2 376.2H212.6V376.9H213.3M215.2 378.5H213.5V378.9H215.2M215.2 378.1H213.4V378.7H213.5M215.2 377.7H213.3V378.4H213.4M215.2 379.3H213.5V379.7H215.2M213.3 378.1H212.2V379.5H213.5M212.6 376.5H211.7V378.8H212.2M215.2 380.1H213.6V380.4H215.2M215.2 380.8H213.6V381.2H215.2M213.6 380.2H212.5V381.0H213.6M211.7 377.6H210.8V380.6H212.5M210.1 369.3H209.9V379.1H210.8M215.2 381.6H213.5V382.0H215.2M215.2 382.4H213.1V382.8H215.2M215.2 383.2H213.7V383.5H215.2M215.2 384.3H213.7V384.7H215.2M215.2 383.9H213.0V384.5H213.7M213.7 383.4H212.9V384.2H213.0M213.1 382.6H212.3V383.8H212.9M213.5 381.8H212.2V383.2H212.3M215.2 385.1H213.7V385.5H215.2M213.7 385.3H213.5V385.9H215.2M212.2 382.5H212.1V385.6H213.5M209.9 374.2H207.7V384.0H212.1M205.8 345.4H205.5V379.1H207.7M215.2 386.3H213.6V386.6H215.2M215.2 387.4H213.6V387.8H215.2M215.2 387.0H213.4V387.6H213.6M213.6 386.5H212.6V387.3H213.4M215.2 388.6H213.3V389.0H215.2M215.2 388.2H212.8V388.8H213.3M212.6 386.9H212.2V388.5H212.8M215.2 389.4H213.4V389.8H215.2M215.2 390.1H213.4V390.5H215.2M213.4 389.6H213.3V390.3H213.4M212.2 387.7H212.1V389.9H213.3M215.2 390.9H213.8V391.3H215.2M215.2 392.5H213.3V392.9H215.2M215.2 392.1H213.1V392.7H213.3M215.2 391.7H213.1V392.4H213.1M213.8 391.1H213.0V392.0H213.1M215.2 393.6H213.4V394.0H215.2M215.2 393.2H212.9V393.8H213.4M215.2 395.2H213.8V395.6H215.2M215.2 394.8H213.5V395.4H213.8M215.2 394.4H212.5V395.1H213.5M215.2 396.0H213.2V396.3H215.2M215.2 396.7H213.6V397.1H215.2M213.2 396.2H213.1V396.9H213.6M215.2 397.5H213.7V397.9H215.2M213.1 396.5H212.8V397.7H213.7M212.5 394.7H211.6V397.1H212.8M212.9 393.5H211.4V395.9H211.6M213.0 391.6H211.3V394.7H211.4M215.2 398.3H213.3V398.7H215.2M215.2 399.4H213.3V399.8H215.2M215.2 399.1H213.1V399.6H213.3M213.1 399.4H212.8V400.2H215.2M215.2 401.0H213.7V401.4H215.2M215.2 400.6H213.5V401.2H213.7M212.8 399.8H211.7V400.9H213.5M213.3 398.5H211.6V400.3H211.7M211.3 393.2H210.3V399.4H211.6M212.1 388.8H210.1V396.3H210.3M215.2 401.8H213.7V402.2H215.2M215.2 402.6H213.5V402.9H215.2M213.7 402.0H212.9V402.7H213.5M215.2 403.3H213.5V403.7H215.2M215.2 404.5H213.4V404.9H215.2M215.2 404.1H213.0V404.7H213.4M213.5 403.5H212.9V404.4H213.0M212.9 402.4H212.2V404.0H212.9M215.2 405.3H213.6V405.7H215.2M213.6 405.5H213.5V406.0H215.2M215.2 406.8H213.4V407.2H215.2M215.2 406.4H213.3V407.0H213.4M213.5 405.8H212.8V406.7H213.3M212.2 403.2H210.8V406.2H212.8M210.1 392.5H207.6V404.7H210.8M205.5 362.3H205.2V398.6H207.6M205.8 280.1H198.5V380.4H205.2" fill="none" stroke="#000" stroke-width="0.5"/>
<path d="M230 259V256H259.7V259M289.4 259V253.3H334V255.4M319.1 259V255.4H348.8V259M244.8 256V243.2H311.7V253.3" fill="none" stroke="#777" stroke-width="0.6"/>
<text transform="translate(234.6,418.2) rotate(-68)" font-size="9.8" text-anchor="end" fill="#1a1a1a">NR_2</text>
<text transform="translate(264.3,418.2) rotate(-68)" font-size="9.8" text-anchor="end" fill="#1a1a1a">NR_3</text>
<text transform="translate(294,418.2) rotate(-68)" font-size="9.8" text-anchor="end" fill="#1a1a1a">LR_3</text>
<text transform="translate(323.7,418.2) rotate(-68)" font-size="9.8" text-anchor="end" fill="#1a1a1a">LR_1</text>
<text transform="translate(353.4,418.2) rotate(-68)" font-size="9.8" text-anchor="end" fill="#1a1a1a">LR_2</text>
<g>
<ellipse cx="424.4" cy="358.4" rx="72" ry="33.5" transform="rotate(49.7 424.4 358.4)" fill="#cbe5ef" fill-opacity="0.85"/>
<ellipse cx="453.5" cy="341.5" rx="72" ry="31.5" transform="rotate(51 453.5 341.5)" fill="#d9eacf" fill-opacity="0.85"/>
<ellipse cx="457.9" cy="341.5" rx="72" ry="31.5" transform="rotate(-51 457.9 341.5)" fill="#ebf1b4" fill-opacity="0.85"/>
<ellipse cx="487" cy="358.4" rx="72" ry="33.5" transform="rotate(-49.7 487 358.4)" fill="#f1c3c8" fill-opacity="0.85"/>
</g>
<text x="370.9" y="294" font-size="9.6" textLength="31" lengthAdjust="spacingAndGlyphs" fill="#1a1a1a">Shoot_up</text>
<text x="412.2" y="273.6" font-size="9.6" textLength="40.8" lengthAdjust="spacingAndGlyphs" fill="#1a1a1a">Shoot_down</text>
<text x="467.7" y="271.8" font-size="9.6" textLength="27.7" lengthAdjust="spacingAndGlyphs" fill="#1a1a1a">Root_up</text>
<text x="510" y="293.4" font-size="9.6" textLength="37.5" lengthAdjust="spacingAndGlyphs" fill="#1a1a1a">Root_down</text>
<text x="428.6" y="297.6" font-size="8.6" text-anchor="middle" textLength="14.8" lengthAdjust="spacingAndGlyphs" fill="#1a1a1a">2828</text>
<text x="428.6" y="306.4" font-size="8.6" text-anchor="middle" textLength="24" lengthAdjust="spacingAndGlyphs" fill="#1a1a1a">(33.4%)</text>
<text x="485.2" y="297.6" font-size="8.6" text-anchor="middle" textLength="14.8" lengthAdjust="spacingAndGlyphs" fill="#1a1a1a">2517</text>
<text x="484.6" y="306.4" font-size="8.6" text-anchor="middle" textLength="24" lengthAdjust="spacingAndGlyphs" fill="#1a1a1a">(29.7%)</text>
<text x="391.1" y="334.4" font-size="8.6" text-anchor="middle" textLength="14.8" lengthAdjust="spacingAndGlyphs" fill="#1a1a1a">1173</text>
<text x="391.1" y="343" font-size="8.6" text-anchor="middle" textLength="24" lengthAdjust="spacingAndGlyphs" fill="#1a1a1a">(13.9%)</text>
<text x="518.6" y="334.4" font-size="8.6" text-anchor="middle" textLength="14.8" lengthAdjust="spacingAndGlyphs" fill="#1a1a1a">1386</text>
<text x="518.6" y="343" font-size="8.6" text-anchor="middle" textLength="24" lengthAdjust="spacingAndGlyphs" fill="#1a1a1a">(16.4%)</text>
<text x="458" y="313.3" font-size="8.6" text-anchor="middle" textLength="11.1" lengthAdjust="spacingAndGlyphs" fill="#1a1a1a">357</text>
<text x="456" y="322" font-size="8.6" text-anchor="middle" textLength="20.3" lengthAdjust="spacingAndGlyphs" fill="#1a1a1a">(4.2%)</text>
<text x="417.2" y="377.3" font-size="8.6" text-anchor="middle" textLength="7.4" lengthAdjust="spacingAndGlyphs" fill="#1a1a1a">81</text>
<text x="416.1" y="386.2" font-size="8.6" text-anchor="middle" textLength="14.8" lengthAdjust="spacingAndGlyphs" fill="#1a1a1a">(1%)</text>
<text x="492.5" y="377.3" font-size="8.6" text-anchor="middle" textLength="7.4" lengthAdjust="spacingAndGlyphs" fill="#1a1a1a">89</text>
<text x="492" y="386.2" font-size="8.6" text-anchor="middle" textLength="20.3" lengthAdjust="spacingAndGlyphs" fill="#1a1a1a">(1.1%)</text>
<text x="455.7" y="403.3" font-size="8.6" text-anchor="middle" textLength="7.4" lengthAdjust="spacingAndGlyphs" fill="#1a1a1a">37</text>
<text x="455.7" y="411.6" font-size="8.6" text-anchor="middle" textLength="20.3" lengthAdjust="spacingAndGlyphs" fill="#1a1a1a">(0.4%)</text>
<text x="412.2" y="325.6" font-size="8.6" text-anchor="middle" fill="#1a1a1a">0</text>
<text x="433.7" y="342.6" font-size="8.6" text-anchor="middle" fill="#1a1a1a">0</text>
<text x="495.4" y="317.6" font-size="8.6" text-anchor="middle" fill="#1a1a1a">0</text>
<text x="477.7" y="343" font-size="8.6" text-anchor="middle" fill="#1a1a1a">0</text>
<text x="455.9" y="367.4" font-size="8.6" text-anchor="middle" fill="#1a1a1a">0</text>
<text x="442.8" y="391.2" font-size="8.6" text-anchor="middle" fill="#1a1a1a">0</text>
<text x="469.3" y="391.2" font-size="8.6" text-anchor="middle" fill="#1a1a1a">0</text>
</svg></body></html>
